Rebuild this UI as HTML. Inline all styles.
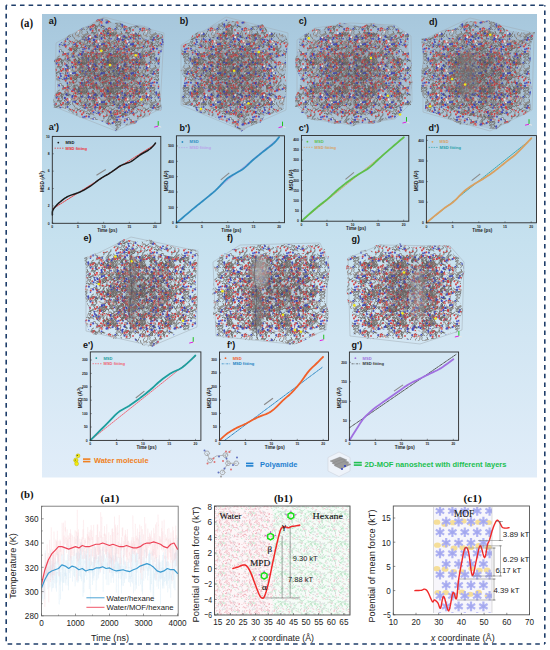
<!DOCTYPE html>
<html><head><meta charset="utf-8"><style>
html,body{margin:0;padding:0;background:#fff;}
body{width:550px;height:650px;overflow:hidden;font-family:"Liberation Sans",sans-serif;}
svg{display:block;}
</style></head><body>
<svg width="550" height="650" viewBox="0 0 550 650">
<defs><pattern id="m1" patternUnits="userSpaceOnUse" width="34" height="34"><polyline points="15.38,19.03 17.21,20.23 18.9,19.01 19.09,17.12" fill="none" stroke="#625e5a" stroke-width="1.0"/><polyline points="18.32,30.27 19.51,28.36 18.22,26.29 16.46,25.96 15.01,27.85" fill="none" stroke="#7c7874" stroke-width="1.0"/><polyline points="14.98,28.64 14.1,26.56 15.43,25.06 14.64,23.32 13.01,23.17" fill="none" stroke="#686460" stroke-width="1.0"/><polyline points="26.05,13.61 24.53,11.7 22,11.72 20.7,13.95" fill="none" stroke="#8a8682" stroke-width="1.0"/><polyline points="14.27,19.25 13.12,20.78 14.53,22.67 16.83,22.83 18.56,21.17" fill="none" stroke="#6e6a66" stroke-width="1.0"/><polyline points="23.19,6.41 22.04,8.02 20.23,7.92 19.52,5.45 20.89,4.6" fill="none" stroke="#6e6a66" stroke-width="1.0"/><polyline points="13.41,29.05 11.74,29.76 9.7,28.9" fill="none" stroke="#7c7874" stroke-width="1.0"/><polyline points="13.13,2.53 14.85,3.48 15.3,5.62 17.06,5.86 18.31,4.52" fill="none" stroke="#686460" stroke-width="1.0"/><polyline points="8.48,6.45 6.62,5.75 6.4,3.74 4.67,2.53 4.57,0.23" fill="none" stroke="#7c7874" stroke-width="1.0"/><polyline points="8.48,40.45 6.62,39.75 6.4,37.74 4.67,36.53 4.57,34.23" fill="none" stroke="#7c7874" stroke-width="1.0"/><polyline points="14.31,-3.24 13.67,-0.74 15,0.96 17.52,0.88 18.11,-0.68" fill="none" stroke="#8a8682" stroke-width="1.0"/><polyline points="14.31,30.76 13.67,33.26 15,34.96 17.52,34.88 18.11,33.32" fill="none" stroke="#8a8682" stroke-width="1.0"/><polyline points="15.15,2.06 16.83,2.5 16.88,4.76 19.14,5.87" fill="none" stroke="#8a8682" stroke-width="1.0"/><polyline points="-3.05,23.83 -2.37,21.6 -0.84,20.94" fill="none" stroke="#8a8682" stroke-width="1.0"/><polyline points="30.95,23.83 31.63,21.6 33.16,20.94" fill="none" stroke="#8a8682" stroke-width="1.0"/><polyline points="18.57,25.06 17.94,22.62 19.09,20.9 17.88,19.29 15.81,19.95" fill="none" stroke="#686460" stroke-width="1.0"/><polyline points="22.52,12.89 23.75,11.7 25.82,12.76" fill="none" stroke="#8a8682" stroke-width="1.0"/><polyline points="31.76,23.6 31.25,25.65 29.22,26.11 29.1,27.82" fill="none" stroke="#686460" stroke-width="1.0"/><polyline points="22.44,16.53 24.6,17.02 25.72,15.43 27.56,15.6" fill="none" stroke="#8a8682" stroke-width="1.0"/><polyline points="22.64,6.75 22.33,8.91 20.82,9.77" fill="none" stroke="#7c7874" stroke-width="1.0"/><polyline points="28.46,28.86 26.62,27.92 25.16,29.26 23.02,28.38" fill="none" stroke="#686460" stroke-width="1.0"/><polyline points="15.38,2.54 16.49,1.02 18.88,1.05 19.78,-0.74 18.95,-3.03" fill="none" stroke="#6e6a66" stroke-width="1.0"/><polyline points="15.38,36.54 16.49,35.02 18.88,35.05 19.78,33.26 18.95,30.97" fill="none" stroke="#6e6a66" stroke-width="1.0"/><polyline points="26.49,27.09 28.05,28.55 27.03,30.6" fill="none" stroke="#6e6a66" stroke-width="1.0"/><polyline points="28.01,8.71 26.33,7.88 26.22,5.34 24.15,4.13" fill="none" stroke="#6e6a66" stroke-width="1.0"/><polyline points="2.97,31.71 4.64,30.25 4.35,28.1" fill="none" stroke="#686460" stroke-width="1.0"/><polyline points="27.09,-1.9 25.92,0.28 26.93,2.57 29.05,2.29 30.66,3.95" fill="none" stroke="#625e5a" stroke-width="1.0"/><polyline points="27.09,32.1 25.92,34.28 26.93,36.57 29.05,36.29 30.66,37.95" fill="none" stroke="#625e5a" stroke-width="1.0"/><polyline points="11.85,2.81 10.41,1.3 7.96,1.54 7.16,-0.05 8.73,-2.01" fill="none" stroke="#8a8682" stroke-width="1.0"/><polyline points="11.85,36.81 10.41,35.3 7.96,35.54 7.16,33.95 8.73,31.99" fill="none" stroke="#8a8682" stroke-width="1.0"/><polyline points="5.05,17.56 6.93,16.63 6.78,14.59 8.75,13.7 8.95,11.26" fill="none" stroke="#686460" stroke-width="1.0"/><polyline points="8.72,22.82 9.29,21.18 11.07,20.91 11.87,18.85 10.81,17.6" fill="none" stroke="#8a8682" stroke-width="1.0"/><polyline points="18.5,-0.36 20.63,-0.5 21.51,1.73" fill="none" stroke="#8a8682" stroke-width="1.0"/><polyline points="18.5,33.64 20.63,33.5 21.51,35.73" fill="none" stroke="#8a8682" stroke-width="1.0"/><polyline points="9.15,16.09 8.67,17.73 6.18,18.16 5.55,20.66" fill="none" stroke="#625e5a" stroke-width="1.0"/><polyline points="6.6,7.73 7.65,5.91 9.36,6.12 10.02,8.33" fill="none" stroke="#8a8682" stroke-width="1.0"/><polyline points="0.79,21.52 -0.59,19.48 -3.04,19.71 -4.29,21.68 -6.14,21.22" fill="none" stroke="#7c7874" stroke-width="1.0"/><polyline points="34.79,21.52 33.41,19.48 30.96,19.71 29.71,21.68 27.86,21.22" fill="none" stroke="#7c7874" stroke-width="1.0"/><polyline points="30.28,6.62 29.11,5.2 27.42,5.28" fill="none" stroke="#8a8682" stroke-width="1.0"/><polyline points="18.47,23.96 20.46,24.83 20.21,27.39 22.15,28.49 22.16,30.78" fill="none" stroke="#6e6a66" stroke-width="1.0"/><polyline points="27.3,16.39 28.22,17.92 29.96,18.16 30.25,19.83 32.21,21" fill="none" stroke="#625e5a" stroke-width="1.0"/><polyline points="26,11.11 24.48,9.52 22.92,10.02 22.17,11.94 20.41,12.29" fill="none" stroke="#6e6a66" stroke-width="1.0"/><polyline points="3.22,26.94 1.43,26.98 0.72,25.26" fill="none" stroke="#625e5a" stroke-width="1.0"/><polyline points="37.22,26.94 35.43,26.98 34.72,25.26" fill="none" stroke="#625e5a" stroke-width="1.0"/><polyline points="25.31,26.45 23.46,24.8 24.25,22.57 25.94,22" fill="none" stroke="#7c7874" stroke-width="1.0"/><polyline points="10.26,3.43 10.13,0.89 11.93,-0.48 11.64,-2.45 13.55,-3.74" fill="none" stroke="#8a8682" stroke-width="1.0"/><polyline points="10.26,37.43 10.13,34.89 11.93,33.52 11.64,31.55 13.55,30.26" fill="none" stroke="#8a8682" stroke-width="1.0"/><polyline points="-0.68,0.78 -2.64,1.18 -3.06,3.39 -1.92,4.85 -2.76,6.78" fill="none" stroke="#686460" stroke-width="1.0"/><polyline points="-0.68,34.78 -2.64,35.18 -3.06,37.39 -1.92,38.85 -2.76,40.78" fill="none" stroke="#686460" stroke-width="1.0"/><polyline points="33.32,0.78 31.36,1.18 30.94,3.39 32.08,4.85 31.24,6.78" fill="none" stroke="#686460" stroke-width="1.0"/><polyline points="33.32,34.78 31.36,35.18 30.94,37.39 32.08,38.85 31.24,40.78" fill="none" stroke="#686460" stroke-width="1.0"/><polyline points="19.31,-0.17 17.09,0.3 16.17,2.67 14.43,2.96 13.07,1.23" fill="none" stroke="#8a8682" stroke-width="1.0"/><polyline points="19.31,33.83 17.09,34.3 16.17,36.67 14.43,36.96 13.07,35.23" fill="none" stroke="#8a8682" stroke-width="1.0"/><polyline points="-1.86,14.3 -2.63,12.58 -1.47,11.09 0.89,10.86 1.59,8.98" fill="none" stroke="#76726e" stroke-width="1.0"/><polyline points="32.14,14.3 31.37,12.58 32.53,11.09 34.89,10.86 35.59,8.98" fill="none" stroke="#76726e" stroke-width="1.0"/><polyline points="13.26,30.52 15.1,28.82 16.8,29.57" fill="none" stroke="#6e6a66" stroke-width="1.0"/><polyline points="1.54,3.35 -0.37,1.87 -2.35,2.2 -3.15,3.65" fill="none" stroke="#686460" stroke-width="1.0"/><polyline points="35.54,3.35 33.63,1.87 31.65,2.2 30.85,3.65" fill="none" stroke="#686460" stroke-width="1.0"/><polyline points="5.26,12.35 4.37,14.41 2.07,14.83 1.8,17.15" fill="none" stroke="#6e6a66" stroke-width="1.0"/><polyline points="16.36,17.1 14.22,17.68 13.78,19.99 15.64,20.97 16.84,19.84" fill="none" stroke="#625e5a" stroke-width="1.0"/><polyline points="0.32,8.82 1.71,7.55 0.98,5.95" fill="none" stroke="#6e6a66" stroke-width="1.0"/><polyline points="34.32,8.82 35.71,7.55 34.98,5.95" fill="none" stroke="#6e6a66" stroke-width="1.0"/><polyline points="21.46,12.69 19.89,10.95 17.97,11.68" fill="none" stroke="#686460" stroke-width="1.0"/><polyline points="28.49,26.14 27.09,25.09 24.8,26.29 22.69,25.23 21.01,26.26" fill="none" stroke="#625e5a" stroke-width="1.0"/><polyline points="15.71,11.02 15.53,8.97 14.07,7.88 12.24,8.89" fill="none" stroke="#76726e" stroke-width="1.0"/><polyline points="11.15,29.98 9.93,31.19 7.53,30.44 6.93,28.12 8.21,26.82" fill="none" stroke="#76726e" stroke-width="1.0"/><polyline points="30.42,8.44 30.97,10.36 29.11,11.78 27.28,10.67" fill="none" stroke="#686460" stroke-width="1.0"/><polyline points="19.13,6 17.88,4.92 15.49,5.84 13.57,4.88" fill="none" stroke="#686460" stroke-width="1.0"/><polyline points="2.86,2.78 1.1,1.37 -0.88,2.44 -0.71,4.52" fill="none" stroke="#686460" stroke-width="1.0"/><polyline points="36.86,2.78 35.1,1.37 33.12,2.44 33.29,4.52" fill="none" stroke="#686460" stroke-width="1.0"/><polyline points="11.5,15.61 12.36,17.56 14.88,17.57 15.86,19.96" fill="none" stroke="#7c7874" stroke-width="1.0"/><polyline points="29.02,27.4 27.84,25.41 25.82,25.36 24.72,26.74" fill="none" stroke="#76726e" stroke-width="1.0"/><polyline points="12.77,5.7 11.26,7.68 9.55,7.62 8.83,9.25" fill="none" stroke="#625e5a" stroke-width="1.0"/><polyline points="25.61,0.58 24.28,-0.61 22.22,0.16" fill="none" stroke="#8a8682" stroke-width="1.0"/><polyline points="25.61,34.58 24.28,33.39 22.22,34.16" fill="none" stroke="#8a8682" stroke-width="1.0"/><polyline points="20.22,7.61 19.14,9.71 16.6,9.66 15.93,7.68" fill="none" stroke="#8a8682" stroke-width="1.0"/><polyline points="31.08,11.63 31,9.63 28.68,9.03" fill="none" stroke="#8a8682" stroke-width="1.0"/><polyline points="-0.82,27.02 -3.01,25.89 -3.14,24.04" fill="none" stroke="#8a8682" stroke-width="1.0"/><polyline points="33.18,27.02 30.99,25.89 30.86,24.04" fill="none" stroke="#8a8682" stroke-width="1.0"/><polyline points="20.61,5.35 23.07,5.49 24.33,3.22 25.99,3.21" fill="none" stroke="#686460" stroke-width="1.0"/><polyline points="26.19,0.05 25.48,-1.68 23.19,-1.53" fill="none" stroke="#625e5a" stroke-width="1.0"/><polyline points="26.19,34.05 25.48,32.32 23.19,32.47" fill="none" stroke="#625e5a" stroke-width="1.0"/><polyline points="32.49,19.95 31.48,18.2 29.46,18.48 28.72,20.47" fill="none" stroke="#6e6a66" stroke-width="1.0"/><polyline points="-1.82,-1.23 -0.22,0.82 2.06,0.66 2.88,-1.47" fill="none" stroke="#76726e" stroke-width="1.0"/><polyline points="-1.82,32.77 -0.22,34.82 2.06,34.66 2.88,32.53" fill="none" stroke="#76726e" stroke-width="1.0"/><polyline points="32.18,-1.23 33.78,0.82 36.06,0.66 36.88,-1.47" fill="none" stroke="#76726e" stroke-width="1.0"/><polyline points="32.18,32.77 33.78,34.82 36.06,34.66 36.88,32.53" fill="none" stroke="#76726e" stroke-width="1.0"/><polyline points="-1.13,28.21 -0.04,26.44 2.02,26.58" fill="none" stroke="#625e5a" stroke-width="1.0"/><polyline points="32.87,28.21 33.96,26.44 36.02,26.58" fill="none" stroke="#625e5a" stroke-width="1.0"/><polyline points="29.11,28.71 27.31,27.89 27.64,25.55 26.36,24.29 23.86,24.75" fill="none" stroke="#686460" stroke-width="1.0"/><polyline points="15.97,21.77 15.14,23.83 16.72,25.51 18.35,25.39" fill="none" stroke="#8a8682" stroke-width="1.0"/><polyline points="20.15,3.06 22.33,4 22.14,6.02" fill="none" stroke="#686460" stroke-width="1.0"/><polyline points="4.73,6.99 3.75,9.31 5.27,10.91 4.07,12.97 4.77,14.62" fill="none" stroke="#7c7874" stroke-width="1.0"/><polyline points="22.12,3.61 19.92,2.61 18.04,3.64 16.4,2.58 14.83,3.47" fill="none" stroke="#686460" stroke-width="1.0"/><polyline points="-0.06,24.03 0.04,22.24 -1.47,20.81 -0.83,18.99 1.54,18.25" fill="none" stroke="#8a8682" stroke-width="1.0"/><polyline points="33.94,24.03 34.04,22.24 32.53,20.81 33.17,18.99 35.54,18.25" fill="none" stroke="#8a8682" stroke-width="1.0"/><polyline points="-0.9,4.61 -1.11,2.76 0.33,1.81 0.44,-0.68 -1.34,-1.51" fill="none" stroke="#6e6a66" stroke-width="1.0"/><polyline points="-0.9,38.61 -1.11,36.76 0.33,35.81 0.44,33.32 -1.34,32.49" fill="none" stroke="#6e6a66" stroke-width="1.0"/><polyline points="33.1,4.61 32.89,2.76 34.33,1.81 34.44,-0.68 32.66,-1.51" fill="none" stroke="#6e6a66" stroke-width="1.0"/><polyline points="33.1,38.61 32.89,36.76 34.33,35.81 34.44,33.32 32.66,32.49" fill="none" stroke="#6e6a66" stroke-width="1.0"/><polyline points="6.31,18.63 6.83,21.16 8.91,22.08" fill="none" stroke="#76726e" stroke-width="1.0"/><polyline points="30.82,20.92 28.75,20.95 27.94,22.47" fill="none" stroke="#8a8682" stroke-width="1.0"/><polyline points="5.91,17.67 4.02,19.13 4.21,21.22 6.02,22.09 5.91,24.17" fill="none" stroke="#8a8682" stroke-width="1.0"/><polyline points="28.5,-4.93 28.71,-2.43 27.02,-1.3 26.99,0.36" fill="none" stroke="#76726e" stroke-width="1.0"/><polyline points="28.5,29.07 28.71,31.57 27.02,32.7 26.99,34.36" fill="none" stroke="#76726e" stroke-width="1.0"/><circle cx="20.95" cy="14.73" r="0.99" fill="#3a42bc"/><circle cx="25.56" cy="10.36" r="1.08" fill="#3a42bc"/><circle cx="8.31" cy="28.71" r="0.96" fill="#d23a3a"/><circle cx="13.49" cy="1.77" r="0.83" fill="#b0b0b0"/><circle cx="13.49" cy="35.77" r="0.83" fill="#b0b0b0"/><circle cx="30.94" cy="18.53" r="0.93" fill="#e8e8e8"/><circle cx="8.02" cy="2.33" r="1.11" fill="#b0b0b0"/><circle cx="22.63" cy="29.46" r="0.98" fill="#3a42bc"/><circle cx="5.58" cy="22.08" r="0.98" fill="#3a42bc"/><circle cx="30.72" cy="3.35" r="0.84" fill="#b0b0b0"/><circle cx="29.99" cy="19.58" r="0.8" fill="#3a42bc"/><circle cx="8.29" cy="10.18" r="0.86" fill="#d23a3a"/><circle cx="14.99" cy="15.3" r="0.93" fill="#3a42bc"/><circle cx="12.12" cy="19.91" r="0.9" fill="#d23a3a"/><circle cx="15.47" cy="10.67" r="0.96" fill="#d23a3a"/><circle cx="31.75" cy="-0.77" r="1.08" fill="#3a42bc"/><circle cx="31.75" cy="33.23" r="1.08" fill="#3a42bc"/><circle cx="6.89" cy="29.21" r="1.09" fill="#b0b0b0"/><circle cx="6.65" cy="28.49" r="1.09" fill="#d23a3a"/><circle cx="0.55" cy="21.6" r="1.12" fill="#b0b0b0"/><circle cx="34.55" cy="21.6" r="1.12" fill="#b0b0b0"/><circle cx="6.87" cy="21.5" r="1.1" fill="#d23a3a"/><circle cx="-0.81" cy="22.1" r="1.03" fill="#d23a3a"/><circle cx="33.19" cy="22.1" r="1.03" fill="#d23a3a"/><circle cx="10.64" cy="30.61" r="0.93" fill="#e87474"/><circle cx="29.89" cy="11.39" r="0.94" fill="#b0b0b0"/><circle cx="2.69" cy="7.59" r="0.84" fill="#d23a3a"/><circle cx="23.5" cy="9.14" r="0.88" fill="#b0b0b0"/><circle cx="22.6" cy="26.88" r="1.06" fill="#d23a3a"/><circle cx="17.83" cy="3.94" r="0.87" fill="#3a42bc"/><circle cx="10.23" cy="31.51" r="0.87" fill="#e8e8e8"/><circle cx="4.51" cy="22.71" r="1.11" fill="#3a42bc"/><circle cx="14.97" cy="17.96" r="1.09" fill="#3a42bc"/><circle cx="0.24" cy="19.94" r="0.88" fill="#3a42bc"/><circle cx="34.24" cy="19.94" r="0.88" fill="#3a42bc"/><circle cx="27.31" cy="2.96" r="1.12" fill="#d23a3a"/><circle cx="6.44" cy="6.1" r="0.98" fill="#b0b0b0"/><circle cx="6.34" cy="30.5" r="1" fill="#d23a3a"/><circle cx="31.16" cy="19.89" r="1.1" fill="#d23a3a"/><circle cx="17" cy="6.12" r="1.05" fill="#3a42bc"/><circle cx="30.93" cy="10.91" r="1.05" fill="#3a42bc"/><circle cx="17.57" cy="17.19" r="1" fill="#e87474"/><circle cx="-0.56" cy="25.31" r="0.86" fill="#3a42bc"/><circle cx="33.44" cy="25.31" r="0.86" fill="#3a42bc"/><circle cx="26.51" cy="5.62" r="0.94" fill="#3a42bc"/><circle cx="22.73" cy="18.63" r="1.05" fill="#d23a3a"/><circle cx="26.9" cy="8.02" r="0.97" fill="#3a42bc"/><circle cx="28.99" cy="20.51" r="0.81" fill="#d23a3a"/><circle cx="20.29" cy="24.3" r="0.94" fill="#3a42bc"/><circle cx="29.94" cy="11.05" r="0.81" fill="#3a42bc"/><circle cx="16.87" cy="14.78" r="1.03" fill="#3a42bc"/><circle cx="29.13" cy="1.05" r="1.09" fill="#d23a3a"/><circle cx="29.13" cy="35.05" r="1.09" fill="#d23a3a"/><circle cx="19.34" cy="18.47" r="1.03" fill="#b0b0b0"/><circle cx="21.19" cy="1.84" r="0.81" fill="#3a42bc"/><circle cx="21.19" cy="35.84" r="0.81" fill="#3a42bc"/><circle cx="10.69" cy="21.12" r="1.05" fill="#3a42bc"/><circle cx="26.02" cy="16.94" r="1.06" fill="#e8e8e8"/><circle cx="5.83" cy="8.66" r="0.96" fill="#d23a3a"/><circle cx="22.41" cy="20.26" r="0.82" fill="#3a42bc"/><circle cx="13.96" cy="12.39" r="1.03" fill="#d23a3a"/><circle cx="-1.45" cy="4.37" r="1.04" fill="#b0b0b0"/><circle cx="32.55" cy="4.37" r="1.04" fill="#b0b0b0"/><circle cx="-0.47" cy="4.92" r="0.97" fill="#3a42bc"/><circle cx="33.53" cy="4.92" r="0.97" fill="#3a42bc"/><circle cx="-0.49" cy="0.11" r="1.08" fill="#3a42bc"/><circle cx="-0.49" cy="34.11" r="1.08" fill="#3a42bc"/><circle cx="33.51" cy="0.11" r="1.08" fill="#3a42bc"/><circle cx="33.51" cy="34.11" r="1.08" fill="#3a42bc"/><circle cx="4.81" cy="13.36" r="0.95" fill="#d23a3a"/><circle cx="31.81" cy="-0.96" r="1.12" fill="#e8e8e8"/><circle cx="31.81" cy="33.04" r="1.12" fill="#e8e8e8"/><circle cx="25.95" cy="24.96" r="0.89" fill="#d23a3a"/><circle cx="4.04" cy="29.08" r="0.95" fill="#3a42bc"/><circle cx="31.7" cy="12.38" r="1.1" fill="#d23a3a"/><circle cx="31.39" cy="7.42" r="0.93" fill="#d23a3a"/><circle cx="22.09" cy="1.99" r="0.98" fill="#d23a3a"/><circle cx="22.09" cy="35.99" r="0.98" fill="#d23a3a"/><circle cx="31.01" cy="30.07" r="0.95" fill="#d23a3a"/><circle cx="13.36" cy="28.66" r="0.92" fill="#3a42bc"/><circle cx="1.67" cy="14.23" r="0.86" fill="#d23a3a"/><circle cx="35.67" cy="14.23" r="0.86" fill="#d23a3a"/><circle cx="18.68" cy="5.57" r="0.93" fill="#d23a3a"/><circle cx="20.19" cy="25.83" r="0.94" fill="#3a42bc"/><circle cx="-0.23" cy="23.09" r="0.96" fill="#e87474"/><circle cx="33.77" cy="23.09" r="0.96" fill="#e87474"/><circle cx="18.37" cy="14.25" r="1.02" fill="#d23a3a"/><circle cx="12.34" cy="9.33" r="0.97" fill="#d23a3a"/><circle cx="25.21" cy="17.41" r="1.1" fill="#3a42bc"/><circle cx="24.32" cy="9.13" r="0.82" fill="#d23a3a"/><circle cx="24.75" cy="26.41" r="1.05" fill="#d23a3a"/><circle cx="24.6" cy="30.84" r="1.12" fill="#d23a3a"/></pattern><pattern id="m2" patternUnits="userSpaceOnUse" width="29" height="29"><polyline points="26.82,27.51 26.42,25.53 27.52,24.12" fill="none" stroke="#8a8682" stroke-width="1.0"/><polyline points="0.41,17.98 -0.29,16 -2.58,15.59" fill="none" stroke="#7c7874" stroke-width="1.0"/><polyline points="29.41,17.98 28.71,16 26.42,15.59" fill="none" stroke="#7c7874" stroke-width="1.0"/><polyline points="22.35,5.96 23.97,3.97 26.39,4.44 26.85,6.3" fill="none" stroke="#625e5a" stroke-width="1.0"/><polyline points="23.61,5.15 22.65,6.65 20.55,6.35 19,7.66" fill="none" stroke="#686460" stroke-width="1.0"/><polyline points="7.99,16.61 7.02,14.99 8.35,13.43 7.98,11.76" fill="none" stroke="#625e5a" stroke-width="1.0"/><polyline points="20.51,24.03 22.64,24.54 23.76,26.86 25.75,26.87 26.58,24.74" fill="none" stroke="#6e6a66" stroke-width="1.0"/><polyline points="23.34,-1.48 21.43,0.23 19.87,-0.27 19.47,-2.02" fill="none" stroke="#8a8682" stroke-width="1.0"/><polyline points="23.34,27.52 21.43,29.23 19.87,28.73 19.47,26.98" fill="none" stroke="#8a8682" stroke-width="1.0"/><polyline points="-1.44,6.26 0.46,5.24 0.76,3.24 -0.73,1.99 0.09,-0.37" fill="none" stroke="#76726e" stroke-width="1.0"/><polyline points="-1.44,35.26 0.46,34.24 0.76,32.24 -0.73,30.99 0.09,28.63" fill="none" stroke="#76726e" stroke-width="1.0"/><polyline points="27.56,6.26 29.46,5.24 29.76,3.24 28.27,1.99 29.09,-0.37" fill="none" stroke="#76726e" stroke-width="1.0"/><polyline points="27.56,35.26 29.46,34.24 29.76,32.24 28.27,30.99 29.09,28.63" fill="none" stroke="#76726e" stroke-width="1.0"/><polyline points="23.5,2.02 24.01,0.06 26.14,-0.23 26.52,-1.9 25.06,-3.49" fill="none" stroke="#8a8682" stroke-width="1.0"/><polyline points="23.5,31.02 24.01,29.06 26.14,28.77 26.52,27.1 25.06,25.51" fill="none" stroke="#8a8682" stroke-width="1.0"/><polyline points="7.2,-1.41 9.17,-2.29 11.02,-0.48 11.01,1.5 12.85,2.28" fill="none" stroke="#76726e" stroke-width="1.0"/><polyline points="7.2,27.59 9.17,26.71 11.02,28.52 11.01,30.5 12.85,31.28" fill="none" stroke="#76726e" stroke-width="1.0"/><polyline points="0.88,18.98 2.75,18.08 2.87,16.19" fill="none" stroke="#625e5a" stroke-width="1.0"/><polyline points="29.88,18.98 31.75,18.08 31.87,16.19" fill="none" stroke="#625e5a" stroke-width="1.0"/><polyline points="6.57,1.8 6.01,-0.33 7.56,-1.6 10.01,-0.98" fill="none" stroke="#6e6a66" stroke-width="1.0"/><polyline points="6.57,30.8 6.01,28.67 7.56,27.4 10.01,28.02" fill="none" stroke="#6e6a66" stroke-width="1.0"/><polyline points="11.24,12.17 13.52,11.98 14.79,13.35 16.45,12.96" fill="none" stroke="#8a8682" stroke-width="1.0"/><polyline points="-0.3,8.05 -2.06,6.35 -4.04,7.23" fill="none" stroke="#8a8682" stroke-width="1.0"/><polyline points="28.7,8.05 26.94,6.35 24.96,7.23" fill="none" stroke="#8a8682" stroke-width="1.0"/><polyline points="1.24,23.41 3.17,24.79 4.88,23.75 6.42,24.4" fill="none" stroke="#76726e" stroke-width="1.0"/><polyline points="18.99,4.92 19.21,3.2 17.49,2.4 17.36,0.04 15.36,-0.85" fill="none" stroke="#7c7874" stroke-width="1.0"/><polyline points="18.99,33.92 19.21,32.2 17.49,31.4 17.36,29.04 15.36,28.15" fill="none" stroke="#7c7874" stroke-width="1.0"/><polyline points="0.85,10.17 3.34,9.45 3.89,7.06" fill="none" stroke="#8a8682" stroke-width="1.0"/><polyline points="29.85,10.17 32.34,9.45 32.89,7.06" fill="none" stroke="#8a8682" stroke-width="1.0"/><polyline points="19.24,15.42 17.56,16.93 17.93,19.49 16.49,20.27 14.88,19.44" fill="none" stroke="#76726e" stroke-width="1.0"/><polyline points="15.52,6.11 15.46,8.13 17.23,9.1" fill="none" stroke="#6e6a66" stroke-width="1.0"/><polyline points="27.7,1.02 25.53,1.17 24.6,3.19" fill="none" stroke="#8a8682" stroke-width="1.0"/><polyline points="23.6,5.27 22.35,3.64 20.37,3.8" fill="none" stroke="#625e5a" stroke-width="1.0"/><polyline points="21.38,12.22 19.67,11.84 18.28,13.81 16.57,13.62 15.15,15.4" fill="none" stroke="#76726e" stroke-width="1.0"/><polyline points="23.16,3.4 24.2,1.94 26.06,2.39 26.85,4.77 25.43,6.63" fill="none" stroke="#6e6a66" stroke-width="1.0"/><polyline points="22.92,16.52 22.43,14.02 20.57,13.59" fill="none" stroke="#7c7874" stroke-width="1.0"/><polyline points="3.21,23.99 5.23,22.42 4.96,20.57" fill="none" stroke="#686460" stroke-width="1.0"/><polyline points="12.23,18.42 13.04,16.89 11.8,14.91" fill="none" stroke="#6e6a66" stroke-width="1.0"/><polyline points="7.54,-2.13 5.59,-1.18 5.59,0.56 7.41,1.78" fill="none" stroke="#686460" stroke-width="1.0"/><polyline points="7.54,26.87 5.59,27.82 5.59,29.56 7.41,30.78" fill="none" stroke="#686460" stroke-width="1.0"/><polyline points="16.17,-0.7 17.23,-2.27 16.18,-3.74 14.45,-3.87" fill="none" stroke="#686460" stroke-width="1.0"/><polyline points="16.17,28.3 17.23,26.73 16.18,25.26 14.45,25.13" fill="none" stroke="#686460" stroke-width="1.0"/><polyline points="19.41,3.22 18.12,1.53 16.34,2.07 16.2,4.39 17.65,5.81" fill="none" stroke="#625e5a" stroke-width="1.0"/><polyline points="5.95,14.52 7.2,12.67 8.95,12.77" fill="none" stroke="#686460" stroke-width="1.0"/><polyline points="23,9.72 21.74,10.94 19.53,10.13" fill="none" stroke="#8a8682" stroke-width="1.0"/><polyline points="23.69,4.73 23.33,2.38 25.05,0.7 26.6,1.4" fill="none" stroke="#686460" stroke-width="1.0"/><polyline points="23.69,33.73 23.33,31.38 25.05,29.7 26.6,30.4" fill="none" stroke="#686460" stroke-width="1.0"/><polyline points="19.33,10.91 17.37,9.43 17.75,7.76" fill="none" stroke="#76726e" stroke-width="1.0"/><polyline points="19.38,18.97 21.87,19.4 23.03,18.12 25.52,18.69" fill="none" stroke="#76726e" stroke-width="1.0"/><polyline points="-5.46,16.52 -4.77,14.88 -2.86,14.55 -2.39,12.1 -0.03,11.35" fill="none" stroke="#8a8682" stroke-width="1.0"/><polyline points="23.54,16.52 24.23,14.88 26.14,14.55 26.61,12.1 28.97,11.35" fill="none" stroke="#8a8682" stroke-width="1.0"/><polyline points="10.18,-2.15 9.01,-3.41 7.22,-2.59 7.12,-0.18 5.03,1.24" fill="none" stroke="#6e6a66" stroke-width="1.0"/><polyline points="10.18,26.85 9.01,25.59 7.22,26.41 7.12,28.82 5.03,30.24" fill="none" stroke="#6e6a66" stroke-width="1.0"/><polyline points="19.93,-0.54 21.08,1.5 20.13,3.43" fill="none" stroke="#686460" stroke-width="1.0"/><polyline points="19.93,28.46 21.08,30.5 20.13,32.43" fill="none" stroke="#686460" stroke-width="1.0"/><polyline points="12.36,21.6 11.06,20.46 9.04,20.74 8.3,22.27" fill="none" stroke="#76726e" stroke-width="1.0"/><polyline points="10.54,8.55 9.43,6.46 10.62,5.33 9.77,3.04" fill="none" stroke="#8a8682" stroke-width="1.0"/><polyline points="15.69,18.57 17.28,16.62 19.32,17.26 20.54,15.94" fill="none" stroke="#625e5a" stroke-width="1.0"/><polyline points="8.14,23.16 6.54,24.9 4.43,24.69 3.31,27.03" fill="none" stroke="#8a8682" stroke-width="1.0"/><polyline points="22.91,3.36 24.63,3.46 26.05,5.43 27.65,5.49" fill="none" stroke="#76726e" stroke-width="1.0"/><polyline points="8.53,5.84 8.87,8.33 11.3,8.9" fill="none" stroke="#625e5a" stroke-width="1.0"/><polyline points="20.89,0.09 21.56,2.29 19.64,3.68 19.62,6.05 20.81,7.21" fill="none" stroke="#625e5a" stroke-width="1.0"/><polyline points="20.89,29.09 21.56,31.29 19.64,32.68 19.62,35.05 20.81,36.21" fill="none" stroke="#625e5a" stroke-width="1.0"/><polyline points="2.43,7.19 1.67,9.14 3.31,10.54" fill="none" stroke="#6e6a66" stroke-width="1.0"/><polyline points="0.2,14.66 0.5,12.48 -1.37,10.77" fill="none" stroke="#686460" stroke-width="1.0"/><polyline points="29.2,14.66 29.5,12.48 27.63,10.77" fill="none" stroke="#686460" stroke-width="1.0"/><polyline points="15.91,19.32 17.71,19.22 18.61,21.34" fill="none" stroke="#7c7874" stroke-width="1.0"/><polyline points="18.47,19.25 16.55,18.07 14.17,18.74 12.85,17.27" fill="none" stroke="#8a8682" stroke-width="1.0"/><polyline points="-2.83,6.38 -0.91,5.72 -0.56,3.71 -1.84,2.62 -4.15,3.49" fill="none" stroke="#6e6a66" stroke-width="1.0"/><polyline points="26.17,6.38 28.09,5.72 28.44,3.71 27.16,2.62 24.85,3.49" fill="none" stroke="#6e6a66" stroke-width="1.0"/><polyline points="0.93,-5.6 0.09,-3.41 -1.71,-3.53 -2.65,-1.35 -1.23,0.03" fill="none" stroke="#76726e" stroke-width="1.0"/><polyline points="0.93,23.4 0.09,25.59 -1.71,25.47 -2.65,27.65 -1.23,29.03" fill="none" stroke="#76726e" stroke-width="1.0"/><polyline points="29.93,-5.6 29.09,-3.41 27.29,-3.53 26.35,-1.35 27.77,0.03" fill="none" stroke="#76726e" stroke-width="1.0"/><polyline points="29.93,23.4 29.09,25.59 27.29,25.47 26.35,27.65 27.77,29.03" fill="none" stroke="#76726e" stroke-width="1.0"/><polyline points="27.76,-0.79 27.34,0.95 25.67,1.69 23.41,0.57 21.67,1.85" fill="none" stroke="#76726e" stroke-width="1.0"/><polyline points="27.76,28.21 27.34,29.95 25.67,30.69 23.41,29.57 21.67,30.85" fill="none" stroke="#76726e" stroke-width="1.0"/><polyline points="13.99,6.56 16.03,6.75 17.36,4.94 19.71,5.01 20.3,7.21" fill="none" stroke="#7c7874" stroke-width="1.0"/><polyline points="25.36,5.64 22.89,5.57 21.76,6.93 22.67,8.3 22.24,9.92" fill="none" stroke="#625e5a" stroke-width="1.0"/><polyline points="5.67,15.27 6.31,17.1 8.06,17.03 8.77,18.58" fill="none" stroke="#76726e" stroke-width="1.0"/><polyline points="14.14,-5.21 13.03,-3.71 13.83,-2.12 12.63,-0.53 10.17,-0.6" fill="none" stroke="#8a8682" stroke-width="1.0"/><polyline points="14.14,23.79 13.03,25.29 13.83,26.88 12.63,28.47 10.17,28.4" fill="none" stroke="#8a8682" stroke-width="1.0"/><polyline points="0.4,3.57 -1.87,2.63 -3.73,3.46" fill="none" stroke="#8a8682" stroke-width="1.0"/><polyline points="29.4,3.57 27.13,2.63 25.27,3.46" fill="none" stroke="#8a8682" stroke-width="1.0"/><polyline points="21.11,11.29 22.63,12.35 22.13,14.59 24.14,16.17 24.11,17.89" fill="none" stroke="#76726e" stroke-width="1.0"/><polyline points="11.88,20 13.27,20.94 14.64,20.08 16.72,20.69" fill="none" stroke="#6e6a66" stroke-width="1.0"/><polyline points="18.51,17.15 19.31,19.46 17.96,21.51 16.36,21.43 15.45,23.17" fill="none" stroke="#625e5a" stroke-width="1.0"/><polyline points="2.32,11.98 2.01,9.57 0.02,8.46 -1.58,9.84 -0.81,11.63" fill="none" stroke="#8a8682" stroke-width="1.0"/><polyline points="31.32,11.98 31.01,9.57 29.02,8.46 27.42,9.84 28.19,11.63" fill="none" stroke="#8a8682" stroke-width="1.0"/><circle cx="17.91" cy="9.44" r="0.84" fill="#d23a3a"/><circle cx="6.42" cy="20.06" r="0.99" fill="#e87474"/><circle cx="6.75" cy="10.89" r="1.11" fill="#3a42bc"/><circle cx="23.28" cy="6.46" r="1.01" fill="#d23a3a"/><circle cx="14.97" cy="15.23" r="1.02" fill="#3a42bc"/><circle cx="15.47" cy="24.39" r="0.96" fill="#d23a3a"/><circle cx="11.65" cy="12.39" r="1.02" fill="#e8e8e8"/><circle cx="24.06" cy="9.85" r="0.82" fill="#3a42bc"/><circle cx="1.42" cy="10.42" r="0.96" fill="#3a42bc"/><circle cx="30.42" cy="10.42" r="0.96" fill="#3a42bc"/><circle cx="6.02" cy="4.11" r="0.94" fill="#d23a3a"/><circle cx="8.42" cy="7.57" r="1.12" fill="#3a42bc"/><circle cx="23.28" cy="2.92" r="0.94" fill="#e87474"/><circle cx="25.93" cy="18.33" r="0.92" fill="#d23a3a"/><circle cx="17.63" cy="6.41" r="1.07" fill="#d23a3a"/><circle cx="1.13" cy="5.65" r="0.98" fill="#b0b0b0"/><circle cx="30.13" cy="5.65" r="0.98" fill="#b0b0b0"/><circle cx="13.01" cy="20.09" r="1.1" fill="#d23a3a"/><circle cx="18" cy="11.93" r="0.83" fill="#e87474"/><circle cx="14.52" cy="9.11" r="1.05" fill="#3a42bc"/><circle cx="4.24" cy="8.7" r="0.8" fill="#d23a3a"/><circle cx="9.22" cy="25.13" r="0.95" fill="#3a42bc"/><circle cx="10.06" cy="0.52" r="0.8" fill="#3a42bc"/><circle cx="10.06" cy="29.52" r="0.8" fill="#3a42bc"/><circle cx="17.04" cy="25.98" r="0.91" fill="#b0b0b0"/><circle cx="1.58" cy="27" r="0.88" fill="#d23a3a"/><circle cx="30.58" cy="27" r="0.88" fill="#d23a3a"/><circle cx="19.12" cy="16.97" r="1.01" fill="#d23a3a"/><circle cx="24.74" cy="11.61" r="0.95" fill="#b0b0b0"/><circle cx="1.31" cy="6.67" r="1.05" fill="#d23a3a"/><circle cx="30.31" cy="6.67" r="1.05" fill="#d23a3a"/><circle cx="9.61" cy="-0.1" r="0.88" fill="#d23a3a"/><circle cx="9.61" cy="28.9" r="0.88" fill="#d23a3a"/><circle cx="2.25" cy="9.2" r="0.81" fill="#3a42bc"/><circle cx="23.51" cy="25.63" r="0.91" fill="#3a42bc"/><circle cx="22.67" cy="25.1" r="1.04" fill="#d23a3a"/><circle cx="7.36" cy="23.23" r="0.84" fill="#b0b0b0"/><circle cx="2.14" cy="8.75" r="0.96" fill="#3a42bc"/><circle cx="8.08" cy="17.76" r="0.91" fill="#d23a3a"/><circle cx="9.33" cy="11.95" r="0.89" fill="#d23a3a"/><circle cx="6.33" cy="23.83" r="0.82" fill="#e87474"/><circle cx="14.62" cy="6.73" r="0.85" fill="#b0b0b0"/><circle cx="24.94" cy="17.37" r="0.95" fill="#b0b0b0"/><circle cx="4.16" cy="25.78" r="0.86" fill="#d23a3a"/><circle cx="8.36" cy="19.98" r="1.08" fill="#3a42bc"/><circle cx="10.72" cy="18.16" r="0.93" fill="#3a42bc"/><circle cx="22.02" cy="14.14" r="0.9" fill="#d23a3a"/><circle cx="16.28" cy="1.98" r="0.88" fill="#d23a3a"/><circle cx="16.28" cy="30.98" r="0.88" fill="#d23a3a"/><circle cx="3.23" cy="8.14" r="1.12" fill="#e8e8e8"/><circle cx="20.95" cy="4.51" r="1.04" fill="#3a42bc"/><circle cx="13.13" cy="21.2" r="0.89" fill="#d23a3a"/><circle cx="-1.6" cy="17.29" r="0.85" fill="#3a42bc"/><circle cx="27.4" cy="17.29" r="0.85" fill="#3a42bc"/><circle cx="2.69" cy="12.45" r="1.05" fill="#d23a3a"/><circle cx="14" cy="4.36" r="0.99" fill="#d23a3a"/><circle cx="10.1" cy="17.47" r="0.96" fill="#3a42bc"/><circle cx="18.45" cy="11.49" r="0.87" fill="#b0b0b0"/><circle cx="23.78" cy="24.89" r="0.96" fill="#3a42bc"/><circle cx="1.17" cy="23.61" r="0.81" fill="#d23a3a"/><circle cx="30.17" cy="23.61" r="0.81" fill="#d23a3a"/><circle cx="-1.02" cy="-1.82" r="0.94" fill="#d23a3a"/><circle cx="-1.02" cy="27.18" r="0.94" fill="#d23a3a"/><circle cx="27.98" cy="-1.82" r="0.94" fill="#d23a3a"/><circle cx="27.98" cy="27.18" r="0.94" fill="#d23a3a"/><circle cx="12.76" cy="15.37" r="0.86" fill="#e8e8e8"/><circle cx="15.69" cy="4.77" r="0.84" fill="#e87474"/><circle cx="9.65" cy="13.25" r="1.04" fill="#e87474"/><circle cx="17.05" cy="14.95" r="1.04" fill="#3a42bc"/><circle cx="24.6" cy="-0.4" r="0.89" fill="#3a42bc"/><circle cx="24.6" cy="28.6" r="0.89" fill="#3a42bc"/></pattern><pattern id="m3" patternUnits="userSpaceOnUse" width="31" height="31"><polyline points="21.14,2.84 19.31,3.56 19.51,5.61 17.14,6.62 15.05,5.14" fill="none" stroke="#625e5a" stroke-width="1.0"/><polyline points="2.82,2.33 0.67,2.58 0.12,4.73 -1.3,5.48" fill="none" stroke="#686460" stroke-width="1.0"/><polyline points="33.82,2.33 31.67,2.58 31.12,4.73 29.7,5.48" fill="none" stroke="#686460" stroke-width="1.0"/><polyline points="28.22,2.13 28.06,0.38 25.68,-0.4" fill="none" stroke="#6e6a66" stroke-width="1.0"/><polyline points="28.22,33.13 28.06,31.38 25.68,30.6" fill="none" stroke="#6e6a66" stroke-width="1.0"/><polyline points="22.81,9.66 21.26,10.72 21.39,12.53 22.9,13.32 24.55,12.51" fill="none" stroke="#8a8682" stroke-width="1.0"/><polyline points="20.14,10.58 21.52,8.82 20.55,7.21" fill="none" stroke="#625e5a" stroke-width="1.0"/><polyline points="17.87,16.85 19.42,18.16 21.03,17.71" fill="none" stroke="#625e5a" stroke-width="1.0"/><polyline points="6.95,5.32 6.23,7.09 7.92,8.66" fill="none" stroke="#686460" stroke-width="1.0"/><polyline points="21.74,10.76 20.42,12.45 21.59,14.59 23.72,14.15 24.81,11.83" fill="none" stroke="#6e6a66" stroke-width="1.0"/><polyline points="10.32,23.43 11.36,21.21 13.84,21.59" fill="none" stroke="#686460" stroke-width="1.0"/><polyline points="19.21,-0.95 17.29,-1 16.26,-2.28 17.5,-4.1 16.4,-6.38" fill="none" stroke="#6e6a66" stroke-width="1.0"/><polyline points="19.21,30.05 17.29,30 16.26,28.72 17.5,26.9 16.4,24.62" fill="none" stroke="#6e6a66" stroke-width="1.0"/><polyline points="21.99,20.97 22.57,19.14 21.25,17.11" fill="none" stroke="#625e5a" stroke-width="1.0"/><polyline points="8.51,6.79 9.46,9.15 11.66,9.64" fill="none" stroke="#686460" stroke-width="1.0"/><polyline points="2.32,16.94 4.18,18.24 6.11,17.43" fill="none" stroke="#7c7874" stroke-width="1.0"/><polyline points="29.34,25.83 28.1,27.07 26.19,26.59 24.75,27.6" fill="none" stroke="#76726e" stroke-width="1.0"/><polyline points="0.25,21.59 1.92,23.46 1.18,24.96 1.97,27.05 0.65,28.34" fill="none" stroke="#6e6a66" stroke-width="1.0"/><polyline points="31.25,21.59 32.92,23.46 32.18,24.96 32.97,27.05 31.65,28.34" fill="none" stroke="#6e6a66" stroke-width="1.0"/><polyline points="7.11,25.13 4.64,24.76 4,22.64 1.72,22.19 -0.05,23.91" fill="none" stroke="#7c7874" stroke-width="1.0"/><polyline points="38.11,25.13 35.64,24.76 35,22.64 32.72,22.19 30.95,23.91" fill="none" stroke="#7c7874" stroke-width="1.0"/><polyline points="20.26,17.12 18.93,18.66 17.2,18.44" fill="none" stroke="#6e6a66" stroke-width="1.0"/><polyline points="21.33,-4.71 19.35,-4.78 18.59,-2.44 20.57,-0.93" fill="none" stroke="#76726e" stroke-width="1.0"/><polyline points="21.33,26.29 19.35,26.22 18.59,28.56 20.57,30.07" fill="none" stroke="#76726e" stroke-width="1.0"/><polyline points="1.59,18.01 -0.65,19.05 -2.57,17.89" fill="none" stroke="#76726e" stroke-width="1.0"/><polyline points="32.59,18.01 30.35,19.05 28.43,17.89" fill="none" stroke="#76726e" stroke-width="1.0"/><polyline points="23.64,22.38 21.69,23.06 20.19,21.82 20.73,20.1" fill="none" stroke="#686460" stroke-width="1.0"/><polyline points="25.96,13.05 28.44,13.5 29.24,15.93 27.41,17.43" fill="none" stroke="#76726e" stroke-width="1.0"/><polyline points="16.42,5.22 14.88,5.71 14.12,7.73" fill="none" stroke="#7c7874" stroke-width="1.0"/><polyline points="4.76,14.2 5.3,12.16 7.6,11.28" fill="none" stroke="#76726e" stroke-width="1.0"/><polyline points="18.64,3.99 18.87,5.77 20.29,6.6 22.41,5.64 22.32,3.82" fill="none" stroke="#7c7874" stroke-width="1.0"/><polyline points="6.81,10.42 5.7,12.6 6.6,14.01 9.01,14.42" fill="none" stroke="#7c7874" stroke-width="1.0"/><polyline points="15.54,1.41 15.67,-0.71 17.78,-1.72 19.34,-0.69" fill="none" stroke="#625e5a" stroke-width="1.0"/><polyline points="15.54,32.41 15.67,30.29 17.78,29.28 19.34,30.31" fill="none" stroke="#625e5a" stroke-width="1.0"/><polyline points="13.99,22.51 12.55,23.57 13.28,26.06 12,27.06" fill="none" stroke="#7c7874" stroke-width="1.0"/><polyline points="24.18,-2.2 24.44,-0.02 22.81,1.85 20.7,1.74 19.67,0.01" fill="none" stroke="#625e5a" stroke-width="1.0"/><polyline points="24.18,28.8 24.44,30.98 22.81,32.85 20.7,32.74 19.67,31.01" fill="none" stroke="#625e5a" stroke-width="1.0"/><polyline points="4.52,13.01 2.7,13.69 1.11,11.9" fill="none" stroke="#686460" stroke-width="1.0"/><polyline points="14.08,-1.21 13.75,0.82 15.34,1.6" fill="none" stroke="#686460" stroke-width="1.0"/><polyline points="14.08,29.79 13.75,31.82 15.34,32.6" fill="none" stroke="#686460" stroke-width="1.0"/><polyline points="4.09,11.98 5.97,10.87 5.95,8.95 4.22,7.56 4.24,5.59" fill="none" stroke="#7c7874" stroke-width="1.0"/><polyline points="21.68,11.35 19.82,10.49 19.78,8.43 17.35,7.63" fill="none" stroke="#6e6a66" stroke-width="1.0"/><polyline points="9.05,22.76 10.92,21.31 11.05,19.2 12.67,18.04" fill="none" stroke="#6e6a66" stroke-width="1.0"/><polyline points="25.44,27.02 27.45,26.43 27.84,24.28 29.52,24.11" fill="none" stroke="#686460" stroke-width="1.0"/><polyline points="24.48,29.65 25.53,27.72 23.89,25.85 24.42,24.3" fill="none" stroke="#686460" stroke-width="1.0"/><polyline points="-1.67,6.19 -0.5,7.9 -1.84,9.55 -3.77,9.4 -4.69,7.09" fill="none" stroke="#625e5a" stroke-width="1.0"/><polyline points="29.33,6.19 30.5,7.9 29.16,9.55 27.23,9.4 26.31,7.09" fill="none" stroke="#625e5a" stroke-width="1.0"/><polyline points="0.62,-0.69 1.12,1.06 -0.17,2.66 0.45,5.17" fill="none" stroke="#625e5a" stroke-width="1.0"/><polyline points="0.62,30.31 1.12,32.06 -0.17,33.66 0.45,36.17" fill="none" stroke="#625e5a" stroke-width="1.0"/><polyline points="31.62,-0.69 32.12,1.06 30.83,2.66 31.45,5.17" fill="none" stroke="#625e5a" stroke-width="1.0"/><polyline points="31.62,30.31 32.12,32.06 30.83,33.66 31.45,36.17" fill="none" stroke="#625e5a" stroke-width="1.0"/><polyline points="10.98,16.08 10.26,17.82 8.24,17.75 7.27,19.22" fill="none" stroke="#7c7874" stroke-width="1.0"/><polyline points="3.67,6.8 3.33,8.36 1.65,8.55" fill="none" stroke="#6e6a66" stroke-width="1.0"/><polyline points="6.42,24.1 4.46,23.39 2.8,25.17 3.51,26.85 5.78,26.71" fill="none" stroke="#8a8682" stroke-width="1.0"/><polyline points="12.88,-1.43 14.76,-0.89 15.85,-2.2 17.94,-2.12" fill="none" stroke="#8a8682" stroke-width="1.0"/><polyline points="12.88,29.57 14.76,30.11 15.85,28.8 17.94,28.88" fill="none" stroke="#8a8682" stroke-width="1.0"/><polyline points="20.17,-4.79 18.29,-4.17 17.29,-1.81 15.66,-1.62 15.24,0.11" fill="none" stroke="#686460" stroke-width="1.0"/><polyline points="20.17,26.21 18.29,26.83 17.29,29.19 15.66,29.38 15.24,31.11" fill="none" stroke="#686460" stroke-width="1.0"/><polyline points="2.92,9.06 5.22,9.01 5.86,6.54 4.88,5.02" fill="none" stroke="#8a8682" stroke-width="1.0"/><polyline points="18.27,17.67 16.79,18.7 15.09,17.93 14.47,16.1 15.39,14.54" fill="none" stroke="#8a8682" stroke-width="1.0"/><polyline points="21.79,5.8 19.57,4.73 17.49,5.89 15.8,4.97" fill="none" stroke="#6e6a66" stroke-width="1.0"/><circle cx="24.61" cy="20.44" r="0.91" fill="#d23a3a"/><circle cx="7.66" cy="12.38" r="0.8" fill="#3a42bc"/><circle cx="0.01" cy="21.45" r="0.91" fill="#d23a3a"/><circle cx="31.01" cy="21.45" r="0.91" fill="#d23a3a"/><circle cx="24.95" cy="3.25" r="0.9" fill="#3a42bc"/><circle cx="20.51" cy="9.03" r="0.93" fill="#3a42bc"/><circle cx="1.63" cy="5.07" r="0.84" fill="#d23a3a"/><circle cx="32.63" cy="5.07" r="0.84" fill="#d23a3a"/><circle cx="12.5" cy="19.41" r="0.96" fill="#d23a3a"/><circle cx="14.82" cy="-1.68" r="1.1" fill="#3a42bc"/><circle cx="14.82" cy="29.32" r="1.1" fill="#3a42bc"/><circle cx="12.51" cy="1.96" r="1" fill="#d23a3a"/><circle cx="12.51" cy="32.96" r="1" fill="#d23a3a"/><circle cx="9.33" cy="1.21" r="0.94" fill="#3a42bc"/><circle cx="9.33" cy="32.21" r="0.94" fill="#3a42bc"/><circle cx="26.33" cy="15.81" r="0.97" fill="#d23a3a"/><circle cx="5.22" cy="13.53" r="1.04" fill="#d23a3a"/><circle cx="2.81" cy="7.69" r="0.86" fill="#d23a3a"/><circle cx="9.58" cy="26.55" r="0.9" fill="#e8e8e8"/><circle cx="7.95" cy="11.61" r="0.94" fill="#3a42bc"/><circle cx="3.24" cy="25.09" r="1.07" fill="#d23a3a"/><circle cx="3.42" cy="22.5" r="0.89" fill="#d23a3a"/><circle cx="25.78" cy="18.95" r="0.9" fill="#3a42bc"/><circle cx="10.4" cy="28.82" r="1.03" fill="#d23a3a"/><circle cx="16.91" cy="14.19" r="0.95" fill="#d23a3a"/><circle cx="14.62" cy="25.54" r="1.07" fill="#d23a3a"/><circle cx="9.72" cy="6.44" r="1.12" fill="#b0b0b0"/><circle cx="-0.89" cy="21.67" r="0.96" fill="#d23a3a"/><circle cx="30.11" cy="21.67" r="0.96" fill="#d23a3a"/><circle cx="14.86" cy="26.04" r="1.09" fill="#d23a3a"/><circle cx="10.78" cy="14.17" r="0.9" fill="#d23a3a"/><circle cx="26.43" cy="0.42" r="0.83" fill="#d23a3a"/><circle cx="26.43" cy="31.42" r="0.83" fill="#d23a3a"/><circle cx="15.2" cy="18.34" r="0.85" fill="#d23a3a"/><circle cx="-1.55" cy="11.57" r="0.86" fill="#d23a3a"/><circle cx="29.45" cy="11.57" r="0.86" fill="#d23a3a"/><circle cx="26.81" cy="6.17" r="0.88" fill="#d23a3a"/><circle cx="4.18" cy="26.48" r="0.86" fill="#d23a3a"/><circle cx="21.02" cy="4.6" r="0.99" fill="#d23a3a"/><circle cx="3.63" cy="6.17" r="0.97" fill="#e87474"/><circle cx="1.16" cy="2" r="1.1" fill="#3a42bc"/><circle cx="32.16" cy="2" r="1.1" fill="#3a42bc"/><circle cx="-1.36" cy="25.6" r="0.85" fill="#d23a3a"/><circle cx="29.64" cy="25.6" r="0.85" fill="#d23a3a"/><circle cx="11.95" cy="23.97" r="0.81" fill="#e87474"/><circle cx="-0.62" cy="1.33" r="0.93" fill="#b0b0b0"/><circle cx="-0.62" cy="32.33" r="0.93" fill="#b0b0b0"/><circle cx="30.38" cy="1.33" r="0.93" fill="#b0b0b0"/><circle cx="30.38" cy="32.33" r="0.93" fill="#b0b0b0"/><circle cx="20.48" cy="24.97" r="0.85" fill="#e87474"/><circle cx="18.29" cy="24.29" r="1.05" fill="#d23a3a"/><circle cx="28.28" cy="18.16" r="0.92" fill="#d23a3a"/><circle cx="3.4" cy="7.07" r="0.96" fill="#d23a3a"/></pattern><pattern id="pw" patternUnits="userSpaceOnUse" width="30" height="30"><line x1="18.69" y1="22.25" x2="16.83" y2="23.65" stroke="#e2dfe6" stroke-width="1.0"/><line x1="19.56" y1="15.9" x2="17.73" y2="16.9" stroke="#f2c6ce" stroke-width="1.0"/><line x1="19.47" y1="27.03" x2="21.02" y2="27.6" stroke="#f2c6ce" stroke-width="1.0"/><line x1="11.42" y1="3.06" x2="12.86" y2="4.49" stroke="#f0b4be" stroke-width="1.0"/><line x1="8.38" y1="27.49" x2="7.48" y2="28.31" stroke="#d8d8dc" stroke-width="1.0"/><line x1="2.16" y1="18.54" x2="2.36" y2="19.71" stroke="#d8d8dc" stroke-width="1.0"/><line x1="0.16" y1="23.21" x2="-1.06" y2="23.36" stroke="#f2c6ce" stroke-width="1.0"/><line x1="8.68" y1="28.84" x2="8.44" y2="30.78" stroke="#f2c6ce" stroke-width="1.0"/><line x1="5.45" y1="29.06" x2="7.37" y2="30.42" stroke="#f0b4be" stroke-width="1.0"/><line x1="8.96" y1="10.84" x2="10.01" y2="11.44" stroke="#f5bcc4" stroke-width="1.0"/><line x1="9.96" y1="24.52" x2="9.47" y2="26.29" stroke="#e2dfe6" stroke-width="1.0"/><line x1="10.14" y1="9.3" x2="8.73" y2="10.2" stroke="#f7d4da" stroke-width="1.0"/><line x1="5.54" y1="14.18" x2="6.7" y2="14.89" stroke="#f5bcc4" stroke-width="1.0"/><line x1="28.48" y1="10.73" x2="29" y2="12.42" stroke="#f0b4be" stroke-width="1.0"/><line x1="10.99" y1="17.36" x2="12.05" y2="17.39" stroke="#f2c6ce" stroke-width="1.0"/><line x1="18.71" y1="28.63" x2="19.96" y2="29.12" stroke="#d8d8dc" stroke-width="1.0"/><line x1="28.26" y1="10.33" x2="29.03" y2="11.89" stroke="#d8d8dc" stroke-width="1.0"/><line x1="13.89" y1="17.69" x2="12.72" y2="18.65" stroke="#f7d4da" stroke-width="1.0"/><line x1="1.1" y1="28.37" x2="2.52" y2="28.79" stroke="#c8eed6" stroke-width="1.0"/><line x1="10.88" y1="4.45" x2="12.16" y2="5.96" stroke="#f5bcc4" stroke-width="1.0"/><line x1="9.37" y1="9.5" x2="10.31" y2="10.09" stroke="#f2c6ce" stroke-width="1.0"/><line x1="21.63" y1="9.28" x2="21.74" y2="11.28" stroke="#f5bcc4" stroke-width="1.0"/><line x1="29.6" y1="16.01" x2="29.99" y2="17.28" stroke="#c8eed6" stroke-width="1.0"/><line x1="10.31" y1="7.51" x2="9.77" y2="8.58" stroke="#e2dfe6" stroke-width="1.0"/><line x1="0.98" y1="14.81" x2="-0.05" y2="15.38" stroke="#e2dfe6" stroke-width="1.0"/><line x1="16.92" y1="3.98" x2="15.42" y2="4.49" stroke="#f2c6ce" stroke-width="1.0"/><line x1="13.04" y1="4.48" x2="11.79" y2="5.14" stroke="#f0b4be" stroke-width="1.0"/><line x1="27.66" y1="18.61" x2="29.15" y2="19.49" stroke="#f0b4be" stroke-width="1.0"/><line x1="20.67" y1="9.53" x2="21.75" y2="10.79" stroke="#f2c6ce" stroke-width="1.0"/><line x1="3.38" y1="24.66" x2="3.25" y2="25.91" stroke="#f0b4be" stroke-width="1.0"/><line x1="26.03" y1="5.4" x2="26.08" y2="7.12" stroke="#c8eed6" stroke-width="1.0"/><line x1="26.02" y1="10.84" x2="24.39" y2="12.14" stroke="#e2dfe6" stroke-width="1.0"/><line x1="17.62" y1="1.03" x2="18.65" y2="2.49" stroke="#e2dfe6" stroke-width="1.0"/><line x1="8.43" y1="14.57" x2="6.95" y2="15.87" stroke="#f7d4da" stroke-width="1.0"/><line x1="28.71" y1="10.2" x2="30.56" y2="11.37" stroke="#f0b4be" stroke-width="1.0"/><line x1="16.41" y1="7.52" x2="15.56" y2="8.94" stroke="#d8d8dc" stroke-width="1.0"/><line x1="15.01" y1="20.21" x2="15.61" y2="21.45" stroke="#f7d4da" stroke-width="1.0"/><line x1="22.13" y1="24.85" x2="23.12" y2="26.79" stroke="#d8d8dc" stroke-width="1.0"/><line x1="26.01" y1="13.49" x2="26.62" y2="14.83" stroke="#f2c6ce" stroke-width="1.0"/><line x1="15.88" y1="4.99" x2="13.87" y2="6.12" stroke="#f0b4be" stroke-width="1.0"/><line x1="8.49" y1="2.37" x2="7.68" y2="3.73" stroke="#c8eed6" stroke-width="1.0"/><line x1="23.41" y1="17.43" x2="22.62" y2="18.8" stroke="#c8eed6" stroke-width="1.0"/><line x1="16.6" y1="26.01" x2="18.18" y2="27.81" stroke="#f2c6ce" stroke-width="1.0"/><line x1="4.8" y1="13.23" x2="4.21" y2="14.4" stroke="#e2dfe6" stroke-width="1.0"/><line x1="5.42" y1="21.55" x2="3.05" y2="21.65" stroke="#f2c6ce" stroke-width="1.0"/><line x1="1.62" y1="4.01" x2="2.31" y2="5.06" stroke="#f2c6ce" stroke-width="1.0"/><line x1="16.45" y1="12.46" x2="17.32" y2="14.19" stroke="#f5bcc4" stroke-width="1.0"/><line x1="17.7" y1="7.14" x2="16.75" y2="7.44" stroke="#f0b4be" stroke-width="1.0"/><line x1="28.56" y1="25.68" x2="26.77" y2="26.48" stroke="#c8eed6" stroke-width="1.0"/><line x1="11.22" y1="1.08" x2="10.82" y2="2.14" stroke="#c8eed6" stroke-width="1.0"/><line x1="15.38" y1="28.53" x2="16.28" y2="29.72" stroke="#f2c6ce" stroke-width="1.0"/><line x1="12.57" y1="24.39" x2="11.92" y2="25.76" stroke="#f2c6ce" stroke-width="1.0"/><line x1="4.7" y1="11.48" x2="4.8" y2="12.76" stroke="#f2c6ce" stroke-width="1.0"/><line x1="18.26" y1="10.53" x2="17.31" y2="10.86" stroke="#f5bcc4" stroke-width="1.0"/><line x1="9.78" y1="27.49" x2="9.6" y2="28.94" stroke="#c8eed6" stroke-width="1.0"/><line x1="11.28" y1="12.95" x2="12.34" y2="13.87" stroke="#e2dfe6" stroke-width="1.0"/><line x1="11.39" y1="28.83" x2="9.63" y2="29.33" stroke="#f7d4da" stroke-width="1.0"/><line x1="22.23" y1="9.02" x2="22.95" y2="9.75" stroke="#f7d4da" stroke-width="1.0"/><line x1="14.75" y1="8.59" x2="14.84" y2="9.76" stroke="#c8eed6" stroke-width="1.0"/><line x1="28.82" y1="7.37" x2="30.01" y2="7.51" stroke="#f0b4be" stroke-width="1.0"/><line x1="0.4" y1="15.98" x2="1.9" y2="17.73" stroke="#d8d8dc" stroke-width="1.0"/><line x1="1.1" y1="14.7" x2="-0.67" y2="15.65" stroke="#f7d4da" stroke-width="1.0"/><line x1="8.8" y1="18.24" x2="8.95" y2="20.14" stroke="#c8eed6" stroke-width="1.0"/><line x1="26.42" y1="26.85" x2="27.59" y2="26.91" stroke="#f7d4da" stroke-width="1.0"/><line x1="16" y1="10.08" x2="17.04" y2="11.48" stroke="#f0b4be" stroke-width="1.0"/><line x1="10.49" y1="20.45" x2="9.51" y2="21.11" stroke="#f5bcc4" stroke-width="1.0"/><line x1="7.57" y1="13.67" x2="5.41" y2="14.25" stroke="#c8eed6" stroke-width="1.0"/><line x1="5.74" y1="12.89" x2="4.23" y2="13.93" stroke="#e2dfe6" stroke-width="1.0"/><line x1="21.25" y1="18.97" x2="21.37" y2="21.24" stroke="#f0b4be" stroke-width="1.0"/><line x1="14.27" y1="20.47" x2="12.83" y2="22.21" stroke="#f0b4be" stroke-width="1.0"/><line x1="24.9" y1="1.98" x2="23.18" y2="2.95" stroke="#f0b4be" stroke-width="1.0"/><line x1="17.46" y1="19.45" x2="17.59" y2="20.88" stroke="#f2c6ce" stroke-width="1.0"/><line x1="14.35" y1="16.47" x2="14.36" y2="17.94" stroke="#f2c6ce" stroke-width="1.0"/><line x1="12.77" y1="16.24" x2="14.77" y2="16.55" stroke="#f7d4da" stroke-width="1.0"/><line x1="24.59" y1="23.75" x2="24.08" y2="24.65" stroke="#e2dfe6" stroke-width="1.0"/><line x1="12.88" y1="2.06" x2="13.37" y2="3.67" stroke="#f5bcc4" stroke-width="1.0"/><line x1="25.26" y1="6.58" x2="24.23" y2="8.67" stroke="#e2dfe6" stroke-width="1.0"/><line x1="26.85" y1="29.82" x2="25.87" y2="31.11" stroke="#f2c6ce" stroke-width="1.0"/><line x1="18.32" y1="12.42" x2="19.95" y2="13.33" stroke="#f5bcc4" stroke-width="1.0"/><line x1="16.67" y1="19.81" x2="15.7" y2="20.8" stroke="#c8eed6" stroke-width="1.0"/><line x1="17.26" y1="22.27" x2="16.16" y2="22.71" stroke="#f0b4be" stroke-width="1.0"/><line x1="2.74" y1="20.56" x2="2.79" y2="22.06" stroke="#e2dfe6" stroke-width="1.0"/><line x1="11.23" y1="1.67" x2="10.52" y2="2.66" stroke="#e2dfe6" stroke-width="1.0"/><line x1="20.34" y1="8.71" x2="18.6" y2="9.03" stroke="#f2c6ce" stroke-width="1.0"/><line x1="7.9" y1="16.55" x2="9.33" y2="18.02" stroke="#c8eed6" stroke-width="1.0"/><line x1="29.25" y1="24.24" x2="27.77" y2="24.92" stroke="#f0b4be" stroke-width="1.0"/><line x1="5.38" y1="21.4" x2="4.86" y2="22.39" stroke="#e2dfe6" stroke-width="1.0"/><line x1="1.08" y1="25.9" x2="1.05" y2="27.54" stroke="#f0b4be" stroke-width="1.0"/><line x1="26.31" y1="14.41" x2="27.42" y2="16.21" stroke="#f5bcc4" stroke-width="1.0"/><line x1="16.26" y1="11.54" x2="14.2" y2="12.6" stroke="#f0b4be" stroke-width="1.0"/><line x1="20.43" y1="6.69" x2="22.64" y2="7.53" stroke="#e2dfe6" stroke-width="1.0"/><line x1="14.74" y1="6.35" x2="13.84" y2="7.58" stroke="#d8d8dc" stroke-width="1.0"/><line x1="7.05" y1="10" x2="6.53" y2="11.39" stroke="#f0b4be" stroke-width="1.0"/><line x1="11.34" y1="21.68" x2="11.95" y2="22.96" stroke="#e2dfe6" stroke-width="1.0"/><line x1="13" y1="25.55" x2="12.9" y2="27.37" stroke="#c8eed6" stroke-width="1.0"/><line x1="6.45" y1="5.42" x2="7.48" y2="5.62" stroke="#f2c6ce" stroke-width="1.0"/><line x1="6.07" y1="1.18" x2="4.5" y2="1.75" stroke="#d8d8dc" stroke-width="1.0"/><line x1="10.46" y1="12.81" x2="11.81" y2="14.68" stroke="#f0b4be" stroke-width="1.0"/><line x1="9.7" y1="13.86" x2="11.28" y2="14.94" stroke="#f5bcc4" stroke-width="1.0"/><line x1="11.24" y1="11.57" x2="10.11" y2="12.02" stroke="#f7d4da" stroke-width="1.0"/><line x1="3.31" y1="24.55" x2="1.93" y2="25.92" stroke="#f5bcc4" stroke-width="1.0"/><line x1="14.46" y1="0.96" x2="12.99" y2="1.32" stroke="#f5bcc4" stroke-width="1.0"/><line x1="20.63" y1="20.21" x2="20.84" y2="22.53" stroke="#f5bcc4" stroke-width="1.0"/><line x1="23.56" y1="9.73" x2="23.75" y2="11.05" stroke="#f2c6ce" stroke-width="1.0"/><line x1="1.01" y1="21.44" x2="0.56" y2="23.31" stroke="#c8eed6" stroke-width="1.0"/><line x1="12.03" y1="29.21" x2="12.63" y2="30.52" stroke="#f0b4be" stroke-width="1.0"/><line x1="10.84" y1="2.01" x2="9.19" y2="2.04" stroke="#d8d8dc" stroke-width="1.0"/><line x1="7.22" y1="20.17" x2="5.34" y2="20.52" stroke="#f0b4be" stroke-width="1.0"/><line x1="21.79" y1="8.12" x2="21.99" y2="9.74" stroke="#e2dfe6" stroke-width="1.0"/><line x1="12.31" y1="1.35" x2="11.94" y2="3.71" stroke="#c8eed6" stroke-width="1.0"/><line x1="16.96" y1="28.19" x2="16.12" y2="29.22" stroke="#d8d8dc" stroke-width="1.0"/><line x1="14.73" y1="28.07" x2="16.06" y2="28.3" stroke="#f5bcc4" stroke-width="1.0"/><line x1="14.92" y1="23.45" x2="17.06" y2="23.77" stroke="#f0b4be" stroke-width="1.0"/><line x1="9.18" y1="1.54" x2="11.52" y2="1.82" stroke="#f2c6ce" stroke-width="1.0"/><line x1="20.87" y1="19.22" x2="21.97" y2="19.96" stroke="#f7d4da" stroke-width="1.0"/><line x1="23.72" y1="2.6" x2="22.5" y2="2.66" stroke="#f5bcc4" stroke-width="1.0"/><line x1="25.7" y1="6.43" x2="27.46" y2="6.53" stroke="#f0b4be" stroke-width="1.0"/><line x1="12.7" y1="23.04" x2="12.61" y2="24.23" stroke="#f5bcc4" stroke-width="1.0"/><line x1="27.39" y1="9.23" x2="27.73" y2="11.36" stroke="#f2c6ce" stroke-width="1.0"/><line x1="16.63" y1="4.16" x2="16.74" y2="6.25" stroke="#f7d4da" stroke-width="1.0"/><line x1="24.58" y1="9.39" x2="25.61" y2="9.83" stroke="#f2c6ce" stroke-width="1.0"/><line x1="20.92" y1="23.96" x2="18.99" y2="24.16" stroke="#f7d4da" stroke-width="1.0"/><line x1="1.84" y1="21.02" x2="3.11" y2="21.21" stroke="#f7d4da" stroke-width="1.0"/><line x1="26.48" y1="26.57" x2="28.5" y2="27.03" stroke="#f0b4be" stroke-width="1.0"/><line x1="22.57" y1="16.68" x2="20.75" y2="17.3" stroke="#d8d8dc" stroke-width="1.0"/><line x1="3.95" y1="0.85" x2="5.71" y2="1.7" stroke="#d8d8dc" stroke-width="1.0"/><line x1="28.64" y1="21.84" x2="27.83" y2="22.95" stroke="#d8d8dc" stroke-width="1.0"/><line x1="24.16" y1="16.86" x2="24.92" y2="18.07" stroke="#f2c6ce" stroke-width="1.0"/><line x1="7.88" y1="20.28" x2="8.56" y2="21.13" stroke="#d8d8dc" stroke-width="1.0"/><line x1="22.17" y1="0.84" x2="24.36" y2="1.72" stroke="#d8d8dc" stroke-width="1.0"/><line x1="10.71" y1="25.79" x2="8.88" y2="26.09" stroke="#f2c6ce" stroke-width="1.0"/><line x1="15.82" y1="3.76" x2="17.03" y2="4.65" stroke="#f2c6ce" stroke-width="1.0"/><line x1="17.53" y1="24.81" x2="16.79" y2="25.67" stroke="#c8eed6" stroke-width="1.0"/><line x1="18.18" y1="18.92" x2="20.04" y2="19.82" stroke="#f0b4be" stroke-width="1.0"/><line x1="23.84" y1="3.55" x2="25.08" y2="5.46" stroke="#f0b4be" stroke-width="1.0"/><line x1="17.89" y1="5.15" x2="19.8" y2="5.44" stroke="#f2c6ce" stroke-width="1.0"/><line x1="15.98" y1="29.09" x2="15.64" y2="30.18" stroke="#d8d8dc" stroke-width="1.0"/><line x1="25.52" y1="20.56" x2="26.31" y2="21.17" stroke="#c8eed6" stroke-width="1.0"/><line x1="7.07" y1="21.15" x2="7.8" y2="22.63" stroke="#f2c6ce" stroke-width="1.0"/><line x1="8.31" y1="6.03" x2="8.02" y2="7.51" stroke="#d8d8dc" stroke-width="1.0"/><line x1="23.56" y1="11" x2="21.79" y2="12.21" stroke="#e2dfe6" stroke-width="1.0"/><line x1="25.21" y1="25.5" x2="24.64" y2="26.95" stroke="#f2c6ce" stroke-width="1.0"/><line x1="4.28" y1="7.15" x2="4.7" y2="8.2" stroke="#f0b4be" stroke-width="1.0"/><line x1="2.96" y1="21.53" x2="1.74" y2="21.93" stroke="#d8d8dc" stroke-width="1.0"/><line x1="22.65" y1="14.31" x2="22.82" y2="16.05" stroke="#f5bcc4" stroke-width="1.0"/><line x1="24.01" y1="11.29" x2="25.73" y2="11.35" stroke="#c8eed6" stroke-width="1.0"/><line x1="18.63" y1="24.4" x2="20.57" y2="24.53" stroke="#c8eed6" stroke-width="1.0"/><line x1="9.36" y1="11.49" x2="9.51" y2="13.46" stroke="#f0b4be" stroke-width="1.0"/><line x1="13.49" y1="23.63" x2="12.92" y2="25.87" stroke="#c8eed6" stroke-width="1.0"/><line x1="20.11" y1="16.1" x2="18.89" y2="16.99" stroke="#c8eed6" stroke-width="1.0"/><line x1="0.6" y1="23.1" x2="1.72" y2="23.95" stroke="#f5bcc4" stroke-width="1.0"/><line x1="2.62" y1="10.68" x2="2.1" y2="12.67" stroke="#e2dfe6" stroke-width="1.0"/><line x1="12.39" y1="29.06" x2="14.69" y2="29.16" stroke="#f2c6ce" stroke-width="1.0"/><line x1="2.16" y1="22.6" x2="0.97" y2="24.62" stroke="#f7d4da" stroke-width="1.0"/><line x1="20.63" y1="25.15" x2="19.37" y2="26.51" stroke="#f2c6ce" stroke-width="1.0"/><line x1="14.49" y1="2.76" x2="15.87" y2="3.31" stroke="#d8d8dc" stroke-width="1.0"/><line x1="16.32" y1="11.8" x2="17.86" y2="11.82" stroke="#f2c6ce" stroke-width="1.0"/><line x1="22.52" y1="15.85" x2="24.07" y2="17.03" stroke="#f7d4da" stroke-width="1.0"/><line x1="11.6" y1="3.27" x2="10.61" y2="4.74" stroke="#e2dfe6" stroke-width="1.0"/><line x1="29.51" y1="7.47" x2="30.86" y2="7.91" stroke="#d8d8dc" stroke-width="1.0"/><line x1="8.03" y1="18.67" x2="6.86" y2="19.06" stroke="#e2dfe6" stroke-width="1.0"/><line x1="12.39" y1="5.56" x2="11.55" y2="7.15" stroke="#e2dfe6" stroke-width="1.0"/><line x1="24.91" y1="26.36" x2="23.87" y2="27.55" stroke="#f0b4be" stroke-width="1.0"/><line x1="14.5" y1="17.89" x2="15.64" y2="18.99" stroke="#f5bcc4" stroke-width="1.0"/><line x1="18.16" y1="29" x2="19.03" y2="29.58" stroke="#f5bcc4" stroke-width="1.0"/><line x1="8.87" y1="16.65" x2="8.55" y2="18.23" stroke="#f7d4da" stroke-width="1.0"/><line x1="17.84" y1="19.39" x2="16.7" y2="21.06" stroke="#f5bcc4" stroke-width="1.0"/><line x1="28.57" y1="4.13" x2="28.5" y2="5.23" stroke="#f2c6ce" stroke-width="1.0"/><line x1="25.51" y1="19.36" x2="24.22" y2="19.66" stroke="#e2dfe6" stroke-width="1.0"/><line x1="18.46" y1="23.93" x2="17.58" y2="24.42" stroke="#e2dfe6" stroke-width="1.0"/><line x1="4.7" y1="2.78" x2="6.35" y2="3.64" stroke="#f5bcc4" stroke-width="1.0"/><line x1="17.25" y1="13.23" x2="18.35" y2="15" stroke="#f2c6ce" stroke-width="1.0"/><line x1="21.39" y1="27.72" x2="19.54" y2="27.98" stroke="#d8d8dc" stroke-width="1.0"/><line x1="3.1" y1="3.09" x2="4.36" y2="3.35" stroke="#f7d4da" stroke-width="1.0"/><line x1="5.19" y1="26.73" x2="3.12" y2="26.81" stroke="#f2c6ce" stroke-width="1.0"/><line x1="12.1" y1="16.3" x2="12.54" y2="17.38" stroke="#c8eed6" stroke-width="1.0"/><line x1="28.86" y1="3.98" x2="30.4" y2="4" stroke="#f7d4da" stroke-width="1.0"/><line x1="28.35" y1="2.17" x2="26.89" y2="3.54" stroke="#f7d4da" stroke-width="1.0"/><line x1="0.47" y1="24.29" x2="-1.58" y2="24.29" stroke="#f2c6ce" stroke-width="1.0"/><line x1="27.55" y1="11.46" x2="28.59" y2="12.81" stroke="#e2dfe6" stroke-width="1.0"/><line x1="22.98" y1="2.66" x2="24.46" y2="3.19" stroke="#d8d8dc" stroke-width="1.0"/><line x1="1.9" y1="12.97" x2="3.73" y2="14.49" stroke="#f7d4da" stroke-width="1.0"/><line x1="19.99" y1="2.2" x2="20.73" y2="3.05" stroke="#f0b4be" stroke-width="1.0"/><line x1="12.97" y1="5.4" x2="11.03" y2="6.43" stroke="#f2c6ce" stroke-width="1.0"/><line x1="2.75" y1="10.67" x2="1.92" y2="11.24" stroke="#d8d8dc" stroke-width="1.0"/><line x1="4.22" y1="24.32" x2="6.01" y2="24.44" stroke="#f0b4be" stroke-width="1.0"/><line x1="26.04" y1="2.35" x2="24.78" y2="2.47" stroke="#d8d8dc" stroke-width="1.0"/><line x1="13.28" y1="14.16" x2="14.62" y2="14.53" stroke="#d8d8dc" stroke-width="1.0"/><line x1="20.61" y1="15.23" x2="22.14" y2="15.49" stroke="#d8d8dc" stroke-width="1.0"/><line x1="15.01" y1="25.8" x2="13.11" y2="26.17" stroke="#c8eed6" stroke-width="1.0"/><line x1="19.08" y1="1.08" x2="21.15" y2="1.24" stroke="#f0b4be" stroke-width="1.0"/><line x1="24.37" y1="24.71" x2="24.85" y2="26.92" stroke="#f5bcc4" stroke-width="1.0"/><line x1="29.97" y1="22.69" x2="28.83" y2="23.09" stroke="#d8d8dc" stroke-width="1.0"/><line x1="5.72" y1="25.03" x2="7.2" y2="25.39" stroke="#f0b4be" stroke-width="1.0"/><line x1="12.64" y1="8.13" x2="12.78" y2="9.52" stroke="#e2dfe6" stroke-width="1.0"/><line x1="19" y1="23.08" x2="18.2" y2="23.84" stroke="#e2dfe6" stroke-width="1.0"/><line x1="11.44" y1="26.92" x2="10.24" y2="27.37" stroke="#f5bcc4" stroke-width="1.0"/><line x1="22.42" y1="14.82" x2="23.31" y2="16.19" stroke="#f0b4be" stroke-width="1.0"/><line x1="7.1" y1="27.61" x2="6.07" y2="27.81" stroke="#f2c6ce" stroke-width="1.0"/><line x1="24.37" y1="2.57" x2="26.13" y2="3.34" stroke="#f7d4da" stroke-width="1.0"/><line x1="23.26" y1="4.56" x2="23.12" y2="6.92" stroke="#e2dfe6" stroke-width="1.0"/><line x1="16.73" y1="8.51" x2="18.2" y2="9.02" stroke="#f7d4da" stroke-width="1.0"/><line x1="11.06" y1="14.33" x2="10.46" y2="16.61" stroke="#f2c6ce" stroke-width="1.0"/><line x1="28.95" y1="4.21" x2="29.97" y2="4.27" stroke="#f0b4be" stroke-width="1.0"/><line x1="4.01" y1="14.43" x2="3.4" y2="15.24" stroke="#d8d8dc" stroke-width="1.0"/><line x1="6.34" y1="6.97" x2="5.5" y2="8.01" stroke="#f7d4da" stroke-width="1.0"/><line x1="1.68" y1="15.02" x2="3.21" y2="15.2" stroke="#f7d4da" stroke-width="1.0"/><line x1="23.3" y1="16.73" x2="23.51" y2="17.86" stroke="#f5bcc4" stroke-width="1.0"/><line x1="27.74" y1="11.11" x2="27.56" y2="13.1" stroke="#c8eed6" stroke-width="1.0"/><line x1="28.49" y1="29.64" x2="29.21" y2="30.64" stroke="#e2dfe6" stroke-width="1.0"/><line x1="2.32" y1="13.46" x2="1.15" y2="14.74" stroke="#f0b4be" stroke-width="1.0"/><line x1="2.95" y1="15.4" x2="1.68" y2="16.23" stroke="#f0b4be" stroke-width="1.0"/><line x1="4.14" y1="10.53" x2="4.17" y2="12.32" stroke="#f2c6ce" stroke-width="1.0"/><line x1="17" y1="1.27" x2="16.2" y2="2.11" stroke="#f2c6ce" stroke-width="1.0"/><line x1="11.23" y1="10.22" x2="9.82" y2="11.14" stroke="#f2c6ce" stroke-width="1.0"/><line x1="22.23" y1="7.86" x2="20.62" y2="8.82" stroke="#f0b4be" stroke-width="1.0"/><line x1="4.99" y1="23.68" x2="3.9" y2="25.15" stroke="#f0b4be" stroke-width="1.0"/><line x1="27.45" y1="25.09" x2="26.93" y2="26.81" stroke="#e2dfe6" stroke-width="1.0"/><line x1="10.65" y1="3.7" x2="10.92" y2="5.66" stroke="#c8eed6" stroke-width="1.0"/><line x1="14.83" y1="26.14" x2="16.64" y2="26.37" stroke="#f5bcc4" stroke-width="1.0"/><line x1="12.38" y1="15.94" x2="12.7" y2="17.72" stroke="#c8eed6" stroke-width="1.0"/><line x1="28.47" y1="3.33" x2="30.39" y2="3.72" stroke="#f5bcc4" stroke-width="1.0"/><line x1="1.28" y1="21.47" x2="2.28" y2="22.89" stroke="#c8eed6" stroke-width="1.0"/><line x1="21.63" y1="2.08" x2="20.68" y2="4.05" stroke="#f5bcc4" stroke-width="1.0"/><line x1="12.15" y1="9.16" x2="12.36" y2="10.56" stroke="#d8d8dc" stroke-width="1.0"/><line x1="9.68" y1="19.73" x2="9.69" y2="21.26" stroke="#e2dfe6" stroke-width="1.0"/><line x1="6.49" y1="7.9" x2="5.22" y2="8.12" stroke="#f5bcc4" stroke-width="1.0"/><line x1="4.51" y1="29.81" x2="3.82" y2="31.27" stroke="#c8eed6" stroke-width="1.0"/><line x1="19.52" y1="5.24" x2="21.05" y2="5.96" stroke="#e2dfe6" stroke-width="1.0"/><line x1="15.07" y1="28.06" x2="15.55" y2="28.96" stroke="#f0b4be" stroke-width="1.0"/><line x1="8.04" y1="14.81" x2="7.78" y2="17.06" stroke="#c8eed6" stroke-width="1.0"/><line x1="7.19" y1="5.04" x2="6.97" y2="6.38" stroke="#f7d4da" stroke-width="1.0"/><line x1="8.81" y1="3.23" x2="9.84" y2="4.33" stroke="#c8eed6" stroke-width="1.0"/><line x1="7.94" y1="18.88" x2="6.94" y2="21" stroke="#f5bcc4" stroke-width="1.0"/><line x1="20.69" y1="3.32" x2="22.81" y2="3.97" stroke="#f7d4da" stroke-width="1.0"/><line x1="25.33" y1="17.47" x2="27.66" y2="17.84" stroke="#f0b4be" stroke-width="1.0"/><line x1="5.17" y1="10.04" x2="4.32" y2="10.81" stroke="#d8d8dc" stroke-width="1.0"/><line x1="9.88" y1="2.88" x2="11.84" y2="3.28" stroke="#f0b4be" stroke-width="1.0"/><line x1="29.97" y1="12.26" x2="31.04" y2="12.48" stroke="#f5bcc4" stroke-width="1.0"/><line x1="28.3" y1="23.72" x2="26.68" y2="24.26" stroke="#f5bcc4" stroke-width="1.0"/><line x1="13.85" y1="2.15" x2="14.42" y2="4.4" stroke="#c8eed6" stroke-width="1.0"/><line x1="8.7" y1="3.24" x2="8.62" y2="5.54" stroke="#f5bcc4" stroke-width="1.0"/><line x1="13.98" y1="3.08" x2="13.12" y2="3.85" stroke="#c8eed6" stroke-width="1.0"/><line x1="2.85" y1="19.64" x2="2.1" y2="20.98" stroke="#f5bcc4" stroke-width="1.0"/><line x1="8.17" y1="16.53" x2="6.57" y2="16.66" stroke="#f2c6ce" stroke-width="1.0"/><line x1="26.46" y1="29.44" x2="28.21" y2="30.22" stroke="#f2c6ce" stroke-width="1.0"/><line x1="27.56" y1="9.77" x2="26.12" y2="10.74" stroke="#f2c6ce" stroke-width="1.0"/><line x1="9.18" y1="25.68" x2="8.57" y2="26.97" stroke="#c8eed6" stroke-width="1.0"/><line x1="27.53" y1="17.22" x2="27.53" y2="18.62" stroke="#e2dfe6" stroke-width="1.0"/><line x1="18.86" y1="13.7" x2="19.45" y2="15.6" stroke="#f5bcc4" stroke-width="1.0"/><line x1="4.03" y1="6.08" x2="2.86" y2="7.73" stroke="#f5bcc4" stroke-width="1.0"/><line x1="13.36" y1="7.02" x2="14.7" y2="8.36" stroke="#e2dfe6" stroke-width="1.0"/><line x1="13.39" y1="18.59" x2="12.28" y2="19.12" stroke="#e2dfe6" stroke-width="1.0"/><line x1="14.45" y1="8.94" x2="12.7" y2="9.6" stroke="#e2dfe6" stroke-width="1.0"/><line x1="1.57" y1="21.62" x2="3.49" y2="22.39" stroke="#f7d4da" stroke-width="1.0"/><line x1="17.33" y1="14.44" x2="15.37" y2="15.5" stroke="#c8eed6" stroke-width="1.0"/><line x1="27.58" y1="8.46" x2="28.69" y2="10.39" stroke="#f2c6ce" stroke-width="1.0"/><line x1="15.72" y1="8.83" x2="16.54" y2="10.74" stroke="#f7d4da" stroke-width="1.0"/><line x1="19.65" y1="22.71" x2="18.99" y2="23.47" stroke="#f2c6ce" stroke-width="1.0"/><line x1="9.37" y1="25.59" x2="8.6" y2="26.98" stroke="#d8d8dc" stroke-width="1.0"/></pattern><pattern id="ph" patternUnits="userSpaceOnUse" width="30" height="30"><line x1="23.8" y1="24.66" x2="23.86" y2="26.02" stroke="#bfeacd" stroke-width="1.0"/><line x1="4.37" y1="17.59" x2="2.35" y2="17.81" stroke="#d6f2de" stroke-width="1.0"/><line x1="23.1" y1="8.18" x2="21.46" y2="9.36" stroke="#b4e6c4" stroke-width="1.0"/><line x1="27.32" y1="16.18" x2="29.03" y2="16.7" stroke="#dcdee2" stroke-width="1.0"/><line x1="24.15" y1="7.97" x2="22.56" y2="9.1" stroke="#d4d8d8" stroke-width="1.0"/><line x1="12.74" y1="29.71" x2="13.4" y2="31.14" stroke="#d6f2de" stroke-width="1.0"/><line x1="13.36" y1="2.81" x2="14.89" y2="3.91" stroke="#d6f2de" stroke-width="1.0"/><line x1="2.93" y1="1.37" x2="0.87" y2="2.02" stroke="#d6f2de" stroke-width="1.0"/><line x1="14.6" y1="24.98" x2="16.08" y2="26.01" stroke="#dcdee2" stroke-width="1.0"/><line x1="26.77" y1="15.11" x2="24.95" y2="15.6" stroke="#cbeed8" stroke-width="1.0"/><line x1="18.05" y1="9.13" x2="17.74" y2="10.21" stroke="#dcdee2" stroke-width="1.0"/><line x1="15.76" y1="3.5" x2="15.05" y2="4.76" stroke="#cbeed8" stroke-width="1.0"/><line x1="11.39" y1="6.68" x2="10.74" y2="8.75" stroke="#dcdee2" stroke-width="1.0"/><line x1="15.66" y1="5.66" x2="17.31" y2="6.63" stroke="#f4c8d0" stroke-width="1.0"/><line x1="27.13" y1="18.61" x2="28.01" y2="19.86" stroke="#b4e6c4" stroke-width="1.0"/><line x1="8.67" y1="20.36" x2="8.72" y2="21.62" stroke="#f4c8d0" stroke-width="1.0"/><line x1="22.39" y1="11.93" x2="21.05" y2="12.01" stroke="#bfeacd" stroke-width="1.0"/><line x1="26.77" y1="20.11" x2="25.24" y2="20.66" stroke="#d4d8d8" stroke-width="1.0"/><line x1="11.4" y1="2.29" x2="11.73" y2="3.68" stroke="#d4d8d8" stroke-width="1.0"/><line x1="12.27" y1="2.58" x2="11.31" y2="3.56" stroke="#b4e6c4" stroke-width="1.0"/><line x1="21.68" y1="28.95" x2="23.43" y2="29.05" stroke="#d6f2de" stroke-width="1.0"/><line x1="17.68" y1="10.83" x2="18.81" y2="12.01" stroke="#f4c8d0" stroke-width="1.0"/><line x1="7.64" y1="12.32" x2="5.92" y2="13" stroke="#d6f2de" stroke-width="1.0"/><line x1="18.07" y1="19.69" x2="18.12" y2="21.7" stroke="#b4e6c4" stroke-width="1.0"/><line x1="9.17" y1="24.14" x2="10.18" y2="25.78" stroke="#f4c8d0" stroke-width="1.0"/><line x1="11.28" y1="18.09" x2="12.12" y2="19.41" stroke="#b4e6c4" stroke-width="1.0"/><line x1="21.88" y1="4.75" x2="20.35" y2="5.66" stroke="#f4c8d0" stroke-width="1.0"/><line x1="13.48" y1="1.71" x2="15.55" y2="1.91" stroke="#bfeacd" stroke-width="1.0"/><line x1="20.46" y1="11.13" x2="18.77" y2="11.22" stroke="#f4c8d0" stroke-width="1.0"/><line x1="1.87" y1="5.78" x2="0.03" y2="6.08" stroke="#b4e6c4" stroke-width="1.0"/><line x1="24.19" y1="24" x2="24.1" y2="25.11" stroke="#cbeed8" stroke-width="1.0"/><line x1="3" y1="10.86" x2="4.69" y2="11.68" stroke="#f4c8d0" stroke-width="1.0"/><line x1="9.55" y1="1.13" x2="8.54" y2="2.86" stroke="#bfeacd" stroke-width="1.0"/><line x1="19.37" y1="13.88" x2="17.58" y2="14.46" stroke="#dcdee2" stroke-width="1.0"/><line x1="16.54" y1="18.5" x2="15.35" y2="18.79" stroke="#dcdee2" stroke-width="1.0"/><line x1="27.34" y1="27.23" x2="25.8" y2="27.77" stroke="#dcdee2" stroke-width="1.0"/><line x1="0.61" y1="19.12" x2="-0.46" y2="19.81" stroke="#b4e6c4" stroke-width="1.0"/><line x1="14.37" y1="13.18" x2="14.07" y2="14.82" stroke="#f4c8d0" stroke-width="1.0"/><line x1="1.91" y1="24.01" x2="0.51" y2="24.1" stroke="#bfeacd" stroke-width="1.0"/><line x1="2.51" y1="25.74" x2="4.01" y2="27.55" stroke="#b4e6c4" stroke-width="1.0"/><line x1="13.33" y1="11.14" x2="12.49" y2="12.2" stroke="#f4c8d0" stroke-width="1.0"/><line x1="19.16" y1="16.07" x2="20.39" y2="16.19" stroke="#d6f2de" stroke-width="1.0"/><line x1="0.96" y1="28.56" x2="-0.44" y2="30.05" stroke="#cbeed8" stroke-width="1.0"/><line x1="21.02" y1="10.3" x2="22.98" y2="10.79" stroke="#bfeacd" stroke-width="1.0"/><line x1="11.99" y1="4.07" x2="10.68" y2="5.44" stroke="#cbeed8" stroke-width="1.0"/><line x1="2.22" y1="15.61" x2="3.95" y2="15.77" stroke="#cbeed8" stroke-width="1.0"/><line x1="5.51" y1="22.17" x2="5.46" y2="24.36" stroke="#d4d8d8" stroke-width="1.0"/><line x1="6.69" y1="6.65" x2="6.24" y2="8.88" stroke="#b4e6c4" stroke-width="1.0"/><line x1="20.73" y1="22.72" x2="18.94" y2="22.76" stroke="#bfeacd" stroke-width="1.0"/><line x1="23.59" y1="17.07" x2="24.8" y2="17.88" stroke="#b4e6c4" stroke-width="1.0"/><line x1="15.79" y1="0.29" x2="14.25" y2="1.11" stroke="#d4d8d8" stroke-width="1.0"/><line x1="19.86" y1="21.49" x2="18.93" y2="23.4" stroke="#d6f2de" stroke-width="1.0"/><line x1="8.16" y1="5.55" x2="9.91" y2="6.44" stroke="#cbeed8" stroke-width="1.0"/><line x1="11.54" y1="1.83" x2="13.59" y2="2.09" stroke="#bfeacd" stroke-width="1.0"/><line x1="19.53" y1="16.21" x2="18.57" y2="17.78" stroke="#bfeacd" stroke-width="1.0"/><line x1="16.28" y1="23.59" x2="17.64" y2="24.76" stroke="#d6f2de" stroke-width="1.0"/><line x1="2.78" y1="2.32" x2="2.53" y2="3.37" stroke="#dcdee2" stroke-width="1.0"/><line x1="13.14" y1="28.74" x2="12.4" y2="29.75" stroke="#dcdee2" stroke-width="1.0"/><line x1="27.59" y1="22.5" x2="26.53" y2="24.22" stroke="#dcdee2" stroke-width="1.0"/><line x1="21.25" y1="7.67" x2="22.85" y2="9.1" stroke="#dcdee2" stroke-width="1.0"/><line x1="23.36" y1="23.63" x2="24.8" y2="24.77" stroke="#d6f2de" stroke-width="1.0"/><line x1="15.81" y1="21.96" x2="13.46" y2="22.15" stroke="#d4d8d8" stroke-width="1.0"/><line x1="20.52" y1="23.31" x2="22.27" y2="23.84" stroke="#bfeacd" stroke-width="1.0"/><line x1="10.86" y1="20.74" x2="12.43" y2="22.09" stroke="#d6f2de" stroke-width="1.0"/><line x1="27.64" y1="28.44" x2="28.07" y2="30.56" stroke="#bfeacd" stroke-width="1.0"/><line x1="10.32" y1="0.91" x2="11.15" y2="2.37" stroke="#b4e6c4" stroke-width="1.0"/><line x1="24.85" y1="2.63" x2="24.46" y2="3.95" stroke="#cbeed8" stroke-width="1.0"/><line x1="3.78" y1="16.37" x2="5.17" y2="17.71" stroke="#f4c8d0" stroke-width="1.0"/><line x1="12.87" y1="15.53" x2="10.89" y2="16.69" stroke="#d6f2de" stroke-width="1.0"/><line x1="4.1" y1="26.64" x2="5.44" y2="27.57" stroke="#d4d8d8" stroke-width="1.0"/><line x1="5.28" y1="3.25" x2="4.3" y2="3.48" stroke="#cbeed8" stroke-width="1.0"/><line x1="3.6" y1="17.78" x2="3.78" y2="19.98" stroke="#f4c8d0" stroke-width="1.0"/><line x1="23.02" y1="16.24" x2="21.98" y2="17.02" stroke="#dcdee2" stroke-width="1.0"/><line x1="26.98" y1="4.63" x2="24.83" y2="5.19" stroke="#d4d8d8" stroke-width="1.0"/><line x1="0.32" y1="12.53" x2="1.07" y2="13.71" stroke="#f4c8d0" stroke-width="1.0"/><line x1="25.65" y1="10.89" x2="27.08" y2="10.91" stroke="#bfeacd" stroke-width="1.0"/><line x1="12.23" y1="18.61" x2="13.65" y2="19.87" stroke="#cbeed8" stroke-width="1.0"/><line x1="11.41" y1="3.78" x2="9.33" y2="4.38" stroke="#f4c8d0" stroke-width="1.0"/><line x1="27.86" y1="1.51" x2="27.68" y2="3.86" stroke="#d6f2de" stroke-width="1.0"/><line x1="26.49" y1="9.86" x2="25.53" y2="11.07" stroke="#d6f2de" stroke-width="1.0"/><line x1="19.48" y1="23.93" x2="20.64" y2="24.18" stroke="#bfeacd" stroke-width="1.0"/><line x1="17.67" y1="18.34" x2="15.52" y2="18.41" stroke="#f4c8d0" stroke-width="1.0"/><line x1="3.41" y1="20.63" x2="2.55" y2="21.34" stroke="#d4d8d8" stroke-width="1.0"/><line x1="19.95" y1="3.75" x2="20.5" y2="4.84" stroke="#dcdee2" stroke-width="1.0"/><line x1="24.56" y1="7.33" x2="23.25" y2="7.47" stroke="#cbeed8" stroke-width="1.0"/><line x1="25.79" y1="22.17" x2="25.94" y2="23.31" stroke="#f4c8d0" stroke-width="1.0"/><line x1="4.1" y1="29.14" x2="5.34" y2="30.01" stroke="#cbeed8" stroke-width="1.0"/><line x1="29.13" y1="18.78" x2="27.8" y2="19.16" stroke="#bfeacd" stroke-width="1.0"/><line x1="1.83" y1="19.63" x2="1.95" y2="21.51" stroke="#d6f2de" stroke-width="1.0"/><line x1="1.84" y1="8.24" x2="0.85" y2="9.42" stroke="#f4c8d0" stroke-width="1.0"/><line x1="10.08" y1="22.13" x2="9" y2="22.64" stroke="#d4d8d8" stroke-width="1.0"/><line x1="4.42" y1="20.02" x2="4.57" y2="21.58" stroke="#bfeacd" stroke-width="1.0"/><line x1="28.37" y1="26.67" x2="30.49" y2="27.75" stroke="#d6f2de" stroke-width="1.0"/><line x1="0.37" y1="29.82" x2="-1.57" y2="30.01" stroke="#b4e6c4" stroke-width="1.0"/><line x1="7.96" y1="14.35" x2="8.36" y2="15.56" stroke="#f4c8d0" stroke-width="1.0"/><line x1="29.67" y1="25.85" x2="29.94" y2="27.18" stroke="#f4c8d0" stroke-width="1.0"/><line x1="23.26" y1="8.83" x2="22.49" y2="9.98" stroke="#f4c8d0" stroke-width="1.0"/><line x1="29.44" y1="21.55" x2="31.46" y2="21.84" stroke="#dcdee2" stroke-width="1.0"/><line x1="29.56" y1="29.13" x2="29.38" y2="31.27" stroke="#f4c8d0" stroke-width="1.0"/><line x1="16.1" y1="5.11" x2="17.12" y2="5.22" stroke="#cbeed8" stroke-width="1.0"/><line x1="17.12" y1="5.72" x2="18.01" y2="6.78" stroke="#d6f2de" stroke-width="1.0"/><line x1="21.07" y1="26.46" x2="22.64" y2="27.74" stroke="#f4c8d0" stroke-width="1.0"/><line x1="0.08" y1="24.45" x2="-1.47" y2="25.39" stroke="#d6f2de" stroke-width="1.0"/><line x1="5.5" y1="27.73" x2="6.68" y2="28.71" stroke="#f4c8d0" stroke-width="1.0"/><line x1="18.67" y1="3.69" x2="17.09" y2="5.44" stroke="#bfeacd" stroke-width="1.0"/><line x1="17.54" y1="18.57" x2="17.07" y2="19.87" stroke="#dcdee2" stroke-width="1.0"/><line x1="29.52" y1="1.69" x2="28.69" y2="3.18" stroke="#f4c8d0" stroke-width="1.0"/><line x1="7.57" y1="7.97" x2="6.16" y2="8.1" stroke="#b4e6c4" stroke-width="1.0"/><line x1="22.47" y1="2.83" x2="21.3" y2="3.9" stroke="#dcdee2" stroke-width="1.0"/><line x1="4.87" y1="8.33" x2="4.22" y2="9.62" stroke="#dcdee2" stroke-width="1.0"/><line x1="29.45" y1="1.72" x2="28.91" y2="2.67" stroke="#b4e6c4" stroke-width="1.0"/><line x1="16.01" y1="5.3" x2="16.69" y2="6.03" stroke="#d6f2de" stroke-width="1.0"/><line x1="21.45" y1="10.37" x2="22.04" y2="12.27" stroke="#d4d8d8" stroke-width="1.0"/><line x1="21.52" y1="22.22" x2="22.59" y2="23.54" stroke="#dcdee2" stroke-width="1.0"/><line x1="7.71" y1="9.3" x2="6.01" y2="10.84" stroke="#d4d8d8" stroke-width="1.0"/><line x1="15.46" y1="26.17" x2="17.32" y2="27.14" stroke="#dcdee2" stroke-width="1.0"/><line x1="19.55" y1="22.34" x2="20.91" y2="22.4" stroke="#cbeed8" stroke-width="1.0"/><line x1="16.76" y1="0.93" x2="17.66" y2="1.87" stroke="#dcdee2" stroke-width="1.0"/><line x1="8.27" y1="5.26" x2="9.31" y2="5.73" stroke="#bfeacd" stroke-width="1.0"/><line x1="23.8" y1="17.85" x2="21.66" y2="18.6" stroke="#b4e6c4" stroke-width="1.0"/><line x1="18.36" y1="14.63" x2="19.34" y2="16.21" stroke="#cbeed8" stroke-width="1.0"/><line x1="24.02" y1="15.96" x2="25.67" y2="17.33" stroke="#b4e6c4" stroke-width="1.0"/><line x1="6.69" y1="10.55" x2="6.3" y2="12.42" stroke="#f4c8d0" stroke-width="1.0"/><line x1="25.14" y1="25.64" x2="24.86" y2="26.92" stroke="#bfeacd" stroke-width="1.0"/><line x1="12.21" y1="11.9" x2="11.93" y2="13.03" stroke="#dcdee2" stroke-width="1.0"/><line x1="1.03" y1="9.45" x2="-0.52" y2="10.55" stroke="#b4e6c4" stroke-width="1.0"/><line x1="11.3" y1="10.82" x2="10.36" y2="12.01" stroke="#bfeacd" stroke-width="1.0"/><line x1="12.34" y1="17.67" x2="13.39" y2="19.16" stroke="#b4e6c4" stroke-width="1.0"/><line x1="7.22" y1="13.83" x2="6.86" y2="15.3" stroke="#b4e6c4" stroke-width="1.0"/><line x1="20.31" y1="14.06" x2="21.16" y2="15.46" stroke="#b4e6c4" stroke-width="1.0"/><line x1="0.36" y1="26.55" x2="-0.2" y2="28.13" stroke="#dcdee2" stroke-width="1.0"/><line x1="1.76" y1="0.78" x2="0.33" y2="2.39" stroke="#f4c8d0" stroke-width="1.0"/><line x1="10.54" y1="10.87" x2="8.93" y2="11.34" stroke="#bfeacd" stroke-width="1.0"/><line x1="12.18" y1="17.99" x2="14.32" y2="18.19" stroke="#cbeed8" stroke-width="1.0"/><line x1="18.38" y1="16.09" x2="16.78" y2="17.04" stroke="#d4d8d8" stroke-width="1.0"/><line x1="27.69" y1="24.96" x2="28.39" y2="26.83" stroke="#bfeacd" stroke-width="1.0"/><line x1="18.58" y1="12.54" x2="20.44" y2="13.69" stroke="#d6f2de" stroke-width="1.0"/><line x1="1.13" y1="16.27" x2="2.8" y2="17.52" stroke="#d4d8d8" stroke-width="1.0"/><line x1="0.91" y1="19.34" x2="0.59" y2="20.98" stroke="#b4e6c4" stroke-width="1.0"/><line x1="6.07" y1="11.23" x2="7.24" y2="11.79" stroke="#cbeed8" stroke-width="1.0"/><line x1="26.02" y1="8.08" x2="27.3" y2="9.15" stroke="#cbeed8" stroke-width="1.0"/><line x1="11.11" y1="22.67" x2="10.53" y2="23.93" stroke="#cbeed8" stroke-width="1.0"/><line x1="22.28" y1="27.09" x2="23.54" y2="27.31" stroke="#b4e6c4" stroke-width="1.0"/><line x1="29.3" y1="15.86" x2="27.42" y2="16.35" stroke="#dcdee2" stroke-width="1.0"/><line x1="28.76" y1="27.63" x2="26.89" y2="27.96" stroke="#dcdee2" stroke-width="1.0"/><line x1="2.45" y1="20.26" x2="1.81" y2="21.35" stroke="#d4d8d8" stroke-width="1.0"/><line x1="2.97" y1="17.07" x2="3.05" y2="18.53" stroke="#dcdee2" stroke-width="1.0"/><line x1="5.58" y1="6.32" x2="3.46" y2="7.35" stroke="#cbeed8" stroke-width="1.0"/><line x1="9.79" y1="16.27" x2="10.88" y2="17.75" stroke="#bfeacd" stroke-width="1.0"/><line x1="8.77" y1="12.15" x2="6.97" y2="12.86" stroke="#dcdee2" stroke-width="1.0"/><line x1="12.39" y1="17.83" x2="11.53" y2="19.46" stroke="#b4e6c4" stroke-width="1.0"/><line x1="2.67" y1="26.01" x2="2.16" y2="27.69" stroke="#cbeed8" stroke-width="1.0"/><line x1="28.29" y1="20.15" x2="29.9" y2="21.31" stroke="#d6f2de" stroke-width="1.0"/><line x1="12.64" y1="20.91" x2="11.51" y2="22.98" stroke="#cbeed8" stroke-width="1.0"/><line x1="5.89" y1="6.99" x2="6.33" y2="9" stroke="#dcdee2" stroke-width="1.0"/><line x1="27.52" y1="10.88" x2="28.22" y2="12.32" stroke="#f4c8d0" stroke-width="1.0"/><line x1="12.26" y1="8.58" x2="14.34" y2="9.67" stroke="#f4c8d0" stroke-width="1.0"/><line x1="7.73" y1="5.93" x2="7.86" y2="7.17" stroke="#f4c8d0" stroke-width="1.0"/><line x1="0.22" y1="1.96" x2="0.05" y2="3.6" stroke="#bfeacd" stroke-width="1.0"/><line x1="29.05" y1="16.36" x2="31.22" y2="16.76" stroke="#f4c8d0" stroke-width="1.0"/><line x1="1.2" y1="11.66" x2="1.74" y2="12.72" stroke="#d6f2de" stroke-width="1.0"/><line x1="16.18" y1="0.1" x2="15.64" y2="2.15" stroke="#d4d8d8" stroke-width="1.0"/><line x1="3.9" y1="18.96" x2="5.73" y2="19.47" stroke="#f4c8d0" stroke-width="1.0"/><line x1="10.51" y1="3.6" x2="10.18" y2="4.54" stroke="#d6f2de" stroke-width="1.0"/><line x1="18.74" y1="6.26" x2="21.06" y2="6.77" stroke="#bfeacd" stroke-width="1.0"/><line x1="18.45" y1="23.78" x2="16.25" y2="24.43" stroke="#f4c8d0" stroke-width="1.0"/><line x1="22.62" y1="11.48" x2="22.19" y2="13.6" stroke="#bfeacd" stroke-width="1.0"/><line x1="5.59" y1="16.81" x2="4.26" y2="16.86" stroke="#cbeed8" stroke-width="1.0"/><line x1="8.75" y1="7.69" x2="8.26" y2="9.1" stroke="#f4c8d0" stroke-width="1.0"/><line x1="23.39" y1="4.8" x2="25.35" y2="5.62" stroke="#b4e6c4" stroke-width="1.0"/><line x1="1.65" y1="2.41" x2="1.39" y2="3.89" stroke="#b4e6c4" stroke-width="1.0"/><line x1="12.16" y1="15.54" x2="13.85" y2="17.11" stroke="#f4c8d0" stroke-width="1.0"/><line x1="12.69" y1="26.87" x2="13.05" y2="28.96" stroke="#f4c8d0" stroke-width="1.0"/><line x1="17.91" y1="7.41" x2="16.87" y2="7.85" stroke="#b4e6c4" stroke-width="1.0"/><line x1="19.85" y1="11.74" x2="19.26" y2="13.26" stroke="#f4c8d0" stroke-width="1.0"/><line x1="18.37" y1="20.59" x2="19.42" y2="20.93" stroke="#cbeed8" stroke-width="1.0"/><line x1="6.16" y1="20.34" x2="4.78" y2="21.91" stroke="#bfeacd" stroke-width="1.0"/><line x1="10.74" y1="5.6" x2="12.27" y2="5.81" stroke="#d6f2de" stroke-width="1.0"/><line x1="26.53" y1="20.82" x2="25.28" y2="22.48" stroke="#f4c8d0" stroke-width="1.0"/><line x1="3.53" y1="14.42" x2="5.19" y2="14.44" stroke="#dcdee2" stroke-width="1.0"/><line x1="19.93" y1="29.75" x2="20.79" y2="30.59" stroke="#b4e6c4" stroke-width="1.0"/><line x1="12.43" y1="16.76" x2="13.45" y2="18.46" stroke="#cbeed8" stroke-width="1.0"/><line x1="23.04" y1="3.46" x2="21.77" y2="4.36" stroke="#dcdee2" stroke-width="1.0"/><line x1="20.47" y1="6.49" x2="20.08" y2="8.33" stroke="#d4d8d8" stroke-width="1.0"/><line x1="16.15" y1="3.19" x2="17.46" y2="4.56" stroke="#d6f2de" stroke-width="1.0"/><line x1="23.15" y1="17.91" x2="21.9" y2="18.5" stroke="#b4e6c4" stroke-width="1.0"/><line x1="19.14" y1="9.46" x2="17.86" y2="9.55" stroke="#f4c8d0" stroke-width="1.0"/><line x1="12.45" y1="24.31" x2="13.89" y2="24.69" stroke="#d4d8d8" stroke-width="1.0"/><line x1="25.48" y1="25.47" x2="23.68" y2="26.34" stroke="#bfeacd" stroke-width="1.0"/><line x1="21.73" y1="3.42" x2="19.83" y2="4.41" stroke="#d6f2de" stroke-width="1.0"/><line x1="0.53" y1="1.3" x2="2.48" y2="2.65" stroke="#d6f2de" stroke-width="1.0"/><line x1="5.13" y1="25.05" x2="6.75" y2="26.32" stroke="#f4c8d0" stroke-width="1.0"/><line x1="6.49" y1="19.17" x2="5.67" y2="20.37" stroke="#d4d8d8" stroke-width="1.0"/><line x1="11.95" y1="27.74" x2="10.8" y2="29.09" stroke="#cbeed8" stroke-width="1.0"/><line x1="25.38" y1="28.41" x2="23.12" y2="29.09" stroke="#f4c8d0" stroke-width="1.0"/><line x1="23.13" y1="8.33" x2="22.83" y2="9.84" stroke="#d6f2de" stroke-width="1.0"/><line x1="23.62" y1="14.08" x2="22.73" y2="15.95" stroke="#d4d8d8" stroke-width="1.0"/><line x1="21.55" y1="17.71" x2="19.21" y2="18.01" stroke="#bfeacd" stroke-width="1.0"/><line x1="19.08" y1="9" x2="20.24" y2="9.58" stroke="#bfeacd" stroke-width="1.0"/><line x1="3.86" y1="0.09" x2="2.62" y2="0.97" stroke="#bfeacd" stroke-width="1.0"/><line x1="21.44" y1="16.45" x2="19.83" y2="17.45" stroke="#d4d8d8" stroke-width="1.0"/><line x1="9.67" y1="22.02" x2="11.43" y2="23.24" stroke="#b4e6c4" stroke-width="1.0"/><line x1="17.42" y1="3.53" x2="18.23" y2="5.28" stroke="#bfeacd" stroke-width="1.0"/><line x1="12.46" y1="7.84" x2="13.42" y2="8.23" stroke="#dcdee2" stroke-width="1.0"/><line x1="0.43" y1="0.37" x2="2.7" y2="0.92" stroke="#bfeacd" stroke-width="1.0"/><line x1="4.6" y1="8.3" x2="5.38" y2="9.36" stroke="#d6f2de" stroke-width="1.0"/><line x1="15.89" y1="8.19" x2="16.84" y2="8.7" stroke="#d4d8d8" stroke-width="1.0"/><line x1="2.68" y1="14" x2="1.14" y2="14.13" stroke="#b4e6c4" stroke-width="1.0"/><line x1="28.07" y1="11.52" x2="30.08" y2="12.39" stroke="#cbeed8" stroke-width="1.0"/><line x1="8.25" y1="1.27" x2="7.32" y2="2.37" stroke="#bfeacd" stroke-width="1.0"/><line x1="11.43" y1="18.93" x2="10.45" y2="20.24" stroke="#d4d8d8" stroke-width="1.0"/><line x1="3.41" y1="25.28" x2="1.86" y2="26.51" stroke="#cbeed8" stroke-width="1.0"/><line x1="4.67" y1="5.34" x2="3.34" y2="5.5" stroke="#dcdee2" stroke-width="1.0"/><line x1="15.03" y1="13.28" x2="15.29" y2="15.04" stroke="#d4d8d8" stroke-width="1.0"/><line x1="29.65" y1="0.97" x2="28.79" y2="1.77" stroke="#d6f2de" stroke-width="1.0"/><line x1="0.26" y1="9.41" x2="-0.01" y2="11.05" stroke="#d4d8d8" stroke-width="1.0"/><line x1="7.45" y1="12.57" x2="7.98" y2="14.14" stroke="#d4d8d8" stroke-width="1.0"/><line x1="4.33" y1="13.96" x2="6.48" y2="13.97" stroke="#bfeacd" stroke-width="1.0"/><line x1="5" y1="6.47" x2="4.87" y2="8.16" stroke="#cbeed8" stroke-width="1.0"/><line x1="2.75" y1="2.81" x2="1.05" y2="3.98" stroke="#f4c8d0" stroke-width="1.0"/><line x1="18.51" y1="26.21" x2="17.22" y2="26.97" stroke="#bfeacd" stroke-width="1.0"/><line x1="18.66" y1="0.65" x2="19.65" y2="2.34" stroke="#dcdee2" stroke-width="1.0"/><line x1="5.56" y1="3.3" x2="5.19" y2="5.27" stroke="#b4e6c4" stroke-width="1.0"/><line x1="7.7" y1="27.19" x2="5.69" y2="27.92" stroke="#cbeed8" stroke-width="1.0"/><line x1="17.87" y1="25.88" x2="18.46" y2="26.85" stroke="#b4e6c4" stroke-width="1.0"/><line x1="1.23" y1="16.47" x2="2.91" y2="16.91" stroke="#bfeacd" stroke-width="1.0"/><line x1="10.54" y1="3.07" x2="11.34" y2="5.06" stroke="#b4e6c4" stroke-width="1.0"/><line x1="16.08" y1="8.77" x2="16.4" y2="10.8" stroke="#cbeed8" stroke-width="1.0"/><line x1="0.78" y1="0.33" x2="-0.38" y2="0.63" stroke="#d4d8d8" stroke-width="1.0"/><line x1="9.13" y1="13.09" x2="8.76" y2="15.45" stroke="#bfeacd" stroke-width="1.0"/><line x1="25.3" y1="28.78" x2="26.15" y2="29.81" stroke="#b4e6c4" stroke-width="1.0"/><line x1="21.25" y1="6.5" x2="20.1" y2="8.17" stroke="#d4d8d8" stroke-width="1.0"/><line x1="27.95" y1="8.26" x2="28.76" y2="10.14" stroke="#dcdee2" stroke-width="1.0"/><line x1="27.05" y1="29.61" x2="25.83" y2="29.76" stroke="#d6f2de" stroke-width="1.0"/><line x1="12.26" y1="5.26" x2="12.61" y2="6.62" stroke="#b4e6c4" stroke-width="1.0"/><line x1="25.77" y1="20.96" x2="24.85" y2="22.58" stroke="#cbeed8" stroke-width="1.0"/><line x1="6.75" y1="0.02" x2="8.78" y2="0.21" stroke="#cbeed8" stroke-width="1.0"/><line x1="13.39" y1="12.72" x2="14.02" y2="14.1" stroke="#cbeed8" stroke-width="1.0"/><line x1="27.83" y1="16.06" x2="29.43" y2="16.66" stroke="#dcdee2" stroke-width="1.0"/><line x1="25.45" y1="20.55" x2="26.97" y2="21.27" stroke="#d6f2de" stroke-width="1.0"/><line x1="26.08" y1="6.95" x2="23.69" y2="7.09" stroke="#cbeed8" stroke-width="1.0"/><line x1="7.28" y1="2.56" x2="5.95" y2="3.02" stroke="#d6f2de" stroke-width="1.0"/><line x1="29.35" y1="21.67" x2="31.19" y2="22.85" stroke="#d6f2de" stroke-width="1.0"/><line x1="25" y1="2.89" x2="22.99" y2="3.56" stroke="#dcdee2" stroke-width="1.0"/><line x1="8.04" y1="26.95" x2="9.06" y2="27.78" stroke="#bfeacd" stroke-width="1.0"/><line x1="15.4" y1="2.67" x2="14.63" y2="4.75" stroke="#b4e6c4" stroke-width="1.0"/><line x1="24.52" y1="8.31" x2="23.34" y2="9.62" stroke="#dcdee2" stroke-width="1.0"/><line x1="15.03" y1="3.17" x2="15.21" y2="4.78" stroke="#b4e6c4" stroke-width="1.0"/><line x1="15.44" y1="29.5" x2="17.27" y2="29.76" stroke="#f4c8d0" stroke-width="1.0"/><line x1="12.98" y1="20.32" x2="13.78" y2="21.32" stroke="#b4e6c4" stroke-width="1.0"/><line x1="4.84" y1="9.08" x2="4.34" y2="11.37" stroke="#f4c8d0" stroke-width="1.0"/><line x1="5.11" y1="17.63" x2="3.76" y2="17.66" stroke="#dcdee2" stroke-width="1.0"/><line x1="1.39" y1="13.29" x2="2.12" y2="14.62" stroke="#cbeed8" stroke-width="1.0"/><line x1="25.45" y1="8.45" x2="24.41" y2="8.98" stroke="#d4d8d8" stroke-width="1.0"/><line x1="2.15" y1="1.96" x2="1.24" y2="3.16" stroke="#dcdee2" stroke-width="1.0"/><line x1="14.43" y1="2.54" x2="13.24" y2="2.81" stroke="#dcdee2" stroke-width="1.0"/><line x1="8.46" y1="1.54" x2="9.2" y2="2.23" stroke="#b4e6c4" stroke-width="1.0"/><line x1="20.47" y1="1.61" x2="20" y2="3.89" stroke="#d4d8d8" stroke-width="1.0"/><line x1="28.32" y1="8.73" x2="28.3" y2="10.93" stroke="#d6f2de" stroke-width="1.0"/><line x1="1.34" y1="8.42" x2="1.68" y2="9.39" stroke="#dcdee2" stroke-width="1.0"/></pattern><radialGradient id="dk"><stop offset="0" stop-color="#404040" stop-opacity="0.28"/><stop offset="1" stop-color="#404040" stop-opacity="0"/></radialGradient><radialGradient id="sh"><stop offset="0" stop-color="#b4b4b4" stop-opacity="0.75"/><stop offset="0.7" stop-color="#a0a0a0" stop-opacity="0.55"/><stop offset="1" stop-color="#909090" stop-opacity="0"/></radialGradient><radialGradient id="shd"><stop offset="0" stop-color="#707070" stop-opacity="0.6"/><stop offset="0.7" stop-color="#787878" stop-opacity="0.4"/><stop offset="1" stop-color="#808080" stop-opacity="0"/></radialGradient><radialGradient id="shl"><stop offset="0" stop-color="#b8b8b8" stop-opacity="0.4"/><stop offset="0.7" stop-color="#a8a8a8" stop-opacity="0.3"/><stop offset="1" stop-color="#999" stop-opacity="0"/></radialGradient><linearGradient id="bg" x1="0" y1="0" x2="0" y2="1"><stop offset="0" stop-color="#a7c7dc"/><stop offset="0.15" stop-color="#b0d0e4"/><stop offset="0.35" stop-color="#bedbeb"/><stop offset="0.49" stop-color="#c6e1ef"/><stop offset="0.7" stop-color="#d2e6f3"/><stop offset="1" stop-color="#e1edf9"/></linearGradient></defs>
<rect x="0" y="0" width="550" height="650" fill="#fff"/>
<rect x="42" y="14" width="495" height="463.5" fill="url(#bg)"/>
<line x1="6.2" y1="5.2" x2="544.8" y2="5.2" stroke="#1f3e6a" stroke-width="1.6" stroke-dasharray="4.6 4.05" stroke-dashoffset="3.55"/>
<line x1="544.8" y1="5.2" x2="544.8" y2="644" stroke="#1f3e6a" stroke-width="1.6" stroke-dasharray="4.6 4.05" stroke-dashoffset="3.4"/>
<line x1="6.2" y1="5.2" x2="6.2" y2="644" stroke="#1f3e6a" stroke-width="1.6" stroke-dasharray="4.6 4.05" stroke-dashoffset="0"/>
<line x1="6.2" y1="644" x2="544.8" y2="644" stroke="#1f3e6a" stroke-width="1.6" stroke-dasharray="4.6 4.05" stroke-dashoffset="-1.4"/>
<text x="20.5" y="27.3" font-size="11.5" fill="#111" font-weight="bold" text-anchor="start" font-family='"Liberation Serif", serif' textLength="12.6" lengthAdjust="spacingAndGlyphs" >(a)</text>
<text x="48.8" y="24" font-size="9" fill="#111" font-weight="bold" text-anchor="start" font-family='"Liberation Sans", sans-serif' >a)</text>
<polygon points="58.66,44.52 63.73,39.93 69.04,34.93 76.25,31.45 83.09,27.55 90.73,25.57 96.89,19.62 104.05,17.59 112.35,22.77 120.9,22.63 128.3,27.27 139.32,24.47 148.18,26.85 154.07,31.97 162.37,34.2 164.23,43.42 160.31,55.6 159.46,65.98 158.93,76.26 159.42,86.82 160.58,98.15 161.77,110.24 151.72,110.4 148.86,116.85 140.89,118.07 135.69,123.13 129.01,125.87 121.59,124.97 116.02,131.15 107.4,124.37 99.38,120.26 90.41,119.35 80.63,118.09 72.68,113.58 65.86,108.68 53.82,107.73 53.46,98.62 57.67,88.03 56.55,79.44 55.49,70.42 53.98,60.9 58.82,53.32" fill="#8c8a98" opacity="0.22"/>
<polygon points="58.66,44.52 63.73,39.93 69.04,34.93 76.25,31.45 83.09,27.55 90.73,25.57 96.89,19.62 104.05,17.59 112.35,22.77 120.9,22.63 128.3,27.27 139.32,24.47 148.18,26.85 154.07,31.97 162.37,34.2 164.23,43.42 160.31,55.6 159.46,65.98 158.93,76.26 159.42,86.82 160.58,98.15 161.77,110.24 151.72,110.4 148.86,116.85 140.89,118.07 135.69,123.13 129.01,125.87 121.59,124.97 116.02,131.15 107.4,124.37 99.38,120.26 90.41,119.35 80.63,118.09 72.68,113.58 65.86,108.68 53.82,107.73 53.46,98.62 57.67,88.03 56.55,79.44 55.49,70.42 53.98,60.9 58.82,53.32" fill="url(#m1)" opacity="0.9"/>
<polygon points="67.74,49.71 71.9,45.95 76.25,41.84 82.17,38.99 87.77,35.79 94.04,34.17 99.09,29.29 104.96,27.63 111.77,31.87 118.78,31.76 124.84,35.56 133.88,33.27 141.15,35.22 145.97,39.42 152.79,41.25 154.31,48.81 151.09,58.79 150.4,67.31 149.96,75.74 150.37,84.4 151.31,93.68 152.29,103.6 144.05,103.73 141.7,109.02 135.17,110.02 130.9,114.17 125.43,116.42 119.34,115.68 114.77,120.75 107.7,115.19 101.13,111.82 93.78,111.07 85.76,110.04 79.24,106.34 73.64,102.32 63.78,101.54 63.48,94.07 66.93,85.39 66.01,78.35 65.14,70.95 63.91,63.14 67.87,56.93" fill="#8c8a98" opacity="0.18"/>
<polygon points="67.74,49.71 71.9,45.95 76.25,41.84 82.17,38.99 87.77,35.79 94.04,34.17 99.09,29.29 104.96,27.63 111.77,31.87 118.78,31.76 124.84,35.56 133.88,33.27 141.15,35.22 145.97,39.42 152.79,41.25 154.31,48.81 151.09,58.79 150.4,67.31 149.96,75.74 150.37,84.4 151.31,93.68 152.29,103.6 144.05,103.73 141.7,109.02 135.17,110.02 130.9,114.17 125.43,116.42 119.34,115.68 114.77,120.75 107.7,115.19 101.13,111.82 93.78,111.07 85.76,110.04 79.24,106.34 73.64,102.32 63.78,101.54 63.48,94.07 66.93,85.39 66.01,78.35 65.14,70.95 63.91,63.14 67.87,56.93" fill="url(#m2)"/>
<polygon points="81.36,57.5 84.15,54.97 87.07,52.22 91.04,50.31 94.8,48.16 99,47.08 102.39,43.8 106.33,42.68 110.89,45.53 115.59,45.45 119.66,48.01 125.73,46.47 130.6,47.78 133.83,50.59 138.4,51.82 139.43,56.89 137.27,63.59 136.8,69.3 136.51,74.96 136.78,80.76 137.42,86.99 138.07,93.64 132.54,93.73 130.97,97.28 126.59,97.95 123.73,100.73 120.05,102.24 115.97,101.74 112.91,105.14 108.17,101.41 103.76,99.16 98.83,98.66 93.45,97.96 89.07,95.48 85.32,92.78 78.7,92.26 78.5,87.25 80.82,81.43 80.2,76.7 79.62,71.74 78.79,66.5 81.45,62.34" fill="url(#m3)" opacity="0.75"/>
<ellipse cx="109.11" cy="73.36" rx="40" ry="38" fill="url(#dk)"/>
<polygon points="56,43 104,17 164,33 160,109 116,131 55,107" fill="none" stroke="#a0abb2" stroke-width="0.5"/>
<circle cx="141.49" cy="99.54" r="1.3" fill="#f0e818"/>
<circle cx="101.32" cy="50.85" r="1.3" fill="#f0e818"/>
<circle cx="109.91" cy="65.09" r="1.3" fill="#f0e818"/>
<circle cx="135.74" cy="55.18" r="1.3" fill="#f0e818"/>
<line x1="158.23" y1="126.15" x2="158.23" y2="121.15" stroke="#20c020" stroke-width="1.0" />
<line x1="158.23" y1="126.15" x2="154.23" y2="127.15" stroke="#e020e0" stroke-width="1.0" />
<line x1="158.23" y1="126.15" x2="161.23" y2="127.15" stroke="#e8e8e8" stroke-width="1.0" />
<text x="179.8" y="24" font-size="9" fill="#111" font-weight="bold" text-anchor="start" font-family='"Liberation Sans", sans-serif' >b)</text>
<polygon points="181.25,45.13 189.69,42.57 192.25,35.54 199.06,31.53 207.24,29.86 213.05,24.77 220.26,23.53 226.36,19.56 234.82,21.44 243.8,21.15 251.64,26.33 262.55,24.23 268.05,31.18 277.13,32.61 285.25,35.05 288.53,43.56 285.86,55.54 286.17,66.13 284.95,76.87 286.65,88.02 285.01,98.38 283.82,108.47 278.63,112.04 271.75,114.21 264.78,115.91 260.9,122.54 253.99,124.61 247.49,127.39 241.21,131.63 232.47,124.95 224.17,121.32 215.77,118.09 207.47,114.53 197.95,112.35 192.67,106.11 181.88,104.47 181.53,96.2 182.72,87.38 184.84,78.85 180.49,70.69 184.85,62.96 181.36,53.71" fill="#8c8a98" opacity="0.22"/>
<polygon points="181.25,45.13 189.69,42.57 192.25,35.54 199.06,31.53 207.24,29.86 213.05,24.77 220.26,23.53 226.36,19.56 234.82,21.44 243.8,21.15 251.64,26.33 262.55,24.23 268.05,31.18 277.13,32.61 285.25,35.05 288.53,43.56 285.86,55.54 286.17,66.13 284.95,76.87 286.65,88.02 285.01,98.38 283.82,108.47 278.63,112.04 271.75,114.21 264.78,115.91 260.9,122.54 253.99,124.61 247.49,127.39 241.21,131.63 232.47,124.95 224.17,121.32 215.77,118.09 207.47,114.53 197.95,112.35 192.67,106.11 181.88,104.47 181.53,96.2 182.72,87.38 184.84,78.85 180.49,70.69 184.85,62.96 181.36,53.71" fill="url(#m1)" opacity="0.9"/>
<polygon points="190.71,50.21 197.63,48.12 199.73,42.34 205.32,39.06 212.02,37.69 216.78,33.52 222.7,32.5 227.7,29.24 234.64,30.79 242,30.55 248.43,34.79 257.38,33.08 261.89,38.78 269.33,39.94 275.99,41.95 278.68,48.92 276.49,58.74 276.75,67.44 275.74,76.24 277.14,85.38 275.8,93.88 274.82,102.15 270.56,105.08 264.92,106.86 259.21,108.25 256.02,113.69 250.36,115.39 245.03,117.67 239.88,121.15 232.71,115.67 225.9,112.68 219.02,110.04 212.22,107.12 204.41,105.33 200.07,100.21 191.23,98.87 190.94,92.09 191.92,84.86 193.65,77.87 190.09,71.17 193.67,64.83 190.8,57.25" fill="#8c8a98" opacity="0.18"/>
<polygon points="190.71,50.21 197.63,48.12 199.73,42.34 205.32,39.06 212.02,37.69 216.78,33.52 222.7,32.5 227.7,29.24 234.64,30.79 242,30.55 248.43,34.79 257.38,33.08 261.89,38.78 269.33,39.94 275.99,41.95 278.68,48.92 276.49,58.74 276.75,67.44 275.74,76.24 277.14,85.38 275.8,93.88 274.82,102.15 270.56,105.08 264.92,106.86 259.21,108.25 256.02,113.69 250.36,115.39 245.03,117.67 239.88,121.15 232.71,115.67 225.9,112.68 219.02,110.04 212.22,107.12 204.41,105.33 200.07,100.21 191.23,98.87 190.94,92.09 191.92,84.86 193.65,77.87 190.09,71.17 193.67,64.83 190.8,57.25" fill="url(#m2)"/>
<polygon points="204.9,57.84 209.55,56.43 210.95,52.56 214.7,50.36 219.2,49.44 222.39,46.64 226.36,45.96 229.71,43.77 234.37,44.81 239.3,44.65 243.62,47.49 249.62,46.34 252.64,50.17 257.64,50.95 262.1,52.29 263.91,56.97 262.44,63.56 262.61,69.39 261.94,75.29 262.87,81.43 261.98,87.12 261.32,92.67 258.46,94.64 254.68,95.83 250.85,96.76 248.71,100.41 244.91,101.55 241.34,103.08 237.88,105.41 233.07,101.74 228.51,99.74 223.89,97.96 219.33,96 214.09,94.81 211.18,91.37 205.25,90.47 205.06,85.92 205.72,81.08 206.88,76.38 204.49,71.89 206.89,67.64 204.97,62.55" fill="url(#m3)" opacity="0.75"/>
<ellipse cx="233.82" cy="73.37" rx="40" ry="38" fill="url(#dk)"/>
<polygon points="181,45 226,17 288,33 286,110 241,130 181,105" fill="none" stroke="#a0abb2" stroke-width="0.5"/>
<circle cx="200.86" cy="108.98" r="1.3" fill="#f0e818"/>
<circle cx="258.79" cy="52.06" r="1.3" fill="#f0e818"/>
<circle cx="234.09" cy="70.74" r="1.3" fill="#f0e818"/>
<circle cx="248.46" cy="103.34" r="1.3" fill="#f0e818"/>
<line x1="282.53" y1="126.63" x2="282.53" y2="121.63" stroke="#20c020" stroke-width="1.0" />
<line x1="282.53" y1="126.63" x2="278.53" y2="127.63" stroke="#e020e0" stroke-width="1.0" />
<line x1="282.53" y1="126.63" x2="285.53" y2="127.63" stroke="#e8e8e8" stroke-width="1.0" />
<text x="298.8" y="24" font-size="9" fill="#111" font-weight="bold" text-anchor="start" font-family='"Liberation Sans", sans-serif' >c)</text>
<polygon points="299.65,41.52 299.62,38.32 304.53,38.24 304.27,34.52 307.37,33.21 310.98,32.48 312.46,29.75 315.25,28.28 322.22,30.28 325.32,27.09 330.02,25.89 335.25,25.77 339.56,22.86 344.88,23.02 350.11,24.58 356.27,25.83 362.25,26.69 369.66,22.73 375.89,23.77 382.09,24.51 387.87,25.66 394.48,25.6 395.5,28.43 399.13,28.56 399.55,31.74 404.12,31.3 406.46,32.84 408.95,34.26 408.95,37.29 408.05,46.87 409.5,55.4 411.83,64.23 410.84,73.7 412.49,83.29 410.68,92.16 410.71,101.34 411.14,105.33 404.68,105.27 402.55,107.72 402.11,111.57 399.89,114.17 396.56,115.7 394.72,118.68 388.15,118.91 382.86,120.95 377.29,123.1 370.84,123.64 364.3,123.37 358.05,123.16 351.95,127.06 346.16,123.02 340,123.29 333.44,123.88 327.83,121.9 322.82,119.46 315.53,120.45 310.11,118.88 306.82,118.45 306.29,115.28 304.88,113.05 300.8,112.94 301.22,109.35 300.07,107.07 295.28,107.03 295.12,97.38 299.8,86.41 300.52,77.38 295.51,68.18 295.4,58.47 298.43,50.01" fill="#8c8a98" opacity="0.22"/>
<polygon points="299.65,41.52 299.62,38.32 304.53,38.24 304.27,34.52 307.37,33.21 310.98,32.48 312.46,29.75 315.25,28.28 322.22,30.28 325.32,27.09 330.02,25.89 335.25,25.77 339.56,22.86 344.88,23.02 350.11,24.58 356.27,25.83 362.25,26.69 369.66,22.73 375.89,23.77 382.09,24.51 387.87,25.66 394.48,25.6 395.5,28.43 399.13,28.56 399.55,31.74 404.12,31.3 406.46,32.84 408.95,34.26 408.95,37.29 408.05,46.87 409.5,55.4 411.83,64.23 410.84,73.7 412.49,83.29 410.68,92.16 410.71,101.34 411.14,105.33 404.68,105.27 402.55,107.72 402.11,111.57 399.89,114.17 396.56,115.7 394.72,118.68 388.15,118.91 382.86,120.95 377.29,123.1 370.84,123.64 364.3,123.37 358.05,123.16 351.95,127.06 346.16,123.02 340,123.29 333.44,123.88 327.83,121.9 322.82,119.46 315.53,120.45 310.11,118.88 306.82,118.45 306.29,115.28 304.88,113.05 300.8,112.94 301.22,109.35 300.07,107.07 295.28,107.03 295.12,97.38 299.8,86.41 300.52,77.38 295.51,68.18 295.4,58.47 298.43,50.01" fill="url(#m1)" opacity="0.9"/>
<polygon points="309.3,47.11 309.27,44.49 313.3,44.42 313.09,41.37 315.63,40.3 318.59,39.71 319.8,37.46 322.09,36.26 327.81,37.9 330.35,35.28 334.2,34.3 338.49,34.2 342.03,31.81 346.39,31.94 350.68,33.23 355.73,34.25 360.63,34.96 366.7,31.71 371.81,32.56 376.9,33.17 381.64,34.11 387.06,34.06 387.9,36.38 390.88,36.49 391.22,39.1 394.97,38.74 396.88,40 398.93,41.17 398.93,43.65 398.19,51.5 399.37,58.49 401.28,65.74 400.47,73.5 401.82,81.36 400.35,88.64 400.37,96.17 400.72,99.44 395.42,99.39 393.67,101.4 393.31,104.56 391.49,106.69 388.77,107.94 387.25,110.39 381.87,110.58 377.53,112.25 372.96,114.01 367.68,114.45 362.32,114.24 357.19,114.06 352.18,117.26 347.44,113.94 342.38,114.17 337,114.65 332.41,113.03 328.29,111.02 322.32,111.84 317.87,110.55 315.18,110.2 314.75,107.6 313.58,105.77 310.25,105.68 310.59,102.74 309.64,100.86 305.72,100.83 305.59,92.92 309.42,83.92 310.01,76.52 305.91,68.98 305.81,61.02 308.3,54.08" fill="#8c8a98" opacity="0.18"/>
<polygon points="309.3,47.11 309.27,44.49 313.3,44.42 313.09,41.37 315.63,40.3 318.59,39.71 319.8,37.46 322.09,36.26 327.81,37.9 330.35,35.28 334.2,34.3 338.49,34.2 342.03,31.81 346.39,31.94 350.68,33.23 355.73,34.25 360.63,34.96 366.7,31.71 371.81,32.56 376.9,33.17 381.64,34.11 387.06,34.06 387.9,36.38 390.88,36.49 391.22,39.1 394.97,38.74 396.88,40 398.93,41.17 398.93,43.65 398.19,51.5 399.37,58.49 401.28,65.74 400.47,73.5 401.82,81.36 400.35,88.64 400.37,96.17 400.72,99.44 395.42,99.39 393.67,101.4 393.31,104.56 391.49,106.69 388.77,107.94 387.25,110.39 381.87,110.58 377.53,112.25 372.96,114.01 367.68,114.45 362.32,114.24 357.19,114.06 352.18,117.26 347.44,113.94 342.38,114.17 337,114.65 332.41,113.03 328.29,111.02 322.32,111.84 317.87,110.55 315.18,110.2 314.75,107.6 313.58,105.77 310.25,105.68 310.59,102.74 309.64,100.86 305.72,100.83 305.59,92.92 309.42,83.92 310.01,76.52 305.91,68.98 305.81,61.02 308.3,54.08" fill="url(#m2)"/>
<polygon points="323.77,55.51 323.76,53.75 326.46,53.7 326.31,51.66 328.02,50.94 330,50.54 330.82,49.04 332.35,48.23 336.19,49.33 337.89,47.57 340.47,46.91 343.35,46.85 345.72,45.25 348.65,45.33 351.52,46.19 354.91,46.88 358.2,47.35 362.28,45.18 365.7,45.74 369.11,46.16 372.3,46.78 375.93,46.75 376.49,48.31 378.49,48.38 378.72,50.13 381.23,49.89 382.52,50.73 383.89,51.52 383.89,53.18 383.39,58.45 384.19,63.14 385.47,68 384.92,73.21 385.83,78.48 384.84,83.36 384.85,88.41 385.09,90.6 381.54,90.57 380.37,91.92 380.12,94.04 378.9,95.47 377.07,96.31 376.06,97.95 372.45,98.07 369.54,99.2 366.47,100.38 362.93,100.68 359.33,100.53 355.89,100.41 352.53,102.56 349.35,100.33 345.96,100.48 342.36,100.81 339.27,99.72 336.51,98.37 332.51,98.92 329.52,98.06 327.72,97.82 327.43,96.08 326.65,94.85 324.41,94.79 324.64,92.82 324,91.56 321.37,91.54 321.28,86.23 323.86,80.2 324.25,75.23 321.5,70.17 321.43,64.83 323.1,60.18" fill="url(#m3)" opacity="0.75"/>
<ellipse cx="353.26" cy="72.61" rx="40" ry="38" fill="url(#dk)"/>
<polygon points="297,40 315,28 350,23 395,25 411,36 412,102 395,119 352,125 310,119 297,106" fill="none" stroke="#a0abb2" stroke-width="0.5"/>
<circle cx="400.03" cy="114.46" r="1.3" fill="#f0e818"/>
<circle cx="308.86" cy="38.23" r="1.3" fill="#f0e818"/>
<circle cx="387.81" cy="95.74" r="1.3" fill="#f0e818"/>
<circle cx="371.01" cy="57.95" r="1.3" fill="#f0e818"/>
<line x1="406.49" y1="122.06" x2="406.49" y2="117.06" stroke="#20c020" stroke-width="1.0" />
<line x1="406.49" y1="122.06" x2="402.49" y2="123.06" stroke="#e020e0" stroke-width="1.0" />
<line x1="406.49" y1="122.06" x2="409.49" y2="123.06" stroke="#e8e8e8" stroke-width="1.0" />
<text x="429" y="25" font-size="9" fill="#111" font-weight="bold" text-anchor="start" font-family='"Liberation Sans", sans-serif' >d)</text>
<polygon points="421.07,38.82 430.57,37.51 435.99,33.3 442.7,30.03 451.24,29.66 457.99,27.48 463.33,21.28 470.49,21.18 479.13,21.7 488.6,20.62 497.99,22.95 504.93,29.36 513.51,31.4 522.97,32.62 535.04,32.23 530.34,45.84 531.01,55.84 529.86,66.48 529.68,76.82 531.94,87.84 529.72,97.81 530.86,109.23 526.53,113.44 520.44,116.45 513.17,117.94 508.54,122.88 501.86,124.69 496.4,129.23 489.53,128.64 480.38,126.65 470.9,125.29 460.6,124.79 451.74,120.11 442.76,116.69 434.37,113.13 424.82,110.76 425.34,100.55 420.79,92.12 421.34,81.36 421.28,70.76 423.6,60.72 422.51,50.08" fill="#8c8a98" opacity="0.22"/>
<polygon points="421.07,38.82 430.57,37.51 435.99,33.3 442.7,30.03 451.24,29.66 457.99,27.48 463.33,21.28 470.49,21.18 479.13,21.7 488.6,20.62 497.99,22.95 504.93,29.36 513.51,31.4 522.97,32.62 535.04,32.23 530.34,45.84 531.01,55.84 529.86,66.48 529.68,76.82 531.94,87.84 529.72,97.81 530.86,109.23 526.53,113.44 520.44,116.45 513.17,117.94 508.54,122.88 501.86,124.69 496.4,129.23 489.53,128.64 480.38,126.65 470.9,125.29 460.6,124.79 451.74,120.11 442.76,116.69 434.37,113.13 424.82,110.76 425.34,100.55 420.79,92.12 421.34,81.36 421.28,70.76 423.6,60.72 422.51,50.08" fill="url(#m1)" opacity="0.9"/>
<polygon points="431.36,45.19 439.15,44.11 443.6,40.66 449.09,37.98 456.1,37.68 461.64,35.89 466.01,30.8 471.89,30.72 478.97,31.15 486.73,30.26 494.43,32.17 500.12,37.43 507.16,39.11 514.92,40.1 524.82,39.78 520.96,50.94 521.51,59.14 520.57,67.87 520.42,76.35 522.27,85.38 520.46,93.56 521.38,102.92 517.84,106.38 512.84,108.84 506.88,110.07 503.08,114.12 497.61,115.6 493.13,119.32 487.5,118.84 479.99,117.21 472.22,116.09 463.77,115.68 456.51,111.84 449.15,109.04 442.26,106.12 434.43,104.18 434.86,95.8 431.13,88.89 431.58,80.07 431.53,71.38 433.43,63.14 432.54,54.42" fill="#8c8a98" opacity="0.18"/>
<polygon points="431.36,45.19 439.15,44.11 443.6,40.66 449.09,37.98 456.1,37.68 461.64,35.89 466.01,30.8 471.89,30.72 478.97,31.15 486.73,30.26 494.43,32.17 500.12,37.43 507.16,39.11 514.92,40.1 524.82,39.78 520.96,50.94 521.51,59.14 520.57,67.87 520.42,76.35 522.27,85.38 520.46,93.56 521.38,102.92 517.84,106.38 512.84,108.84 506.88,110.07 503.08,114.12 497.61,115.6 493.13,119.32 487.5,118.84 479.99,117.21 472.22,116.09 463.77,115.68 456.51,111.84 449.15,109.04 442.26,106.12 434.43,104.18 434.86,95.8 431.13,88.89 431.58,80.07 431.53,71.38 433.43,63.14 432.54,54.42" fill="url(#m2)"/>
<polygon points="446.79,54.74 452.02,54.02 455,51.7 458.69,49.9 463.39,49.7 467.1,48.5 470.03,45.09 473.98,45.04 478.73,45.32 483.93,44.73 489.1,46.01 492.92,49.54 497.64,50.66 502.84,51.33 509.48,51.11 506.89,58.6 507.26,64.1 506.63,69.95 506.53,75.64 507.77,81.7 506.55,87.18 507.18,93.46 504.8,95.78 501.45,97.43 497.45,98.26 494.9,100.97 491.23,101.97 488.22,104.47 484.45,104.14 479.41,103.05 474.2,102.3 468.53,102.02 463.66,99.45 458.72,97.57 454.11,95.61 448.85,94.31 449.15,88.69 446.64,84.05 446.94,78.13 446.91,72.31 448.19,66.78 447.59,60.93" fill="url(#m3)" opacity="0.75"/>
<ellipse cx="478.23" cy="74.2" rx="40" ry="38" fill="url(#dk)"/>
<ellipse cx="468" cy="74" rx="13" ry="28" fill="url(#shd)"/>
<polygon points="423,40 470,18 534,33 532,110 490,131 423,112" fill="none" stroke="#a0abb2" stroke-width="0.5"/>
<circle cx="452.17" cy="79.02" r="1.3" fill="#f0e818"/>
<circle cx="465.14" cy="84.55" r="1.3" fill="#f0e818"/>
<circle cx="490.27" cy="34.69" r="1.3" fill="#f0e818"/>
<circle cx="430.09" cy="106.18" r="1.3" fill="#f0e818"/>
<line x1="529.04" y1="124.23" x2="529.04" y2="119.23" stroke="#20c020" stroke-width="1.0" />
<line x1="529.04" y1="124.23" x2="525.04" y2="125.23" stroke="#e020e0" stroke-width="1.0" />
<line x1="529.04" y1="124.23" x2="532.04" y2="125.23" stroke="#e8e8e8" stroke-width="1.0" />
<text x="83.5" y="241" font-size="9" fill="#111" font-weight="bold" text-anchor="start" font-family='"Liberation Sans", sans-serif' >e)</text>
<polygon points="84.15,257.91 91.15,254.93 98.35,252.25 106.94,251.5 112.75,248 117.9,242.77 124.21,239.04 131.74,240.82 140.63,241.93 150.43,239.29 158.59,246.04 169.38,244.83 177.65,248.45 188.53,248.91 199.23,250.11 197.61,261.99 196.3,273.2 195.66,283.85 197.41,294.43 197.31,305.29 195.88,315.59 196.14,326.46 190.12,329.37 182.45,330.81 175.89,332.95 171.09,337.55 163.41,337.54 158.37,343.12 152.21,347.11 142.59,345.16 133.54,339.36 124.19,338.31 113.3,339.07 106,333.94 93.68,334.71 88.22,329.43 84.77,321.35 89.55,309.24 85.73,300.18 84.85,289.82 86.48,279.68 85.95,269.27" fill="#8c8a98" opacity="0"/>
<polygon points="84.15,257.91 91.15,254.93 98.35,252.25 106.94,251.5 112.75,248 117.9,242.77 124.21,239.04 131.74,240.82 140.63,241.93 150.43,239.29 158.59,246.04 169.38,244.83 177.65,248.45 188.53,248.91 199.23,250.11 197.61,261.99 196.3,273.2 195.66,283.85 197.41,294.43 197.31,305.29 195.88,315.59 196.14,326.46 190.12,329.37 182.45,330.81 175.89,332.95 171.09,337.55 163.41,337.54 158.37,343.12 152.21,347.11 142.59,345.16 133.54,339.36 124.19,338.31 113.3,339.07 106,333.94 93.68,334.71 88.22,329.43 84.77,321.35 89.55,309.24 85.73,300.18 84.85,289.82 86.48,279.68 85.95,269.27" fill="url(#m1)" opacity="0.9"/>
<polygon points="94.46,264.01 100.2,261.56 106.11,259.37 113.15,258.75 117.92,255.88 122.13,251.6 127.31,248.54 133.49,250 140.78,250.91 148.81,248.74 155.5,254.28 164.35,253.29 171.13,256.26 180.05,256.63 188.83,257.61 187.5,267.35 186.42,276.55 185.9,285.28 187.33,293.95 187.25,302.86 186.08,311.31 186.3,320.22 181.36,322.6 175.06,323.79 169.69,325.54 165.75,329.32 159.46,329.31 155.33,333.88 150.27,337.16 142.39,335.55 134.97,330.8 127.29,329.94 118.37,330.56 112.37,326.36 102.28,326.98 97.8,322.66 94.97,316.03 98.89,306.1 95.76,298.67 95.03,290.17 96.38,281.86 95.94,273.32" fill="#8c8a98" opacity="0"/>
<polygon points="94.46,264.01 100.2,261.56 106.11,259.37 113.15,258.75 117.92,255.88 122.13,251.6 127.31,248.54 133.49,250 140.78,250.91 148.81,248.74 155.5,254.28 164.35,253.29 171.13,256.26 180.05,256.63 188.83,257.61 187.5,267.35 186.42,276.55 185.9,285.28 187.33,293.95 187.25,302.86 186.08,311.31 186.3,320.22 181.36,322.6 175.06,323.79 169.69,325.54 165.75,329.32 159.46,329.31 155.33,333.88 150.27,337.16 142.39,335.55 134.97,330.8 127.29,329.94 118.37,330.56 112.37,326.36 102.28,326.98 97.8,322.66 94.97,316.03 98.89,306.1 95.76,298.67 95.03,290.17 96.38,281.86 95.94,273.32" fill="url(#m2)"/>
<polygon points="109.93,273.16 113.78,271.52 117.74,270.05 122.47,269.63 125.66,267.71 128.49,264.84 131.96,262.78 136.11,263.76 140.99,264.37 146.38,262.92 150.87,266.63 156.81,265.97 161.35,267.96 167.34,268.21 173.22,268.87 172.33,275.4 171.61,281.57 171.26,287.43 172.22,293.24 172.17,299.22 171.38,304.88 171.53,310.86 168.21,312.46 163.99,313.25 160.39,314.43 157.75,316.96 153.52,316.96 150.75,320.03 147.36,322.22 142.07,321.15 137.1,317.96 131.95,317.38 125.96,317.8 121.94,314.98 115.17,315.4 112.17,312.5 110.27,308.05 112.9,301.39 110.8,296.41 110.31,290.71 111.21,285.13 110.92,279.41" fill="url(#m3)" opacity="0.75"/>
<ellipse cx="141.44" cy="291.8" rx="40" ry="38" fill="url(#dk)"/>
<ellipse cx="132" cy="292" rx="6" ry="42" fill="url(#shd)"/>
<polygon points="86,259 131,237 198,251 197,327 152,346 86,331" fill="none" stroke="#a0abb2" stroke-width="0.5"/>
<circle cx="115.54" cy="256.54" r="1.3" fill="#f0e818"/>
<circle cx="131.39" cy="261.31" r="1.3" fill="#f0e818"/>
<circle cx="98.74" cy="284.01" r="1.3" fill="#f0e818"/>
<circle cx="183.1" cy="320.74" r="1.3" fill="#f0e818"/>
<line x1="193.23" y1="342.11" x2="193.23" y2="337.11" stroke="#20c020" stroke-width="1.0" />
<line x1="193.23" y1="342.11" x2="189.23" y2="343.11" stroke="#e020e0" stroke-width="1.0" />
<line x1="193.23" y1="342.11" x2="196.23" y2="343.11" stroke="#e8e8e8" stroke-width="1.0" />
<text x="227" y="241" font-size="9" fill="#111" font-weight="bold" text-anchor="start" font-family='"Liberation Sans", sans-serif' >f)</text>
<polygon points="211.51,261.37 218.44,260.35 219.79,256.62 222.82,253.57 230.02,253.5 231.6,249.25 237.44,248.76 241.88,247.27 252.3,246.26 262.62,243.65 274.41,247.2 285.76,243.64 296.4,245.16 306.87,245.66 319.14,243.9 320.04,246.49 321.5,248.55 324.7,249.25 326.09,251.59 323.6,256.57 328.84,256.36 327.93,260.04 329.73,269.27 328.64,279.8 326.51,289.98 324.52,299.47 328.36,310.76 328.31,321.27 326,330 318.52,329.73 316.55,334.96 311.1,336.73 306.26,339.4 301.24,342.04 295.9,344.12 290.17,344.69 279.34,341.37 268.94,341.13 258.54,339.84 247.29,340.19 237.14,338.29 225.65,338.04 216.55,335.57 215.76,325.31 213.15,315.71 213.68,304.55 212.33,293.88 213.39,283.1 216.53,273.36" fill="#8c8a98" opacity="0"/>
<polygon points="211.51,261.37 218.44,260.35 219.79,256.62 222.82,253.57 230.02,253.5 231.6,249.25 237.44,248.76 241.88,247.27 252.3,246.26 262.62,243.65 274.41,247.2 285.76,243.64 296.4,245.16 306.87,245.66 319.14,243.9 320.04,246.49 321.5,248.55 324.7,249.25 326.09,251.59 323.6,256.57 328.84,256.36 327.93,260.04 329.73,269.27 328.64,279.8 326.51,289.98 324.52,299.47 328.36,310.76 328.31,321.27 326,330 318.52,329.73 316.55,334.96 311.1,336.73 306.26,339.4 301.24,342.04 295.9,344.12 290.17,344.69 279.34,341.37 268.94,341.13 258.54,339.84 247.29,340.19 237.14,338.29 225.65,338.04 216.55,335.57 215.76,325.31 213.15,315.71 213.68,304.55 212.33,293.88 213.39,283.1 216.53,273.36" fill="url(#m1)" opacity="0.9"/>
<polygon points="223.15,266.33 228.84,265.49 229.95,262.44 232.43,259.93 238.33,259.88 239.63,256.39 244.42,255.99 248.06,254.77 256.6,253.94 265.07,251.8 274.74,254.71 284.04,251.79 292.77,253.04 301.35,253.45 311.41,252 312.15,254.13 313.34,255.82 315.97,256.4 317.11,258.31 315.07,262.39 319.36,262.22 318.62,265.24 320.09,272.81 319.2,281.44 317.45,289.79 315.82,297.58 318.97,306.83 318.93,315.45 317.04,322.61 310.9,322.39 309.28,326.67 304.82,328.12 300.85,330.32 296.73,332.48 292.35,334.18 287.66,334.65 278.77,331.93 270.25,331.73 261.72,330.68 252.5,330.96 244.17,329.41 234.75,329.2 227.29,327.17 226.64,318.76 224.5,310.89 224.93,301.74 223.83,292.99 224.69,284.15 227.27,276.17" fill="#8c8a98" opacity="0"/>
<polygon points="223.15,266.33 228.84,265.49 229.95,262.44 232.43,259.93 238.33,259.88 239.63,256.39 244.42,255.99 248.06,254.77 256.6,253.94 265.07,251.8 274.74,254.71 284.04,251.79 292.77,253.04 301.35,253.45 311.41,252 312.15,254.13 313.34,255.82 315.97,256.4 317.11,258.31 315.07,262.39 319.36,262.22 318.62,265.24 320.09,272.81 319.2,281.44 317.45,289.79 315.82,297.58 318.97,306.83 318.93,315.45 317.04,322.61 310.9,322.39 309.28,326.67 304.82,328.12 300.85,330.32 296.73,332.48 292.35,334.18 287.66,334.65 278.77,331.93 270.25,331.73 261.72,330.68 252.5,330.96 244.17,329.41 234.75,329.2 227.29,327.17 226.64,318.76 224.5,310.89 224.93,301.74 223.83,292.99 224.69,284.15 227.27,276.17" fill="url(#m2)"/>
<polygon points="240.62,273.77 244.43,273.21 245.18,271.16 246.84,269.48 250.8,269.44 251.67,267.11 254.88,266.84 257.33,266.02 263.05,265.46 268.73,264.03 275.22,265.98 281.46,264.02 287.31,264.86 293.07,265.13 299.81,264.16 300.31,265.59 301.11,266.72 302.88,267.11 303.64,268.39 302.27,271.13 305.15,271.02 304.65,273.04 305.64,278.12 305.04,283.91 303.87,289.51 302.78,294.73 304.89,300.94 304.86,306.72 303.59,311.52 299.48,311.37 298.39,314.24 295.39,315.22 292.73,316.69 289.97,318.14 287.03,319.28 283.89,319.6 277.93,317.77 272.21,317.64 266.48,316.93 260.3,317.12 254.72,316.08 248.4,315.94 243.39,314.58 242.96,308.94 241.52,303.66 241.81,297.52 241.07,291.65 241.65,285.72 243.38,280.37" fill="url(#m3)" opacity="0.75"/>
<ellipse cx="276.2" cy="288.93" rx="40" ry="38" fill="url(#dk)"/>
<ellipse cx="260" cy="272" rx="11" ry="20" fill="url(#sh)"/>
<ellipse cx="258" cy="312" rx="7" ry="24" fill="url(#shd)"/>
<polygon points="213,262 240,245 320,243 328,260 326,330 290,344 216,336" fill="none" stroke="#a0abb2" stroke-width="0.5"/>
<circle cx="283.18" cy="314.73" r="1.3" fill="#f0e818"/>
<circle cx="300.79" cy="331.8" r="1.3" fill="#f0e818"/>
<circle cx="295.14" cy="330.08" r="1.3" fill="#f0e818"/>
<circle cx="222.47" cy="291.24" r="1.3" fill="#f0e818"/>
<line x1="323.73" y1="339.69" x2="323.73" y2="334.69" stroke="#20c020" stroke-width="1.0" />
<line x1="323.73" y1="339.69" x2="319.73" y2="340.69" stroke="#e020e0" stroke-width="1.0" />
<line x1="323.73" y1="339.69" x2="326.73" y2="340.69" stroke="#e8e8e8" stroke-width="1.0" />
<text x="351.5" y="242" font-size="9" fill="#111" font-weight="bold" text-anchor="start" font-family='"Liberation Sans", sans-serif' >g)</text>
<polygon points="347.51,257.76 351.03,255.28 360.42,256.39 360.09,251.22 365.34,249.75 373.42,251.3 374.68,245.97 379.34,244.06 391.19,247.67 399.48,243.13 410.02,247.1 419.76,246.66 430.08,245.55 440.24,245.51 450.53,245.43 450.41,249.84 453.32,251.17 453.55,254.79 456.17,256.44 459.27,257.89 458.93,261.44 462.42,262.79 464.87,271.34 460.6,281.82 461.92,291.09 459.19,300.01 463.24,310.85 459.42,318.54 459.79,328.22 456.56,332.53 449.23,333.12 443.73,335.62 437.95,337.91 431.68,339.24 425.64,340.77 419.49,341.03 410.03,339.77 400.53,339.07 390.9,338.31 381,337.76 368.92,339.61 361.9,335.32 352.49,334.05 351.67,323.69 352.35,312.52 347.87,302.86 346.76,291.52 347.68,280.16 346.28,268.51" fill="#8c8a98" opacity="0"/>
<polygon points="347.51,257.76 351.03,255.28 360.42,256.39 360.09,251.22 365.34,249.75 373.42,251.3 374.68,245.97 379.34,244.06 391.19,247.67 399.48,243.13 410.02,247.1 419.76,246.66 430.08,245.55 440.24,245.51 450.53,245.43 450.41,249.84 453.32,251.17 453.55,254.79 456.17,256.44 459.27,257.89 458.93,261.44 462.42,262.79 464.87,271.34 460.6,281.82 461.92,291.09 459.19,300.01 463.24,310.85 459.42,318.54 459.79,328.22 456.56,332.53 449.23,333.12 443.73,335.62 437.95,337.91 431.68,339.24 425.64,340.77 419.49,341.03 410.03,339.77 400.53,339.07 390.9,338.31 381,337.76 368.92,339.61 361.9,335.32 352.49,334.05 351.67,323.69 352.35,312.52 347.87,302.86 346.76,291.52 347.68,280.16 346.28,268.51" fill="url(#m1)" opacity="0.9"/>
<polygon points="358.79,263.28 361.68,261.24 369.37,262.16 369.1,257.91 373.41,256.71 380.04,257.98 381.07,253.61 384.89,252.04 394.61,255.01 401.4,251.28 410.05,254.54 418.04,254.18 426.49,253.26 434.83,253.24 443.27,253.17 443.17,256.78 445.56,257.87 445.74,260.84 447.89,262.19 450.44,263.38 450.16,266.3 453.02,267.4 455.03,274.42 451.52,283.01 452.61,290.61 450.37,297.92 453.69,306.81 450.56,313.11 450.86,321.06 448.21,324.59 442.2,325.07 437.69,327.13 432.95,329 427.81,330.09 422.86,331.35 417.82,331.56 410.06,330.52 402.27,329.95 394.37,329.33 386.26,328.88 376.35,330.39 370.59,326.88 362.88,325.84 362.21,317.34 362.76,308.18 359.08,300.26 358.17,290.96 358.93,281.65 357.78,272.1" fill="#8c8a98" opacity="0"/>
<polygon points="358.79,263.28 361.68,261.24 369.37,262.16 369.1,257.91 373.41,256.71 380.04,257.98 381.07,253.61 384.89,252.04 394.61,255.01 401.4,251.28 410.05,254.54 418.04,254.18 426.49,253.26 434.83,253.24 443.27,253.17 443.17,256.78 445.56,257.87 445.74,260.84 447.89,262.19 450.44,263.38 450.16,266.3 453.02,267.4 455.03,274.42 451.52,283.01 452.61,290.61 450.37,297.92 453.69,306.81 450.56,313.11 450.86,321.06 448.21,324.59 442.2,325.07 437.69,327.13 432.95,329 427.81,330.09 422.86,331.35 417.82,331.56 410.06,330.52 402.27,329.95 394.37,329.33 386.26,328.88 376.35,330.39 370.59,326.88 362.88,325.84 362.21,317.34 362.76,308.18 359.08,300.26 358.17,290.96 358.93,281.65 357.78,272.1" fill="url(#m2)"/>
<polygon points="375.71,271.55 377.65,270.19 382.81,270.8 382.63,267.96 385.52,267.15 389.96,268 390.66,265.07 393.22,264.02 399.74,266.01 404.29,263.51 410.09,265.69 415.45,265.45 421.12,264.84 426.71,264.82 432.37,264.77 432.31,267.2 433.91,267.93 434.03,269.92 435.48,270.83 437.18,271.63 436.99,273.58 438.91,274.32 440.26,279.03 437.91,284.79 438.64,289.88 437.14,294.79 439.36,300.75 437.26,304.98 437.47,310.31 435.69,312.68 431.66,313 428.64,314.38 425.45,315.64 422.01,316.37 418.69,317.21 415.3,317.35 410.1,316.66 404.87,316.28 399.58,315.86 394.13,315.56 387.49,316.57 383.63,314.21 378.45,313.52 378,307.82 378.37,301.67 375.91,296.36 375.3,290.12 375.81,283.88 375.04,277.47" fill="url(#m3)" opacity="0.75"/>
<ellipse cx="410.18" cy="288.42" rx="40" ry="38" fill="url(#dk)"/>
<ellipse cx="418" cy="295" rx="10" ry="32" fill="url(#shl)"/>
<polygon points="348,258 380,245 450,246 464,262 462,330 420,344 350,336" fill="none" stroke="#a0abb2" stroke-width="0.5"/>
<circle cx="435.67" cy="318.44" r="1.3" fill="#f0e818"/>
<circle cx="404.04" cy="272.56" r="1.3" fill="#f0e818"/>
<circle cx="354.33" cy="305.41" r="1.3" fill="#f0e818"/>
<circle cx="402.52" cy="313.35" r="1.3" fill="#f0e818"/>
<line x1="458.87" y1="336.03" x2="458.87" y2="331.03" stroke="#20c020" stroke-width="1.0" />
<line x1="458.87" y1="336.03" x2="454.87" y2="337.03" stroke="#e020e0" stroke-width="1.0" />
<line x1="458.87" y1="336.03" x2="461.87" y2="337.03" stroke="#e8e8e8" stroke-width="1.0" />
<polyline points="131,252 130,270 132,290 129,310 131,332" fill="none" stroke="#4a4a4a" stroke-width="0.9" stroke-linejoin="round" stroke-linecap="round" opacity="0.6"/>
<polyline points="256,256 254,275 257,295 255,318 257,338" fill="none" stroke="#4a4a4a" stroke-width="0.9" stroke-linejoin="round" stroke-linecap="round" opacity="0.6"/>
<text x="48.8" y="130" font-size="9" fill="#111" font-weight="bold" text-anchor="start" font-family='"Liberation Sans", sans-serif' >a')</text>
<line x1="52.3" y1="223.3" x2="53.8" y2="223.3" stroke="#333" stroke-width="0.5" />
<text x="49.7" y="224.5" font-size="3.4" fill="#222" font-weight="bold" text-anchor="end" font-family='"Liberation Sans", sans-serif' >0</text>
<line x1="52.3" y1="205.92" x2="53.8" y2="205.92" stroke="#333" stroke-width="0.5" />
<text x="49.7" y="207.12" font-size="3.4" fill="#222" font-weight="bold" text-anchor="end" font-family='"Liberation Sans", sans-serif' >2</text>
<line x1="52.3" y1="188.54" x2="53.8" y2="188.54" stroke="#333" stroke-width="0.5" />
<text x="49.7" y="189.74" font-size="3.4" fill="#222" font-weight="bold" text-anchor="end" font-family='"Liberation Sans", sans-serif' >4</text>
<line x1="52.3" y1="171.16" x2="53.8" y2="171.16" stroke="#333" stroke-width="0.5" />
<text x="49.7" y="172.36" font-size="3.4" fill="#222" font-weight="bold" text-anchor="end" font-family='"Liberation Sans", sans-serif' >6</text>
<line x1="52.3" y1="153.78" x2="53.8" y2="153.78" stroke="#333" stroke-width="0.5" />
<text x="49.7" y="154.98" font-size="3.4" fill="#222" font-weight="bold" text-anchor="end" font-family='"Liberation Sans", sans-serif' >8</text>
<line x1="52.3" y1="136.4" x2="53.8" y2="136.4" stroke="#333" stroke-width="0.5" />
<text x="49.7" y="137.6" font-size="3.4" fill="#222" font-weight="bold" text-anchor="end" font-family='"Liberation Sans", sans-serif' >10</text>
<line x1="52.3" y1="223.3" x2="52.3" y2="221.8" stroke="#333" stroke-width="0.5" />
<text x="52.3" y="228.2" font-size="3.4" fill="#222" font-weight="bold" text-anchor="middle" font-family='"Liberation Sans", sans-serif' >0</text>
<line x1="77.97" y1="223.3" x2="77.97" y2="221.8" stroke="#333" stroke-width="0.5" />
<text x="77.97" y="228.2" font-size="3.4" fill="#222" font-weight="bold" text-anchor="middle" font-family='"Liberation Sans", sans-serif' >5</text>
<line x1="103.65" y1="223.3" x2="103.65" y2="221.8" stroke="#333" stroke-width="0.5" />
<text x="103.65" y="228.2" font-size="3.4" fill="#222" font-weight="bold" text-anchor="middle" font-family='"Liberation Sans", sans-serif' >10</text>
<line x1="129.32" y1="223.3" x2="129.32" y2="221.8" stroke="#333" stroke-width="0.5" />
<text x="129.32" y="228.2" font-size="3.4" fill="#222" font-weight="bold" text-anchor="middle" font-family='"Liberation Sans", sans-serif' >15</text>
<line x1="155" y1="223.3" x2="155" y2="221.8" stroke="#333" stroke-width="0.5" />
<text x="155" y="228.2" font-size="3.4" fill="#222" font-weight="bold" text-anchor="middle" font-family='"Liberation Sans", sans-serif' >20</text>
<text x="107.15" y="232.2" font-size="4.5" fill="#222" font-weight="bold" text-anchor="middle" font-family='"Liberation Sans", sans-serif' textLength="20" lengthAdjust="spacingAndGlyphs" >Time (ps)</text>
<text transform="translate(44 181.55) rotate(-90)" font-size="4.9" fill="#222" font-weight="bold" text-anchor="middle" font-family='"Liberation Sans", sans-serif'>MSD (&#197;<tspan font-size="3.2" dy="-1.6">2</tspan><tspan dy="1.6">)</tspan></text>
<polyline points="52.4,209 155,144.5" fill="none" stroke="#ee3030" stroke-width="0.9" stroke-linejoin="round" stroke-linecap="round" stroke-dasharray="1.5 1"/>
<polyline points="52.4,215 52.4,214.56 52.37,213.96 52.35,213.25 52.36,212.48 52.44,211.71 52.6,211 52.84,210.34 53.14,209.7 53.5,209.06 53.93,208.41 54.42,207.72 55,207 55.65,206.23 56.36,205.43 57.15,204.6 58.01,203.75 58.96,202.88 60,202 61.11,201.09 62.3,200.13 63.56,199.16 64.93,198.2 66.4,197.27 68,196.4 69.79,195.61 71.78,194.89 73.88,194.2 76,193.51 78.07,192.79 80,192 81.78,191.16 83.48,190.29 85.12,189.39 86.74,188.44 88.36,187.45 90,186.4 91.67,185.25 93.33,184.01 95,182.73 96.67,181.43 98.33,180.17 100,179 101.67,177.93 103.33,176.93 105,175.97 106.67,175.02 108.33,174.04 110,173 111.71,171.84 113.48,170.57 115.25,169.28 116.96,168.04 118.56,166.92 120,166 121.23,165.32 122.3,164.83 123.25,164.47 124.15,164.17 125.05,163.86 126,163.5 126.98,163.12 127.93,162.8 128.88,162.47 129.85,162.09 130.88,161.62 132,161 133.19,160.2 134.44,159.26 135.75,158.22 137.11,157.13 138.53,156.04 140,155 141.6,154 143.35,153 145.16,151.99 146.93,150.99 148.57,149.99 150,149 151.24,147.94 152.37,146.81 153.38,145.68 154.24,144.63 154.95,143.74 155.5,143.1" fill="none" stroke="#1a1a1a" stroke-width="1.5" stroke-linejoin="round" stroke-linecap="round" />
<rect x="52.3" y="136.4" width="108.5" height="86.9" fill="none" stroke="#2a2a2a" stroke-width="0.9"/>
<circle cx="58.3" cy="142.6" r="0.9" fill="#1a1a1a"/>
<text x="65.5" y="144" font-size="4.2" fill="#111" font-weight="bold" text-anchor="start" font-family='"Liberation Sans", sans-serif' textLength="9" lengthAdjust="spacingAndGlyphs" >MSD</text>
<line x1="54.5" y1="148.2" x2="63.8" y2="148.2" stroke="#ee3030" stroke-width="0.7" stroke-dasharray="1.5 1"/>
<text x="65.5" y="149.7" font-size="4.2" fill="#ee3030" font-weight="bold" text-anchor="start" font-family='"Liberation Sans", sans-serif' textLength="21.5" lengthAdjust="spacingAndGlyphs" >MSD fitting</text>
<rect x="95.62" y="171.82" width="11" height="1.1" fill="#8a8a8a" transform="rotate(-32.16 101.12 172.37)"/>
<text x="179.5" y="130.5" font-size="9" fill="#111" font-weight="bold" text-anchor="start" font-family='"Liberation Sans", sans-serif' >b')</text>
<line x1="176.4" y1="222.7" x2="177.9" y2="222.7" stroke="#333" stroke-width="0.5" />
<text x="173.8" y="223.9" font-size="3.4" fill="#222" font-weight="bold" text-anchor="end" font-family='"Liberation Sans", sans-serif' >0</text>
<line x1="176.4" y1="207.35" x2="177.9" y2="207.35" stroke="#333" stroke-width="0.5" />
<text x="173.8" y="208.55" font-size="3.4" fill="#222" font-weight="bold" text-anchor="end" font-family='"Liberation Sans", sans-serif' >100</text>
<line x1="176.4" y1="192" x2="177.9" y2="192" stroke="#333" stroke-width="0.5" />
<text x="173.8" y="193.2" font-size="3.4" fill="#222" font-weight="bold" text-anchor="end" font-family='"Liberation Sans", sans-serif' >200</text>
<line x1="176.4" y1="176.65" x2="177.9" y2="176.65" stroke="#333" stroke-width="0.5" />
<text x="173.8" y="177.85" font-size="3.4" fill="#222" font-weight="bold" text-anchor="end" font-family='"Liberation Sans", sans-serif' >300</text>
<line x1="176.4" y1="161.3" x2="177.9" y2="161.3" stroke="#333" stroke-width="0.5" />
<text x="173.8" y="162.5" font-size="3.4" fill="#222" font-weight="bold" text-anchor="end" font-family='"Liberation Sans", sans-serif' >400</text>
<line x1="176.4" y1="145.95" x2="177.9" y2="145.95" stroke="#333" stroke-width="0.5" />
<text x="173.8" y="147.15" font-size="3.4" fill="#222" font-weight="bold" text-anchor="end" font-family='"Liberation Sans", sans-serif' >500</text>
<line x1="176.4" y1="222.7" x2="176.4" y2="221.2" stroke="#333" stroke-width="0.5" />
<text x="176.4" y="227.6" font-size="3.4" fill="#222" font-weight="bold" text-anchor="middle" font-family='"Liberation Sans", sans-serif' >0</text>
<line x1="202.07" y1="222.7" x2="202.07" y2="221.2" stroke="#333" stroke-width="0.5" />
<text x="202.07" y="227.6" font-size="3.4" fill="#222" font-weight="bold" text-anchor="middle" font-family='"Liberation Sans", sans-serif' >5</text>
<line x1="227.75" y1="222.7" x2="227.75" y2="221.2" stroke="#333" stroke-width="0.5" />
<text x="227.75" y="227.6" font-size="3.4" fill="#222" font-weight="bold" text-anchor="middle" font-family='"Liberation Sans", sans-serif' >10</text>
<line x1="253.43" y1="222.7" x2="253.43" y2="221.2" stroke="#333" stroke-width="0.5" />
<text x="253.43" y="227.6" font-size="3.4" fill="#222" font-weight="bold" text-anchor="middle" font-family='"Liberation Sans", sans-serif' >15</text>
<line x1="279.1" y1="222.7" x2="279.1" y2="221.2" stroke="#333" stroke-width="0.5" />
<text x="279.1" y="227.6" font-size="3.4" fill="#222" font-weight="bold" text-anchor="middle" font-family='"Liberation Sans", sans-serif' >20</text>
<text x="231.25" y="231.6" font-size="4.5" fill="#222" font-weight="bold" text-anchor="middle" font-family='"Liberation Sans", sans-serif' textLength="20" lengthAdjust="spacingAndGlyphs" >Time (ps)</text>
<text transform="translate(168.1 180.95) rotate(-90)" font-size="4.9" fill="#222" font-weight="bold" text-anchor="middle" font-family='"Liberation Sans", sans-serif'>MSD (&#197;<tspan font-size="3.2" dy="-1.6">2</tspan><tspan dy="1.6">)</tspan></text>
<polyline points="176.6,222.7 279.1,137.5" fill="none" stroke="#b9a3ea" stroke-width="0.9" stroke-linejoin="round" stroke-linecap="round" stroke-dasharray="1.5 1"/>
<polyline points="176.6,222.7 176.62,222.71 176.51,222.83 176.46,222.91 176.6,222.83 177.09,222.44 178.1,221.6 179.79,220.16 182.07,218.21 184.71,215.94 187.47,213.58 190.11,211.33 192.4,209.4 194.3,207.82 196,206.44 197.58,205.17 199.13,203.93 200.74,202.63 202.5,201.2 204.48,199.59 206.63,197.87 208.84,196.09 211,194.32 213.03,192.64 214.8,191.1 216.31,189.71 217.63,188.41 218.8,187.19 219.87,186.04 220.89,184.94 221.9,183.9 222.85,182.92 223.71,182 224.51,181.15 225.3,180.34 226.12,179.56 227,178.8 227.91,178.09 228.81,177.46 229.73,176.86 230.73,176.25 231.83,175.58 233.1,174.8 234.56,173.94 236.2,173.04 237.94,172.07 239.75,171.04 241.55,169.92 243.3,168.7 245,167.33 246.7,165.83 248.41,164.23 250.11,162.61 251.81,161.01 253.5,159.5 255.19,158.07 256.87,156.69 258.55,155.33 260.23,153.99 261.91,152.65 263.6,151.3 265.35,149.92 267.17,148.52 269,147.12 270.76,145.75 272.38,144.43 273.8,143.2 275.03,142 276.13,140.79 277.09,139.64 277.91,138.61 278.58,137.74 279.1,137.1" fill="none" stroke="#2e8dc0" stroke-width="1.8" stroke-linejoin="round" stroke-linecap="round" />
<rect x="176.4" y="135.8" width="108.1" height="86.9" fill="none" stroke="#2a2a2a" stroke-width="0.9"/>
<circle cx="182.4" cy="142" r="0.9" fill="#2e8dc0"/>
<text x="189.6" y="143.4" font-size="4.2" fill="#2e8dc0" font-weight="bold" text-anchor="start" font-family='"Liberation Sans", sans-serif' textLength="9" lengthAdjust="spacingAndGlyphs" >MSD</text>
<line x1="178.6" y1="147.6" x2="187.9" y2="147.6" stroke="#b9a3ea" stroke-width="0.7" stroke-dasharray="1.5 1"/>
<text x="189.6" y="149.1" font-size="4.2" fill="#b9a3ea" font-weight="bold" text-anchor="start" font-family='"Liberation Sans", sans-serif' textLength="21.5" lengthAdjust="spacingAndGlyphs" >MSD fitting</text>
<rect x="219.55" y="175.88" width="11" height="1.1" fill="#8a8a8a" transform="rotate(-39.73 225.05 176.43)"/>
<text x="298.8" y="130.5" font-size="9" fill="#111" font-weight="bold" text-anchor="start" font-family='"Liberation Sans", sans-serif' >c')</text>
<line x1="301.4" y1="221.2" x2="302.9" y2="221.2" stroke="#333" stroke-width="0.5" />
<text x="298.8" y="222.4" font-size="3.4" fill="#222" font-weight="bold" text-anchor="end" font-family='"Liberation Sans", sans-serif' >0</text>
<line x1="301.4" y1="211.04" x2="302.9" y2="211.04" stroke="#333" stroke-width="0.5" />
<text x="298.8" y="212.24" font-size="3.4" fill="#222" font-weight="bold" text-anchor="end" font-family='"Liberation Sans", sans-serif' >50</text>
<line x1="301.4" y1="200.88" x2="302.9" y2="200.88" stroke="#333" stroke-width="0.5" />
<text x="298.8" y="202.08" font-size="3.4" fill="#222" font-weight="bold" text-anchor="end" font-family='"Liberation Sans", sans-serif' >100</text>
<line x1="301.4" y1="190.72" x2="302.9" y2="190.72" stroke="#333" stroke-width="0.5" />
<text x="298.8" y="191.92" font-size="3.4" fill="#222" font-weight="bold" text-anchor="end" font-family='"Liberation Sans", sans-serif' >150</text>
<line x1="301.4" y1="180.56" x2="302.9" y2="180.56" stroke="#333" stroke-width="0.5" />
<text x="298.8" y="181.76" font-size="3.4" fill="#222" font-weight="bold" text-anchor="end" font-family='"Liberation Sans", sans-serif' >200</text>
<line x1="301.4" y1="170.4" x2="302.9" y2="170.4" stroke="#333" stroke-width="0.5" />
<text x="298.8" y="171.6" font-size="3.4" fill="#222" font-weight="bold" text-anchor="end" font-family='"Liberation Sans", sans-serif' >250</text>
<line x1="301.4" y1="160.24" x2="302.9" y2="160.24" stroke="#333" stroke-width="0.5" />
<text x="298.8" y="161.44" font-size="3.4" fill="#222" font-weight="bold" text-anchor="end" font-family='"Liberation Sans", sans-serif' >300</text>
<line x1="301.4" y1="150.08" x2="302.9" y2="150.08" stroke="#333" stroke-width="0.5" />
<text x="298.8" y="151.28" font-size="3.4" fill="#222" font-weight="bold" text-anchor="end" font-family='"Liberation Sans", sans-serif' >350</text>
<line x1="301.4" y1="139.92" x2="302.9" y2="139.92" stroke="#333" stroke-width="0.5" />
<text x="298.8" y="141.12" font-size="3.4" fill="#222" font-weight="bold" text-anchor="end" font-family='"Liberation Sans", sans-serif' >400</text>
<line x1="301.4" y1="221.2" x2="301.4" y2="219.7" stroke="#333" stroke-width="0.5" />
<text x="301.4" y="226.1" font-size="3.4" fill="#222" font-weight="bold" text-anchor="middle" font-family='"Liberation Sans", sans-serif' >0</text>
<line x1="326.97" y1="221.2" x2="326.97" y2="219.7" stroke="#333" stroke-width="0.5" />
<text x="326.97" y="226.1" font-size="3.4" fill="#222" font-weight="bold" text-anchor="middle" font-family='"Liberation Sans", sans-serif' >5</text>
<line x1="352.55" y1="221.2" x2="352.55" y2="219.7" stroke="#333" stroke-width="0.5" />
<text x="352.55" y="226.1" font-size="3.4" fill="#222" font-weight="bold" text-anchor="middle" font-family='"Liberation Sans", sans-serif' >10</text>
<line x1="378.12" y1="221.2" x2="378.12" y2="219.7" stroke="#333" stroke-width="0.5" />
<text x="378.12" y="226.1" font-size="3.4" fill="#222" font-weight="bold" text-anchor="middle" font-family='"Liberation Sans", sans-serif' >15</text>
<line x1="403.7" y1="221.2" x2="403.7" y2="219.7" stroke="#333" stroke-width="0.5" />
<text x="403.7" y="226.1" font-size="3.4" fill="#222" font-weight="bold" text-anchor="middle" font-family='"Liberation Sans", sans-serif' >20</text>
<text x="356.05" y="230.1" font-size="4.5" fill="#222" font-weight="bold" text-anchor="middle" font-family='"Liberation Sans", sans-serif' textLength="20" lengthAdjust="spacingAndGlyphs" >Time (ps)</text>
<text transform="translate(293.1 180.05) rotate(-90)" font-size="4.9" fill="#222" font-weight="bold" text-anchor="middle" font-family='"Liberation Sans", sans-serif'>MSD (&#197;<tspan font-size="3.2" dy="-1.6">2</tspan><tspan dy="1.6">)</tspan></text>
<polyline points="301.4,221.2 403.8,137.8" fill="none" stroke="#d9a060" stroke-width="0.9" stroke-linejoin="round" stroke-linecap="round" stroke-dasharray="1.5 1"/>
<polyline points="301.4,221.2 303.12,219.66 305.55,217.47 308.4,214.91 311.4,212.24 314.26,209.71 316.7,207.6 318.72,205.93 320.53,204.51 322.21,203.24 323.81,202.02 325.42,200.77 327.1,199.4 328.83,197.89 330.57,196.31 332.31,194.71 334.04,193.1 335.77,191.52 337.5,190 339.22,188.54 340.94,187.11 342.65,185.71 344.36,184.34 346.08,183.01 347.8,181.7 349.53,180.42 351.26,179.18 353,177.97 354.74,176.79 356.47,175.63 358.2,174.5 359.92,173.45 361.64,172.48 363.35,171.54 365.06,170.57 366.78,169.51 368.5,168.3 370.23,166.92 371.96,165.4 373.69,163.79 375.43,162.14 377.17,160.5 378.9,158.9 380.59,157.38 382.21,155.91 383.84,154.44 385.53,152.93 387.33,151.33 389.3,149.6 391.65,147.57 394.37,145.24 397.2,142.82 399.89,140.53 402.18,138.58 403.8,137.2" fill="none" stroke="#5cbf4a" stroke-width="1.8" stroke-linejoin="round" stroke-linecap="round" />
<rect x="301.4" y="135.5" width="107.4" height="85.7" fill="none" stroke="#2a2a2a" stroke-width="0.9"/>
<circle cx="307.4" cy="141.7" r="0.9" fill="#5cbf4a"/>
<text x="314.6" y="143.1" font-size="4.2" fill="#5cbf4a" font-weight="bold" text-anchor="start" font-family='"Liberation Sans", sans-serif' textLength="9" lengthAdjust="spacingAndGlyphs" >MSD</text>
<line x1="303.6" y1="147.3" x2="312.9" y2="147.3" stroke="#d9a060" stroke-width="0.7" stroke-dasharray="1.5 1"/>
<text x="314.6" y="148.8" font-size="4.2" fill="#d9a060" font-weight="bold" text-anchor="start" font-family='"Liberation Sans", sans-serif' textLength="21.5" lengthAdjust="spacingAndGlyphs" >MSD fitting</text>
<rect x="344.23" y="175.29" width="11" height="1.1" fill="#8a8a8a" transform="rotate(-39.16 349.73 175.84)"/>
<text x="428.5" y="131" font-size="9" fill="#111" font-weight="bold" text-anchor="start" font-family='"Liberation Sans", sans-serif' >d')</text>
<line x1="426.4" y1="222.8" x2="427.9" y2="222.8" stroke="#333" stroke-width="0.5" />
<text x="423.8" y="224" font-size="3.4" fill="#222" font-weight="bold" text-anchor="end" font-family='"Liberation Sans", sans-serif' >0</text>
<line x1="426.4" y1="202.2" x2="427.9" y2="202.2" stroke="#333" stroke-width="0.5" />
<text x="423.8" y="203.4" font-size="3.4" fill="#222" font-weight="bold" text-anchor="end" font-family='"Liberation Sans", sans-serif' >100</text>
<line x1="426.4" y1="181.6" x2="427.9" y2="181.6" stroke="#333" stroke-width="0.5" />
<text x="423.8" y="182.8" font-size="3.4" fill="#222" font-weight="bold" text-anchor="end" font-family='"Liberation Sans", sans-serif' >200</text>
<line x1="426.4" y1="161" x2="427.9" y2="161" stroke="#333" stroke-width="0.5" />
<text x="423.8" y="162.2" font-size="3.4" fill="#222" font-weight="bold" text-anchor="end" font-family='"Liberation Sans", sans-serif' >300</text>
<line x1="426.4" y1="140.4" x2="427.9" y2="140.4" stroke="#333" stroke-width="0.5" />
<text x="423.8" y="141.6" font-size="3.4" fill="#222" font-weight="bold" text-anchor="end" font-family='"Liberation Sans", sans-serif' >400</text>
<line x1="426.4" y1="222.8" x2="426.4" y2="221.3" stroke="#333" stroke-width="0.5" />
<text x="426.4" y="227.7" font-size="3.4" fill="#222" font-weight="bold" text-anchor="middle" font-family='"Liberation Sans", sans-serif' >0</text>
<line x1="452.6" y1="222.8" x2="452.6" y2="221.3" stroke="#333" stroke-width="0.5" />
<text x="452.6" y="227.7" font-size="3.4" fill="#222" font-weight="bold" text-anchor="middle" font-family='"Liberation Sans", sans-serif' >5</text>
<line x1="478.8" y1="222.8" x2="478.8" y2="221.3" stroke="#333" stroke-width="0.5" />
<text x="478.8" y="227.7" font-size="3.4" fill="#222" font-weight="bold" text-anchor="middle" font-family='"Liberation Sans", sans-serif' >10</text>
<line x1="505" y1="222.8" x2="505" y2="221.3" stroke="#333" stroke-width="0.5" />
<text x="505" y="227.7" font-size="3.4" fill="#222" font-weight="bold" text-anchor="middle" font-family='"Liberation Sans", sans-serif' >15</text>
<line x1="531.2" y1="222.8" x2="531.2" y2="221.3" stroke="#333" stroke-width="0.5" />
<text x="531.2" y="227.7" font-size="3.4" fill="#222" font-weight="bold" text-anchor="middle" font-family='"Liberation Sans", sans-serif' >20</text>
<text x="482.3" y="231.7" font-size="4.5" fill="#222" font-weight="bold" text-anchor="middle" font-family='"Liberation Sans", sans-serif' textLength="20" lengthAdjust="spacingAndGlyphs" >Time (ps)</text>
<text transform="translate(418.1 180.9) rotate(-90)" font-size="4.9" fill="#222" font-weight="bold" text-anchor="middle" font-family='"Liberation Sans", sans-serif'>MSD (&#197;<tspan font-size="3.2" dy="-1.6">2</tspan><tspan dy="1.6">)</tspan></text>
<polyline points="426.4,222.8 531.4,139" fill="none" stroke="#2aa0a8" stroke-width="0.9" stroke-linejoin="round" stroke-linecap="round" stroke-dasharray="1.5 1"/>
<polyline points="426.4,222.8 428.29,221.24 430.96,219.01 434.09,216.41 437.37,213.71 440.48,211.18 443.1,209.1 445.21,207.54 447.06,206.28 448.73,205.2 450.32,204.16 451.92,203.04 453.6,201.7 455.36,200.09 457.13,198.31 458.9,196.45 460.67,194.59 462.44,192.81 464.2,191.2 465.95,189.77 467.7,188.46 469.45,187.24 471.2,186.07 472.95,184.93 474.7,183.8 476.46,182.7 478.23,181.66 480,180.65 481.77,179.64 483.54,178.6 485.3,177.5 487.05,176.34 488.8,175.16 490.55,173.94 492.3,172.69 494.05,171.41 495.8,170.1 497.56,168.75 499.33,167.34 501.1,165.91 502.87,164.47 504.64,163.02 506.4,161.6 508.11,160.27 509.76,159.04 511.41,157.81 513.11,156.49 514.92,154.98 516.9,153.2 519.25,150.91 521.97,148.13 524.81,145.17 527.49,142.33 529.78,139.91 531.4,138.2" fill="none" stroke="#d9a060" stroke-width="1.8" stroke-linejoin="round" stroke-linecap="round" />
<rect x="426.4" y="135.6" width="110.1" height="87.2" fill="none" stroke="#2a2a2a" stroke-width="0.9"/>
<circle cx="432.4" cy="141.8" r="0.9" fill="#d9a060"/>
<text x="439.6" y="143.2" font-size="4.2" fill="#d9a060" font-weight="bold" text-anchor="start" font-family='"Liberation Sans", sans-serif' textLength="9" lengthAdjust="spacingAndGlyphs" >MSD</text>
<line x1="428.6" y1="147.4" x2="437.9" y2="147.4" stroke="#2aa0a8" stroke-width="0.7" stroke-dasharray="1.5 1"/>
<text x="439.6" y="148.9" font-size="4.2" fill="#2aa0a8" font-weight="bold" text-anchor="start" font-family='"Liberation Sans", sans-serif' textLength="21.5" lengthAdjust="spacingAndGlyphs" >MSD fitting</text>
<rect x="470.44" y="176.71" width="11" height="1.1" fill="#8a8a8a" transform="rotate(-38.59 475.94 177.26)"/>
<text x="83" y="347.5" font-size="9" fill="#111" font-weight="bold" text-anchor="start" font-family='"Liberation Sans", sans-serif' >e')</text>
<line x1="90.3" y1="440.4" x2="91.8" y2="440.4" stroke="#333" stroke-width="0.5" />
<text x="87.7" y="441.6" font-size="3.4" fill="#222" font-weight="bold" text-anchor="end" font-family='"Liberation Sans", sans-serif' >0</text>
<line x1="90.3" y1="427" x2="91.8" y2="427" stroke="#333" stroke-width="0.5" />
<text x="87.7" y="428.2" font-size="3.4" fill="#222" font-weight="bold" text-anchor="end" font-family='"Liberation Sans", sans-serif' >50</text>
<line x1="90.3" y1="413.6" x2="91.8" y2="413.6" stroke="#333" stroke-width="0.5" />
<text x="87.7" y="414.8" font-size="3.4" fill="#222" font-weight="bold" text-anchor="end" font-family='"Liberation Sans", sans-serif' >100</text>
<line x1="90.3" y1="400.2" x2="91.8" y2="400.2" stroke="#333" stroke-width="0.5" />
<text x="87.7" y="401.4" font-size="3.4" fill="#222" font-weight="bold" text-anchor="end" font-family='"Liberation Sans", sans-serif' >150</text>
<line x1="90.3" y1="386.8" x2="91.8" y2="386.8" stroke="#333" stroke-width="0.5" />
<text x="87.7" y="388" font-size="3.4" fill="#222" font-weight="bold" text-anchor="end" font-family='"Liberation Sans", sans-serif' >200</text>
<line x1="90.3" y1="373.4" x2="91.8" y2="373.4" stroke="#333" stroke-width="0.5" />
<text x="87.7" y="374.6" font-size="3.4" fill="#222" font-weight="bold" text-anchor="end" font-family='"Liberation Sans", sans-serif' >250</text>
<line x1="90.3" y1="360" x2="91.8" y2="360" stroke="#333" stroke-width="0.5" />
<text x="87.7" y="361.2" font-size="3.4" fill="#222" font-weight="bold" text-anchor="end" font-family='"Liberation Sans", sans-serif' >300</text>
<line x1="90.3" y1="440.4" x2="90.3" y2="438.9" stroke="#333" stroke-width="0.5" />
<text x="90.3" y="445.3" font-size="3.4" fill="#222" font-weight="bold" text-anchor="middle" font-family='"Liberation Sans", sans-serif' >0</text>
<line x1="116.6" y1="440.4" x2="116.6" y2="438.9" stroke="#333" stroke-width="0.5" />
<text x="116.6" y="445.3" font-size="3.4" fill="#222" font-weight="bold" text-anchor="middle" font-family='"Liberation Sans", sans-serif' >5</text>
<line x1="142.9" y1="440.4" x2="142.9" y2="438.9" stroke="#333" stroke-width="0.5" />
<text x="142.9" y="445.3" font-size="3.4" fill="#222" font-weight="bold" text-anchor="middle" font-family='"Liberation Sans", sans-serif' >10</text>
<line x1="169.2" y1="440.4" x2="169.2" y2="438.9" stroke="#333" stroke-width="0.5" />
<text x="169.2" y="445.3" font-size="3.4" fill="#222" font-weight="bold" text-anchor="middle" font-family='"Liberation Sans", sans-serif' >15</text>
<line x1="195.5" y1="440.4" x2="195.5" y2="438.9" stroke="#333" stroke-width="0.5" />
<text x="195.5" y="445.3" font-size="3.4" fill="#222" font-weight="bold" text-anchor="middle" font-family='"Liberation Sans", sans-serif' >20</text>
<text x="146.4" y="449.3" font-size="4.5" fill="#222" font-weight="bold" text-anchor="middle" font-family='"Liberation Sans", sans-serif' textLength="20" lengthAdjust="spacingAndGlyphs" >Time (ps)</text>
<text transform="translate(82 397.85) rotate(-90)" font-size="4.9" fill="#222" font-weight="bold" text-anchor="middle" font-family='"Liberation Sans", sans-serif'>MSD (&#197;<tspan font-size="3.2" dy="-1.6">2</tspan><tspan dy="1.6">)</tspan></text>
<polyline points="90.3,440.3 195.4,356.5" fill="none" stroke="#f06070" stroke-width="0.9" stroke-linejoin="round" stroke-linecap="round" stroke-dasharray="1.5 1"/>
<polyline points="90.3,440.3 92.25,438.35 95,435.6 98.23,432.37 101.61,428.99 104.81,425.79 107.5,423.1 109.66,420.89 111.55,418.9 113.26,417.08 114.87,415.41 116.49,413.87 118.2,412.4 119.98,411.09 121.77,409.96 123.55,408.95 125.33,407.99 127.12,406.99 128.9,405.9 130.68,404.72 132.46,403.51 134.24,402.28 136.03,401.02 137.81,399.73 139.6,398.4 141.4,397.04 143.2,395.65 145,394.23 146.8,392.78 148.6,391.3 150.4,389.8 152.19,388.23 153.97,386.6 155.76,384.93 157.54,383.28 159.32,381.69 161.1,380.2 162.88,378.8 164.67,377.47 166.45,376.19 168.23,374.97 170.02,373.8 171.8,372.7 173.56,371.75 175.29,370.98 177.01,370.27 178.77,369.5 180.59,368.55 182.5,367.3 184.67,365.57 187.11,363.4 189.62,361.06 191.97,358.8 193.97,356.86 195.4,355.5" fill="none" stroke="#1e9e9e" stroke-width="1.8" stroke-linejoin="round" stroke-linecap="round" />
<rect x="90.3" y="351.9" width="110.6" height="88.5" fill="none" stroke="#2a2a2a" stroke-width="0.9"/>
<circle cx="96.3" cy="358.1" r="0.9" fill="#1e9e9e"/>
<text x="103.5" y="359.5" font-size="4.2" fill="#1e9e9e" font-weight="bold" text-anchor="start" font-family='"Liberation Sans", sans-serif' textLength="9" lengthAdjust="spacingAndGlyphs" >MSD</text>
<line x1="92.5" y1="363.7" x2="101.8" y2="363.7" stroke="#f06070" stroke-width="0.7" stroke-dasharray="1.5 1"/>
<text x="103.5" y="365.2" font-size="4.2" fill="#f06070" font-weight="bold" text-anchor="start" font-family='"Liberation Sans", sans-serif' textLength="21.5" lengthAdjust="spacingAndGlyphs" >MSD fitting</text>
<rect x="134.57" y="394.07" width="11" height="1.1" fill="#8a8a8a" transform="rotate(-38.57 140.07 394.62)"/>
<text x="227" y="347.5" font-size="9" fill="#111" font-weight="bold" text-anchor="start" font-family='"Liberation Sans", sans-serif' >f')</text>
<line x1="219.5" y1="440.4" x2="221" y2="440.4" stroke="#333" stroke-width="0.5" />
<text x="216.9" y="441.6" font-size="3.4" fill="#222" font-weight="bold" text-anchor="end" font-family='"Liberation Sans", sans-serif' >0</text>
<line x1="219.5" y1="426.9" x2="221" y2="426.9" stroke="#333" stroke-width="0.5" />
<text x="216.9" y="428.1" font-size="3.4" fill="#222" font-weight="bold" text-anchor="end" font-family='"Liberation Sans", sans-serif' >50</text>
<line x1="219.5" y1="413.4" x2="221" y2="413.4" stroke="#333" stroke-width="0.5" />
<text x="216.9" y="414.6" font-size="3.4" fill="#222" font-weight="bold" text-anchor="end" font-family='"Liberation Sans", sans-serif' >100</text>
<line x1="219.5" y1="399.9" x2="221" y2="399.9" stroke="#333" stroke-width="0.5" />
<text x="216.9" y="401.1" font-size="3.4" fill="#222" font-weight="bold" text-anchor="end" font-family='"Liberation Sans", sans-serif' >150</text>
<line x1="219.5" y1="386.4" x2="221" y2="386.4" stroke="#333" stroke-width="0.5" />
<text x="216.9" y="387.6" font-size="3.4" fill="#222" font-weight="bold" text-anchor="end" font-family='"Liberation Sans", sans-serif' >200</text>
<line x1="219.5" y1="372.9" x2="221" y2="372.9" stroke="#333" stroke-width="0.5" />
<text x="216.9" y="374.1" font-size="3.4" fill="#222" font-weight="bold" text-anchor="end" font-family='"Liberation Sans", sans-serif' >250</text>
<line x1="219.5" y1="359.4" x2="221" y2="359.4" stroke="#333" stroke-width="0.5" />
<text x="216.9" y="360.6" font-size="3.4" fill="#222" font-weight="bold" text-anchor="end" font-family='"Liberation Sans", sans-serif' >300</text>
<line x1="219.5" y1="440.4" x2="219.5" y2="438.9" stroke="#333" stroke-width="0.5" />
<text x="219.5" y="445.3" font-size="3.4" fill="#222" font-weight="bold" text-anchor="middle" font-family='"Liberation Sans", sans-serif' >0</text>
<line x1="245.43" y1="440.4" x2="245.43" y2="438.9" stroke="#333" stroke-width="0.5" />
<text x="245.43" y="445.3" font-size="3.4" fill="#222" font-weight="bold" text-anchor="middle" font-family='"Liberation Sans", sans-serif' >5</text>
<line x1="271.35" y1="440.4" x2="271.35" y2="438.9" stroke="#333" stroke-width="0.5" />
<text x="271.35" y="445.3" font-size="3.4" fill="#222" font-weight="bold" text-anchor="middle" font-family='"Liberation Sans", sans-serif' >10</text>
<line x1="297.27" y1="440.4" x2="297.27" y2="438.9" stroke="#333" stroke-width="0.5" />
<text x="297.27" y="445.3" font-size="3.4" fill="#222" font-weight="bold" text-anchor="middle" font-family='"Liberation Sans", sans-serif' >15</text>
<line x1="323.2" y1="440.4" x2="323.2" y2="438.9" stroke="#333" stroke-width="0.5" />
<text x="323.2" y="445.3" font-size="3.4" fill="#222" font-weight="bold" text-anchor="middle" font-family='"Liberation Sans", sans-serif' >20</text>
<text x="274.85" y="449.3" font-size="4.5" fill="#222" font-weight="bold" text-anchor="middle" font-family='"Liberation Sans", sans-serif' textLength="20" lengthAdjust="spacingAndGlyphs" >Time (ps)</text>
<text transform="translate(211.2 397.9) rotate(-90)" font-size="4.9" fill="#222" font-weight="bold" text-anchor="middle" font-family='"Liberation Sans", sans-serif'>MSD (&#197;<tspan font-size="3.2" dy="-1.6">2</tspan><tspan dy="1.6">)</tspan></text>
<polyline points="224.7,440.3 322.3,367.3" fill="none" stroke="#2080c0" stroke-width="0.9" stroke-linejoin="round" stroke-linecap="round" stroke-dasharray="2 1 0.6 1"/>
<polyline points="219.5,440.4 220.29,439.67 221.37,438.64 222.66,437.43 224.07,436.15 225.51,434.9 226.9,433.8 228.24,432.84 229.6,431.93 230.99,431.05 232.43,430.2 233.93,429.35 235.5,428.5 237.16,427.66 238.91,426.84 240.72,426.03 242.56,425.21 244.39,424.38 246.2,423.5 247.98,422.56 249.77,421.57 251.55,420.56 253.33,419.55 255.12,418.59 256.9,417.7 258.73,416.9 260.62,416.16 262.51,415.46 264.34,414.78 266.06,414.1 267.6,413.4 268.9,412.73 270,412.12 270.98,411.51 271.93,410.84 272.94,410.06 274.1,409.1 275.41,407.91 276.81,406.54 278.28,405.05 279.76,403.51 281.25,402.01 282.7,400.6 284.12,399.32 285.54,398.11 286.95,396.93 288.36,395.73 289.78,394.47 291.2,393.1 292.63,391.63 294.06,390.11 295.49,388.52 296.93,386.87 298.37,385.16 299.8,383.4 301.23,381.52 302.67,379.5 304.1,377.43 305.53,375.37 306.97,373.41 308.4,371.6 309.86,369.95 311.36,368.4 312.86,366.94 314.33,365.56 315.72,364.25 317,363 318.22,361.78 319.41,360.59 320.54,359.46 321.54,358.46 322.38,357.62 323,357" fill="none" stroke="#f0602a" stroke-width="1.8" stroke-linejoin="round" stroke-linecap="round" />
<rect x="219.5" y="352" width="109" height="88.4" fill="none" stroke="#2a2a2a" stroke-width="0.9"/>
<circle cx="225.5" cy="358.2" r="0.9" fill="#f0602a"/>
<text x="232.7" y="359.6" font-size="4.2" fill="#f0602a" font-weight="bold" text-anchor="start" font-family='"Liberation Sans", sans-serif' textLength="9" lengthAdjust="spacingAndGlyphs" >MSD</text>
<line x1="221.7" y1="363.8" x2="231" y2="363.8" stroke="#2080c0" stroke-width="0.7" stroke-dasharray="2 1 0.6 1"/>
<text x="232.7" y="365.3" font-size="4.2" fill="#2080c0" font-weight="bold" text-anchor="start" font-family='"Liberation Sans", sans-serif' textLength="21.5" lengthAdjust="spacingAndGlyphs" >MSD fitting</text>
<rect x="263.05" y="400.95" width="11" height="1.1" fill="#8a8a8a" transform="rotate(-36.79 268.55 401.5)"/>
<text x="351.5" y="347.5" font-size="9" fill="#111" font-weight="bold" text-anchor="start" font-family='"Liberation Sans", sans-serif' >g')</text>
<line x1="349.4" y1="440.3" x2="350.9" y2="440.3" stroke="#333" stroke-width="0.5" />
<text x="346.8" y="441.5" font-size="3.4" fill="#222" font-weight="bold" text-anchor="end" font-family='"Liberation Sans", sans-serif' >0</text>
<line x1="349.4" y1="420.8" x2="350.9" y2="420.8" stroke="#333" stroke-width="0.5" />
<text x="346.8" y="422" font-size="3.4" fill="#222" font-weight="bold" text-anchor="end" font-family='"Liberation Sans", sans-serif' >50</text>
<line x1="349.4" y1="401.3" x2="350.9" y2="401.3" stroke="#333" stroke-width="0.5" />
<text x="346.8" y="402.5" font-size="3.4" fill="#222" font-weight="bold" text-anchor="end" font-family='"Liberation Sans", sans-serif' >100</text>
<line x1="349.4" y1="381.8" x2="350.9" y2="381.8" stroke="#333" stroke-width="0.5" />
<text x="346.8" y="383" font-size="3.4" fill="#222" font-weight="bold" text-anchor="end" font-family='"Liberation Sans", sans-serif' >150</text>
<line x1="349.4" y1="362.3" x2="350.9" y2="362.3" stroke="#333" stroke-width="0.5" />
<text x="346.8" y="363.5" font-size="3.4" fill="#222" font-weight="bold" text-anchor="end" font-family='"Liberation Sans", sans-serif' >200</text>
<line x1="349.4" y1="440.3" x2="349.4" y2="438.8" stroke="#333" stroke-width="0.5" />
<text x="349.4" y="445.2" font-size="3.4" fill="#222" font-weight="bold" text-anchor="middle" font-family='"Liberation Sans", sans-serif' >0</text>
<line x1="375.38" y1="440.3" x2="375.38" y2="438.8" stroke="#333" stroke-width="0.5" />
<text x="375.38" y="445.2" font-size="3.4" fill="#222" font-weight="bold" text-anchor="middle" font-family='"Liberation Sans", sans-serif' >5</text>
<line x1="401.35" y1="440.3" x2="401.35" y2="438.8" stroke="#333" stroke-width="0.5" />
<text x="401.35" y="445.2" font-size="3.4" fill="#222" font-weight="bold" text-anchor="middle" font-family='"Liberation Sans", sans-serif' >10</text>
<line x1="427.32" y1="440.3" x2="427.32" y2="438.8" stroke="#333" stroke-width="0.5" />
<text x="427.32" y="445.2" font-size="3.4" fill="#222" font-weight="bold" text-anchor="middle" font-family='"Liberation Sans", sans-serif' >15</text>
<line x1="453.3" y1="440.3" x2="453.3" y2="438.8" stroke="#333" stroke-width="0.5" />
<text x="453.3" y="445.2" font-size="3.4" fill="#222" font-weight="bold" text-anchor="middle" font-family='"Liberation Sans", sans-serif' >20</text>
<text x="404.85" y="449.2" font-size="4.5" fill="#222" font-weight="bold" text-anchor="middle" font-family='"Liberation Sans", sans-serif' textLength="20" lengthAdjust="spacingAndGlyphs" >Time (ps)</text>
<text transform="translate(341.1 397.85) rotate(-90)" font-size="4.9" fill="#222" font-weight="bold" text-anchor="middle" font-family='"Liberation Sans", sans-serif'>MSD (&#197;<tspan font-size="3.2" dy="-1.6">2</tspan><tspan dy="1.6">)</tspan></text>
<polyline points="349.4,427.8 456,354.5" fill="none" stroke="#444" stroke-width="0.9" stroke-linejoin="round" stroke-linecap="round" stroke-dasharray="2 1 0.6 1"/>
<polyline points="349.4,440.3 350.23,438.99 351.39,437.16 352.75,435.01 354.2,432.71 355.63,430.48 356.9,428.5 358.03,426.72 359.11,424.99 360.17,423.31 361.21,421.71 362.25,420.2 363.3,418.8 364.37,417.53 365.43,416.39 366.49,415.33 367.56,414.34 368.63,413.37 369.7,412.4 370.73,411.47 371.7,410.6 372.68,409.77 373.72,408.92 374.87,408.01 376.2,407 377.74,405.87 379.46,404.66 381.29,403.38 383.18,402.08 385.07,400.77 386.9,399.5 388.68,398.25 390.46,397 392.24,395.75 394.03,394.5 395.81,393.25 397.6,392 399.4,390.73 401.2,389.42 403,388.12 404.8,386.84 406.6,385.63 408.4,384.5 410.19,383.48 411.97,382.54 413.76,381.67 415.54,380.82 417.32,379.98 419.1,379.1 420.88,378.2 422.67,377.3 424.45,376.39 426.23,375.49 428.02,374.59 429.8,373.7 431.56,372.86 433.29,372.07 435.01,371.29 436.77,370.45 438.59,369.51 440.5,368.4 442.67,366.99 445.11,365.28 447.62,363.47 449.97,361.73 451.97,360.25 453.4,359.2" fill="none" stroke="#a070e0" stroke-width="1.8" stroke-linejoin="round" stroke-linecap="round" />
<rect x="349.4" y="352" width="109.2" height="88.3" fill="none" stroke="#2a2a2a" stroke-width="0.9"/>
<circle cx="355.4" cy="358.2" r="0.9" fill="#a070e0"/>
<text x="362.6" y="359.6" font-size="4.2" fill="#a070e0" font-weight="bold" text-anchor="start" font-family='"Liberation Sans", sans-serif' textLength="9" lengthAdjust="spacingAndGlyphs" >MSD</text>
<line x1="351.6" y1="363.8" x2="360.9" y2="363.8" stroke="#444" stroke-width="0.7" stroke-dasharray="2 1 0.6 1"/>
<text x="362.6" y="365.3" font-size="4.2" fill="#333" font-weight="bold" text-anchor="start" font-family='"Liberation Sans", sans-serif' textLength="21.5" lengthAdjust="spacingAndGlyphs" >MSD fitting</text>
<rect x="393.04" y="387.46" width="11" height="1.1" fill="#8a8a8a" transform="rotate(-34.51 398.54 388.01)"/>
<circle cx="78" cy="455.8" r="2.0" fill="#f2ec10" stroke="#a89a00" stroke-width="0.35"/>
<circle cx="75.8" cy="460.2" r="2.2" fill="#f2ec10" stroke="#a89a00" stroke-width="0.35"/>
<circle cx="76.6" cy="463.8" r="2.0" fill="#f2ec10" stroke="#a89a00" stroke-width="0.35"/>
<circle cx="77.3" cy="455.3" r="0.6" fill="#333"/><circle cx="75.3" cy="460" r="0.6" fill="#333"/>
<rect x="83" y="458.3" width="7.4" height="1.6" fill="#f08020"/><rect x="83" y="460.8" width="7.4" height="1.6" fill="#f08020"/>
<text x="94" y="463.1" font-size="7.9" fill="#f08020" font-weight="bold" text-anchor="start" font-family='"Liberation Sans", sans-serif' textLength="54.5" lengthAdjust="spacingAndGlyphs" >Water molecule</text>
<rect x="246" y="462.6" width="7.4" height="1.6" fill="#1f80d0"/><rect x="246" y="465.1" width="7.4" height="1.6" fill="#1f80d0"/>
<text x="260" y="467" font-size="7.9" fill="#1f80d0" font-weight="bold" text-anchor="start" font-family='"Liberation Sans", sans-serif' textLength="37.4" lengthAdjust="spacingAndGlyphs" >Polyamide</text>
<rect x="353.8" y="461.8" width="8" height="1.6" fill="#20c050"/><rect x="353.8" y="464.3" width="8" height="1.6" fill="#20c050"/>
<text x="364.5" y="466.5" font-size="7.9" fill="#20c050" font-weight="bold" text-anchor="start" font-family='"Liberation Sans", sans-serif' textLength="142" lengthAdjust="spacingAndGlyphs" >2D-MOF nanosheet with different layers</text>
<polyline points="207,453.3 210,460.5 216.2,456 225.3,455.1 228,463.3 236.2,463.3" fill="none" stroke="#a8a8a8" stroke-width="0.8" stroke-linejoin="round" stroke-linecap="round" />
<polyline points="228,463.3 225,468 222.5,472.4" fill="none" stroke="#a8a8a8" stroke-width="0.8" stroke-linejoin="round" stroke-linecap="round" />
<polyline points="225.3,455.1 229,451.5 231,450.5" fill="none" stroke="#a8a8a8" stroke-width="0.8" stroke-linejoin="round" stroke-linecap="round" />
<polyline points="209.5,453.3 208.25,455.47 205.75,455.47 204.5,453.3 205.75,451.13 208.25,451.13 209.5,453.3" fill="none" stroke="#a0a0a0" stroke-width="0.8" stroke-linejoin="round" stroke-linecap="round" />
<polyline points="212.5,460.5 211.25,462.67 208.75,462.67 207.5,460.5 208.75,458.33 211.25,458.33 212.5,460.5" fill="none" stroke="#a0a0a0" stroke-width="0.8" stroke-linejoin="round" stroke-linecap="round" />
<polyline points="227.8,455.1 226.55,457.27 224.05,457.27 222.8,455.1 224.05,452.93 226.55,452.93 227.8,455.1" fill="none" stroke="#a0a0a0" stroke-width="0.8" stroke-linejoin="round" stroke-linecap="round" />
<polyline points="230.5,463.3 229.25,465.47 226.75,465.47 225.5,463.3 226.75,461.13 229.25,461.13 230.5,463.3" fill="none" stroke="#a0a0a0" stroke-width="0.8" stroke-linejoin="round" stroke-linecap="round" />
<polyline points="238.7,463.3 237.45,465.47 234.95,465.47 233.7,463.3 234.95,461.13 237.45,461.13 238.7,463.3" fill="none" stroke="#a0a0a0" stroke-width="0.8" stroke-linejoin="round" stroke-linecap="round" />
<polyline points="225,472.4 223.75,474.57 221.25,474.57 220,472.4 221.25,470.23 223.75,470.23 225,472.4" fill="none" stroke="#a0a0a0" stroke-width="0.8" stroke-linejoin="round" stroke-linecap="round" />
<circle cx="204.5" cy="450.5" r="1.0" fill="#6070c0"/>
<circle cx="213.5" cy="458.5" r="1.0" fill="#e07070"/>
<circle cx="207.5" cy="463.5" r="1.0" fill="#e07070"/>
<circle cx="214.5" cy="462" r="1.0" fill="#e07070"/>
<circle cx="219" cy="456.5" r="1.0" fill="#6070c0"/>
<circle cx="226" cy="451.5" r="1.0" fill="#e07070"/>
<circle cx="229.5" cy="452" r="1.0" fill="#e07070"/>
<circle cx="226.5" cy="458.5" r="1.0" fill="#6070c0"/>
<circle cx="223" cy="461" r="1.0" fill="#e07070"/>
<circle cx="231" cy="469.5" r="1.0" fill="#e07070"/>
<circle cx="237" cy="457.5" r="1.0" fill="#6070c0"/>
<circle cx="233" cy="465" r="1.0" fill="#6070c0"/>
<circle cx="224.5" cy="468.5" r="1.0" fill="#6070c0"/>
<circle cx="218.5" cy="472.5" r="1.0" fill="#6070c0"/>
<circle cx="221" cy="476.5" r="1.0" fill="#a0a0a0"/>
<polygon points="339,452 350,457.5 350,471 339,476.5 328,471 328,457.5" fill="#eef3fa" stroke="#c8ccd6" stroke-width="0.5"/>
<polygon points="330,461.0 340,457.0 347,460.0 337,464.5" fill="#9a9a9a" stroke="#777" stroke-width="0.3"/>
<polygon points="332,463.2 342,459.2 349,462.2 339,466.7" fill="#9a9a9a" stroke="#777" stroke-width="0.3"/>
<polygon points="334,465.4 344,461.4 351,464.4 341,468.9" fill="#9a9a9a" stroke="#777" stroke-width="0.3"/>
<circle cx="345" cy="466" r="1.1" fill="#3040c0"/><circle cx="342" cy="469" r="1" fill="#3040c0"/>
<text x="20.5" y="497.5" font-size="10.5" fill="#111" font-weight="bold" text-anchor="start" font-family='"Liberation Serif", serif' textLength="13.1" lengthAdjust="spacingAndGlyphs" >(b)</text>
<text x="100.5" y="501.8" font-size="11" fill="#111" font-weight="bold" text-anchor="start" font-family='"Liberation Serif", serif' textLength="18.6" lengthAdjust="spacingAndGlyphs" >(a1)</text>
<text x="274" y="501.8" font-size="11" fill="#111" font-weight="bold" text-anchor="start" font-family='"Liberation Serif", serif' textLength="18.6" lengthAdjust="spacingAndGlyphs" >(b1)</text>
<text x="463.5" y="501.8" font-size="11" fill="#111" font-weight="bold" text-anchor="start" font-family='"Liberation Serif", serif' textLength="18.2" lengthAdjust="spacingAndGlyphs" >(c1)</text>
<clipPath id="ca1"><rect x="41.5" y="506.2" width="136.7" height="109.6"/></clipPath>
<g clip-path="url(#ca1)">
<polyline points="41.5,572.29 41.73,569.7 41.95,585.86 42.18,595.34 42.41,598.73 42.63,584.55 42.86,596.79 43.09,601.3 43.31,580.95 43.54,581.27 43.77,575.79 43.99,593.04 44.22,581.46 44.45,581.88 44.67,598.94 44.9,573.76 45.13,576 45.35,550.55 45.58,576.7 45.81,580.56 46.03,563.53 46.26,575.74 46.49,566.81 46.71,581.96 46.94,574.58 47.17,564.52 47.39,568.23 47.62,574.84 47.85,589.26 48.07,570.49 48.3,574.72 48.53,566.68 48.75,572.57 48.98,561.78 49.21,575.38 49.43,572.1 49.66,566.27 49.89,587.34 50.11,578.85 50.34,579.86 50.57,549.61 50.79,574.58 51.02,565.39 51.25,565.63 51.47,576.39 51.7,591.65 51.93,561 52.15,577.5 52.38,563.72 52.61,588.13 52.83,577.49 53.06,556.82 53.29,554.59 53.51,587.62 53.74,587.88 53.97,572.15 54.19,562.68 54.42,569.47 54.65,567.64 54.87,583.22 55.1,564.02 55.33,557.51 55.55,576.25 55.78,588.27 56.01,580.01 56.23,561.5 56.46,591.68 56.69,571.71 56.91,582.54 57.14,572.05 57.37,573.36 57.59,570.14 57.82,552.07 58.05,565.11 58.27,553.99 58.5,571.82 58.73,575.87 58.95,565.41 59.18,604.34 59.41,570.39 59.63,567.92 59.86,584.79 60.09,564.14 60.31,576.51 60.54,599.51 60.77,572.24 60.99,581.48 61.22,575.89 61.45,571.39 61.67,554.34 61.9,568.23 62.13,569.79 62.35,564.7 62.58,591.36 62.81,554.32 63.03,582.39 63.26,563.98 63.49,582.94 63.71,581.09 63.94,574.03 64.17,546.22 64.39,560.72 64.62,576.49 64.85,572.59 65.07,583.08 65.3,569.51 65.53,576.03 65.75,560.31 65.98,585.5 66.21,573.08 66.43,579.22 66.66,577.71 66.89,560.35 67.11,567.43 67.34,561.85 67.57,554.51 67.79,554.98 68.02,585.54 68.25,562.38 68.47,590.24 68.7,569.64 68.93,545.59 69.15,571.19 69.38,573.31 69.61,566.76 69.83,568.6 70.06,568.48 70.29,577.98 70.51,555.67 70.74,558 70.97,571.34 71.19,564.94 71.42,560.77 71.65,556.23 71.87,563.97 72.1,560.3 72.33,571.91 72.55,581.68 72.78,574.71 73.01,556.34 73.23,556.84 73.46,566.92 73.69,575.56 73.91,564.95 74.14,548.5 74.37,552.24 74.59,576.95 74.82,569.18 75.05,586.25 75.27,582.42 75.5,566.36 75.73,568.34 75.95,556.94 76.18,553.26 76.41,558.5 76.63,552.62 76.86,575.25 77.09,582.3 77.31,562.54 77.54,536.13 77.77,564.28 77.99,582.57 78.22,565.66 78.45,551.31 78.67,581.14 78.9,558.85 79.13,576 79.35,553.15 79.58,559.06 79.81,564.9 80.03,544.33 80.26,573.54 80.49,576.89 80.71,546.08 80.94,579.2 81.17,541.91 81.39,569.05 81.62,581.14 81.85,568.59 82.07,566.98 82.3,566.12 82.53,570.89 82.75,555.45 82.98,596.68 83.21,575.28 83.43,571.73 83.66,546.49 83.89,592.71 84.11,572.67 84.34,582.41 84.57,576.61 84.79,560.78 85.02,563.56 85.25,551.08 85.47,575.81 85.7,565.28 85.93,554.31 86.15,557.59 86.38,572.61 86.61,554.86 86.83,579.74 87.06,546.67 87.29,566.66 87.51,569.9 87.74,565.25 87.97,558.24 88.19,547.42 88.42,570.25 88.65,572.99 88.87,561.42 89.1,579.1 89.33,589.1 89.55,558.39 89.78,573.13 90.01,554.87 90.23,580.98 90.46,603.64 90.69,565.1 90.91,566.65 91.14,549.12 91.37,562.15 91.59,564.77 91.82,561.41 92.05,572.98 92.27,567.58 92.5,584.91 92.73,562.23 92.95,578.29 93.18,573.93 93.41,560.04 93.63,557.42 93.86,580.73 94.09,544.22 94.31,575.69 94.54,558.4 94.77,556.99 94.99,565.8 95.22,566.43 95.45,546.73 95.67,557.73 95.9,563.12 96.13,590.64 96.35,577.58 96.58,554.42 96.81,566.17 97.03,580.1 97.26,576.31 97.49,572.23 97.71,560.2 97.94,563.82 98.17,556.42 98.39,578.42 98.62,556.56 98.85,574.6 99.07,572.14 99.3,547.5 99.53,567.62 99.75,570.21 99.98,571.07 100.21,573.18 100.43,549.61 100.66,551.82 100.89,559.82 101.11,566.28 101.34,555.87 101.57,569.46 101.79,563.03 102.02,563.64 102.25,567.44 102.47,548.53 102.7,547.23 102.93,552.47 103.15,591.71 103.38,546.25 103.61,560 103.83,573.98 104.06,568.81 104.29,554.71 104.51,554.27 104.74,558.15 104.97,566.81 105.19,568.08 105.42,558.43 105.65,569.62 105.87,579.4 106.1,576.07 106.33,570.21 106.55,564.48 106.78,541.07 107.01,585.12 107.23,562.73 107.46,569.63 107.69,564.87 107.91,552.1 108.14,553.46 108.37,570.42 108.59,575.27 108.82,585.04 109.05,569.38 109.27,553.39 109.5,571.73 109.73,559.98 109.95,559.93 110.18,563.7 110.41,555.37 110.63,569.89 110.86,578.57 111.09,582.73 111.31,557.27 111.54,572.9 111.77,572.28 111.99,558.4 112.22,578.08 112.45,547.05 112.67,560.44 112.9,574.9 113.13,576.2 113.35,555.4 113.58,582.87 113.81,576.29 114.03,568.44 114.26,566.05 114.49,568.33 114.71,563.82 114.94,572.92 115.17,569.98 115.39,553.17 115.62,560.68 115.85,573.97 116.07,547.72 116.3,592.65 116.53,567.49 116.75,560.41 116.98,556.72 117.21,567.16 117.43,573.18 117.66,561.41 117.89,570.86 118.11,562.76 118.34,603.15 118.57,563.89 118.79,578.1 119.02,557.1 119.25,559.45 119.47,559.68 119.7,573.42 119.93,563.25 120.15,572.66 120.38,565.91 120.61,570.16 120.83,579.08 121.06,544.54 121.29,559.74 121.51,593.45 121.74,557.68 121.97,585.42 122.19,571.33 122.42,575.57 122.65,574.99 122.87,565.59 123.1,572.46 123.33,586.08 123.55,568.58 123.78,564.09 124.01,547.06 124.23,573.54 124.46,582.93 124.69,573.12 124.91,560.59 125.14,579.23 125.37,577.26 125.59,561.79 125.82,568.65 126.05,565.82 126.27,576.14 126.5,578.53 126.73,572.44 126.95,570.38 127.18,572.57 127.41,563.28 127.63,561.88 127.86,561.87 128.09,562.7 128.31,579.25 128.54,582.09 128.77,558.79 128.99,568.36 129.22,567.03 129.45,582.58 129.67,571.08 129.9,576.24 130.13,578.99 130.35,576.15 130.58,586.63 130.81,567.48 131.03,554.38 131.26,577.09 131.49,567.36 131.71,581.75 131.94,560.37 132.17,545.92 132.39,583.47 132.62,571.27 132.85,551.25 133.07,564.05 133.3,567.12 133.53,593.29 133.75,570.34 133.98,557.38 134.21,551.1 134.43,560.74 134.66,575.54 134.89,576.84 135.11,590.57 135.34,581.55 135.57,554.9 135.79,569.9 136.02,584.75 136.25,552.52 136.47,588.79 136.7,553.23 136.93,572.43 137.15,564.4 137.38,560.27 137.61,565.33 137.83,553.09 138.06,568.32 138.29,572.48 138.51,576.54 138.74,586.03 138.97,576.94 139.19,556.6 139.42,558.5 139.65,551.64 139.87,535.44 140.1,559.86 140.33,562.44 140.55,584.46 140.78,571.46 141.01,541.89 141.23,562.09 141.46,570.19 141.69,564.76 141.91,591.5 142.14,578.63 142.37,584.39 142.59,594.44 142.82,559.19 143.05,556.8 143.27,570.65 143.5,564.31 143.73,580.73 143.95,563.02 144.18,559.26 144.41,549.9 144.63,549.59 144.86,562.6 145.09,570.05 145.31,578.53 145.54,575.86 145.77,561.03 145.99,561.66 146.22,568.29 146.45,548.34 146.67,560.65 146.9,568.31 147.13,570.83 147.35,567.57 147.58,580.02 147.81,580.39 148.03,564.3 148.26,575.6 148.49,571.8 148.71,553.71 148.94,570.85 149.17,552.59 149.39,568.61 149.62,550.12 149.85,562.88 150.07,589.83 150.3,553.5 150.53,571.02 150.75,592.33 150.98,567.14 151.21,566.63 151.43,584.16 151.66,575.88 151.89,561.88 152.11,551.39 152.34,554.68 152.57,553.69 152.79,554.92 153.02,598.64 153.25,577.32 153.47,566.24 153.7,601.11 153.93,559.17 154.15,557.7 154.38,577.91 154.61,573.12 154.83,579.9 155.06,568.73 155.29,569 155.51,568.6 155.74,580.9 155.97,563.81 156.19,572.65 156.42,556.99 156.65,564.72 156.87,586.51 157.1,586.01 157.33,567.67 157.55,574.4 157.78,562.82 158.01,558.74 158.23,568.27 158.46,588.95 158.69,583 158.91,561.57 159.14,581.25 159.37,555.07 159.59,569.61 159.82,562.21 160.05,579.23 160.27,569.72 160.5,604.42 160.73,571.04 160.95,561.55 161.18,579.39 161.41,578.73 161.63,569.16 161.86,567.73 162.09,578.31 162.31,560.32 162.54,588.47 162.77,555 162.99,585.53 163.22,578.49 163.45,552.36 163.67,580.57 163.9,588.56 164.13,567.59 164.35,579.66 164.58,582.05 164.81,577.02 165.03,577.53 165.26,580.33 165.49,580.99 165.71,548.97 165.94,576.66 166.17,556.73 166.39,585.55 166.62,561.91 166.85,583.68 167.07,574.07 167.3,560.8 167.53,574.95 167.75,592.34 167.98,575.21 168.21,570.42 168.43,561.56 168.66,580.62 168.89,572.13 169.11,567.75 169.34,588.51 169.57,569.81 169.79,578.55 170.02,563.2 170.25,569.85 170.47,570.53 170.7,597.79 170.93,569.83 171.15,573.01 171.38,579.96 171.61,574.7 171.83,583.84 172.06,566.4 172.29,560.51 172.51,561.27 172.74,574.81 172.97,548.14 173.19,558.15 173.42,580.01 173.65,570.2 173.87,588.27 174.1,569.94 174.33,559.87 174.55,553.13 174.78,573.58 175.01,590.2 175.23,570.57 175.46,552.01 175.69,566.77 175.91,553.05 176.14,558.48 176.37,549.6 176.59,561.25 176.82,576.57 177.05,563.11 177.27,537.75 177.5,574.79" fill="none" stroke="#c4e2f4" stroke-width="0.3" stroke-linejoin="round" stroke-linecap="round" opacity="0.6"/>
<polyline points="41.5,554.71 41.73,589.87 41.95,575.85 42.18,577.71 42.41,568.24 42.63,594.29 42.86,581.28 43.09,584.35 43.31,587.29 43.54,583.55 43.77,578.62 43.99,575 44.22,581.66 44.45,564.73 44.67,575.68 44.9,607.05 45.13,553.09 45.35,571.55 45.58,575.12 45.81,562.17 46.03,561.99 46.26,563.5 46.49,573.89 46.71,560.61 46.94,581.01 47.17,544.31 47.39,576.62 47.62,563.26 47.85,560.02 48.07,557.12 48.3,562.29 48.53,552.99 48.75,602.48 48.98,560.82 49.21,561.09 49.43,564.01 49.66,539.81 49.89,569.84 50.11,558.65 50.34,581.99 50.57,553.65 50.79,576.4 51.02,575.46 51.25,527.31 51.47,547.16 51.7,555.57 51.93,553.1 52.15,572.53 52.38,567.53 52.61,549.24 52.83,580.11 53.06,550.61 53.29,575 53.51,552.02 53.74,566.94 53.97,531.54 54.19,540.4 54.42,559.04 54.65,575.76 54.87,561.99 55.1,552.86 55.33,564.21 55.55,548.34 55.78,539.5 56.01,552.2 56.23,556.72 56.46,541.62 56.69,554.74 56.91,540.51 57.14,554.76 57.37,530.82 57.59,554.02 57.82,563.52 58.05,549.16 58.27,558.04 58.5,561.71 58.73,551.59 58.95,540.7 59.18,576.47 59.41,550.29 59.63,551.52 59.86,551.36 60.09,539.57 60.31,565.47 60.54,541.15 60.77,552.02 60.99,547.75 61.22,551.76 61.45,553.02 61.67,555.35 61.9,543.72 62.13,522.8 62.35,535.65 62.58,538.04 62.81,541.59 63.03,554.28 63.26,540.86 63.49,522.73 63.71,563.96 63.94,537.89 64.17,535.54 64.39,544.48 64.62,538.19 64.85,530.7 65.07,520.5 65.3,531.61 65.53,527.22 65.75,543.43 65.98,537.27 66.21,545.23 66.43,543.69 66.66,552.94 66.89,538.85 67.11,529.34 67.34,549.03 67.57,543.92 67.79,539.33 68.02,546.67 68.25,535.36 68.47,543.67 68.7,561.12 68.93,559.37 69.15,537.78 69.38,538.92 69.61,533.09 69.83,543.51 70.06,544.05 70.29,565.82 70.51,529.38 70.74,557.74 70.97,533.66 71.19,560.37 71.42,554.48 71.65,544.45 71.87,551.53 72.1,554.85 72.33,535.29 72.55,537.96 72.78,541.38 73.01,550.33 73.23,556.26 73.46,551.98 73.69,552.53 73.91,546.42 74.14,536.69 74.37,548.12 74.59,555.71 74.82,553.58 75.05,530.35 75.27,543.99 75.5,543.1 75.73,542.52 75.95,538.68 76.18,544.2 76.41,531.51 76.63,535.93 76.86,580.37 77.09,547.48 77.31,509.84 77.54,561.4 77.77,544.21 77.99,532.58 78.22,545.72 78.45,529.42 78.67,561.1 78.9,560.93 79.13,547.97 79.35,554.66 79.58,558.73 79.81,538.72 80.03,542.35 80.26,545.5 80.49,550.54 80.71,542.4 80.94,547.07 81.17,554.46 81.39,539.36 81.62,541.07 81.85,544.59 82.07,537.14 82.3,559 82.53,547.33 82.75,551.93 82.98,529.39 83.21,539.39 83.43,519.88 83.66,526.48 83.89,550.05 84.11,558.82 84.34,539.67 84.57,548.97 84.79,547.46 85.02,558.41 85.25,538.25 85.47,543.28 85.7,540.65 85.93,541.77 86.15,556.48 86.38,572.68 86.61,548.82 86.83,553.23 87.06,551.94 87.29,533.88 87.51,546.73 87.74,527.21 87.97,543.31 88.19,537.18 88.42,539.36 88.65,535.74 88.87,560.77 89.1,532.29 89.33,544.2 89.55,557.35 89.78,538.06 90.01,541.31 90.23,529.89 90.46,536.63 90.69,541.07 90.91,565.3 91.14,525.18 91.37,527.47 91.59,536.09 91.82,539.9 92.05,530.73 92.27,556.01 92.5,536.99 92.73,545.22 92.95,557.65 93.18,541.04 93.41,541.21 93.63,524.83 93.86,534.05 94.09,564.93 94.31,569.29 94.54,546.45 94.77,548.03 94.99,556.84 95.22,563.17 95.45,547.85 95.67,559.53 95.9,553.87 96.13,535.03 96.35,542.59 96.58,554.64 96.81,559.11 97.03,547.76 97.26,524.46 97.49,551.64 97.71,524.5 97.94,555.03 98.17,548.03 98.39,537.06 98.62,554.86 98.85,544.82 99.07,561.91 99.3,537.46 99.53,531.44 99.75,553.36 99.98,543.23 100.21,550.44 100.43,571.65 100.66,512.2 100.89,537.86 101.11,535.46 101.34,540.78 101.57,543.38 101.79,516.74 102.02,567.63 102.25,549.28 102.47,550.58 102.7,548.01 102.93,537.05 103.15,554.24 103.38,561.58 103.61,559.18 103.83,539.94 104.06,533.95 104.29,535.68 104.51,526.12 104.74,551.78 104.97,533.45 105.19,537.17 105.42,547.5 105.65,554.61 105.87,534.83 106.1,553.75 106.33,549.05 106.55,557.29 106.78,524.3 107.01,546.13 107.23,551.55 107.46,548.5 107.69,548.24 107.91,544.41 108.14,566.19 108.37,559.58 108.59,539.34 108.82,532.35 109.05,557.76 109.27,544.12 109.5,552.48 109.73,573.09 109.95,549.27 110.18,558.66 110.41,534.92 110.63,548.05 110.86,545.97 111.09,563.24 111.31,543.75 111.54,569.12 111.77,542.83 111.99,528.79 112.22,560.2 112.45,535.16 112.67,528.44 112.9,547.93 113.13,531.96 113.35,544.49 113.58,551.48 113.81,569.88 114.03,558.58 114.26,563.53 114.49,516.6 114.71,542.35 114.94,547.61 115.17,561.9 115.39,524.6 115.62,559.6 115.85,527.48 116.07,532.32 116.3,544.61 116.53,553.52 116.75,546.06 116.98,561.57 117.21,537.61 117.43,525.04 117.66,534.66 117.89,532.76 118.11,553.97 118.34,541.76 118.57,557.92 118.79,550.96 119.02,536.65 119.25,515.09 119.47,544.63 119.7,545.06 119.93,568.48 120.15,543.36 120.38,556.54 120.61,562.53 120.83,563.57 121.06,543.77 121.29,550.33 121.51,537.25 121.74,548.34 121.97,545.53 122.19,527.67 122.42,535.71 122.65,536.16 122.87,527.56 123.1,542.83 123.33,557.53 123.55,555.16 123.78,564.49 124.01,541.19 124.23,550.4 124.46,539.27 124.69,535.34 124.91,555.36 125.14,543.24 125.37,530.03 125.59,544.46 125.82,534.14 126.05,547.87 126.27,557.04 126.5,548.29 126.73,568.42 126.95,536.85 127.18,551.77 127.41,529.1 127.63,560.48 127.86,543.94 128.09,541.31 128.31,547.95 128.54,540.82 128.77,554.69 128.99,558.58 129.22,562.66 129.45,552.38 129.67,555.43 129.9,542.59 130.13,549.98 130.35,553.56 130.58,554.45 130.81,568.7 131.03,549.98 131.26,540.42 131.49,561.78 131.71,548.63 131.94,537.23 132.17,553.98 132.39,543.15 132.62,550.72 132.85,515.43 133.07,528.39 133.3,530.98 133.53,553.85 133.75,537.53 133.98,547.5 134.21,541.05 134.43,552.53 134.66,543.54 134.89,554.89 135.11,541.88 135.34,523.89 135.57,562.31 135.79,561.66 136.02,539.3 136.25,535.74 136.47,550.08 136.7,538.23 136.93,540.24 137.15,538.7 137.38,528.51 137.61,553.46 137.83,537.37 138.06,543 138.29,553.96 138.51,539.3 138.74,561.49 138.97,563.77 139.19,532.23 139.42,559.11 139.65,524.64 139.87,532.67 140.1,551.91 140.33,556.36 140.55,572.96 140.78,546.42 141.01,565.67 141.23,526.13 141.46,566.26 141.69,544.73 141.91,579.18 142.14,549.85 142.37,529.13 142.59,551.02 142.82,555.67 143.05,551.42 143.27,540.88 143.5,534.54 143.73,548.45 143.95,570.86 144.18,541.72 144.41,533.48 144.63,517.06 144.86,543.46 145.09,543.4 145.31,552.24 145.54,536.25 145.77,523.64 145.99,557.9 146.22,544.53 146.45,558.43 146.67,554.07 146.9,547.84 147.13,539.44 147.35,555.91 147.58,549.21 147.81,528.6 148.03,539.29 148.26,536.9 148.49,540.63 148.71,547.9 148.94,540.34 149.17,539.09 149.39,545.55 149.62,532.81 149.85,545.49 150.07,534.37 150.3,545.28 150.53,536.49 150.75,553.91 150.98,552.51 151.21,559.92 151.43,530.62 151.66,539.21 151.89,542.92 152.11,537.87 152.34,555.83 152.57,544.31 152.79,551.84 153.02,568.66 153.25,548.85 153.47,556.37 153.7,527.84 153.93,554.82 154.15,553.24 154.38,533.37 154.61,545.68 154.83,562.1 155.06,542.71 155.29,554.9 155.51,524.36 155.74,558.68 155.97,554.76 156.19,579.57 156.42,553.91 156.65,522.29 156.87,547.09 157.1,557.46 157.33,541.96 157.55,549.16 157.78,546.05 158.01,514.64 158.23,520.53 158.46,525.7 158.69,524.89 158.91,556.98 159.14,569.82 159.37,536.31 159.59,540.64 159.82,545 160.05,547.02 160.27,536.61 160.5,538.52 160.73,542.3 160.95,539.42 161.18,548.05 161.41,550.14 161.63,528.2 161.86,548.6 162.09,520.79 162.31,537.49 162.54,544.74 162.77,531.6 162.99,551.65 163.22,547.87 163.45,549.75 163.67,545.53 163.9,537.02 164.13,519.67 164.35,539.02 164.58,558.74 164.81,555.75 165.03,567.99 165.26,536.48 165.49,534.6 165.71,541.39 165.94,541.03 166.17,538.97 166.39,540.21 166.62,537.5 166.85,542.71 167.07,557.75 167.3,533.82 167.53,528.91 167.75,565.85 167.98,548.39 168.21,559.6 168.43,539.2 168.66,549.08 168.89,527.83 169.11,531.71 169.34,551.29 169.57,551.45 169.79,552.78 170.02,538.38 170.25,557.1 170.47,540.08 170.7,562.86 170.93,532.53 171.15,539.6 171.38,559.92 171.61,555.25 171.83,543.79 172.06,542.04 172.29,581.01 172.51,543 172.74,526.74 172.97,551.07 173.19,562.34 173.42,530.4 173.65,542.54 173.87,543.11 174.1,537.86 174.33,560.78 174.55,553.86 174.78,559.55 175.01,559.63 175.23,549.51 175.46,558.64 175.69,525.55 175.91,539.31 176.14,535.27 176.37,566.12 176.59,548.24 176.82,547.43 177.05,543.54 177.27,540 177.5,555.47" fill="none" stroke="#f8ccd0" stroke-width="0.3" stroke-linejoin="round" stroke-linecap="round" opacity="0.6"/>
</g>
<polyline points="41.5,587.91 44.9,579.42 48.3,573.36 51.7,570.94 55.1,569.72 58.5,568.51 61.9,564.88 65.3,566.09 68.7,568.51 72.1,566.09 75.5,567.3 78.9,569.72 82.3,568.51 85.7,570.94 89.1,569.72 92.5,569.72 95.9,567.91 99.3,567.91 102.7,566.69 106.1,568.51 109.5,567.91 112.9,569.72 116.3,570.94 119.7,570.33 123.1,569.72 126.5,570.94 129.9,571.54 133.3,569.72 136.7,568.51 140.1,566.09 143.5,564.88 146.9,563.66 150.3,564.88 153.7,567.3 157.1,570.94 160.5,572.15 163.9,570.94 167.3,568.51 170.7,569.72 174.1,569.72 177.5,573.36" fill="none" stroke="#3a9ad0" stroke-width="1.2" stroke-linejoin="round" stroke-linecap="round" />
<polyline points="41.5,584.27 44.9,569.72 48.3,560.02 51.7,553.96 55.1,550.32 58.5,546.69 61.9,546.69 65.3,547.9 68.7,549.11 72.1,547.9 75.5,546.69 78.9,547.9 82.3,545.47 85.7,546.69 89.1,546.69 92.5,545.47 95.9,544.26 99.3,544.26 102.7,543.05 106.1,544.26 109.5,545.47 112.9,544.26 116.3,545.47 119.7,546.69 123.1,546.69 126.5,545.47 129.9,546.69 133.3,547.9 136.7,547.9 140.1,546.69 143.5,544.26 146.9,543.05 150.3,543.05 153.7,541.84 157.1,543.05 160.5,544.26 163.9,546.69 167.3,547.9 170.7,544.26 174.1,543.05 177.5,549.11" fill="none" stroke="#ee4458" stroke-width="1.2" stroke-linejoin="round" stroke-linecap="round" />
<rect x="41.5" y="506.2" width="136.7" height="109.6" fill="none" stroke="#777" stroke-width="0.9"/>
<line x1="41.5" y1="615.8" x2="43.7" y2="615.8" stroke="#555" stroke-width="0.6" />
<text x="38.5" y="619.2" font-size="9.4" fill="#222" font-weight="normal" text-anchor="end" font-family='"Liberation Sans", sans-serif' textLength="13.65" lengthAdjust="spacingAndGlyphs" >280</text>
<line x1="41.5" y1="591.55" x2="43.7" y2="591.55" stroke="#555" stroke-width="0.6" />
<text x="38.5" y="594.95" font-size="9.4" fill="#222" font-weight="normal" text-anchor="end" font-family='"Liberation Sans", sans-serif' textLength="13.65" lengthAdjust="spacingAndGlyphs" >300</text>
<line x1="41.5" y1="567.3" x2="43.7" y2="567.3" stroke="#555" stroke-width="0.6" />
<text x="38.5" y="570.7" font-size="9.4" fill="#222" font-weight="normal" text-anchor="end" font-family='"Liberation Sans", sans-serif' textLength="13.65" lengthAdjust="spacingAndGlyphs" >320</text>
<line x1="41.5" y1="543.05" x2="43.7" y2="543.05" stroke="#555" stroke-width="0.6" />
<text x="38.5" y="546.45" font-size="9.4" fill="#222" font-weight="normal" text-anchor="end" font-family='"Liberation Sans", sans-serif' textLength="13.65" lengthAdjust="spacingAndGlyphs" >340</text>
<line x1="41.5" y1="518.8" x2="43.7" y2="518.8" stroke="#555" stroke-width="0.6" />
<text x="38.5" y="522.2" font-size="9.4" fill="#222" font-weight="normal" text-anchor="end" font-family='"Liberation Sans", sans-serif' textLength="13.65" lengthAdjust="spacingAndGlyphs" >360</text>
<line x1="41.5" y1="603.67" x2="42.8" y2="603.67" stroke="#555" stroke-width="0.5" />
<line x1="41.5" y1="579.42" x2="42.8" y2="579.42" stroke="#555" stroke-width="0.5" />
<line x1="41.5" y1="555.17" x2="42.8" y2="555.17" stroke="#555" stroke-width="0.5" />
<line x1="41.5" y1="530.92" x2="42.8" y2="530.92" stroke="#555" stroke-width="0.5" />
<line x1="41.5" y1="506.67" x2="42.8" y2="506.67" stroke="#555" stroke-width="0.5" />
<line x1="41.5" y1="615.8" x2="41.5" y2="613.6" stroke="#555" stroke-width="0.6" />
<text x="41.5" y="625.8" font-size="9.4" fill="#222" font-weight="normal" text-anchor="middle" font-family='"Liberation Sans", sans-serif' textLength="4.55" lengthAdjust="spacingAndGlyphs" >0</text>
<line x1="75.5" y1="615.8" x2="75.5" y2="613.6" stroke="#555" stroke-width="0.6" />
<text x="75.5" y="625.8" font-size="9.4" fill="#222" font-weight="normal" text-anchor="middle" font-family='"Liberation Sans", sans-serif' textLength="18.2" lengthAdjust="spacingAndGlyphs" >1000</text>
<line x1="109.5" y1="615.8" x2="109.5" y2="613.6" stroke="#555" stroke-width="0.6" />
<text x="109.5" y="625.8" font-size="9.4" fill="#222" font-weight="normal" text-anchor="middle" font-family='"Liberation Sans", sans-serif' textLength="18.2" lengthAdjust="spacingAndGlyphs" >2000</text>
<line x1="143.5" y1="615.8" x2="143.5" y2="613.6" stroke="#555" stroke-width="0.6" />
<text x="143.5" y="625.8" font-size="9.4" fill="#222" font-weight="normal" text-anchor="middle" font-family='"Liberation Sans", sans-serif' textLength="18.2" lengthAdjust="spacingAndGlyphs" >3000</text>
<line x1="177.5" y1="615.8" x2="177.5" y2="613.6" stroke="#555" stroke-width="0.6" />
<text x="177.5" y="625.8" font-size="9.4" fill="#222" font-weight="normal" text-anchor="middle" font-family='"Liberation Sans", sans-serif' textLength="18.2" lengthAdjust="spacingAndGlyphs" >4000</text>
<line x1="58.5" y1="615.8" x2="58.5" y2="614.5" stroke="#555" stroke-width="0.5" />
<line x1="92.5" y1="615.8" x2="92.5" y2="614.5" stroke="#555" stroke-width="0.5" />
<line x1="126.5" y1="615.8" x2="126.5" y2="614.5" stroke="#555" stroke-width="0.5" />
<line x1="160.5" y1="615.8" x2="160.5" y2="614.5" stroke="#555" stroke-width="0.5" />
<text x="110" y="640.8" font-size="9.2" fill="#222" font-weight="normal" text-anchor="middle" font-family='"Liberation Sans", sans-serif' textLength="38" lengthAdjust="spacingAndGlyphs" >Time (ns)</text>
<text transform="translate(16.2 566) rotate(-90)" x="0" y="0" font-size="9" fill="#222" font-weight="normal" text-anchor="middle" font-family='"Liberation Sans", sans-serif' textLength="65.7" lengthAdjust="spacingAndGlyphs">Temperature (K)</text>
<line x1="86.4" y1="597.8" x2="104.5" y2="597.8" stroke="#3a9ad0" stroke-width="0.9" />
<line x1="86.4" y1="607.3" x2="104.5" y2="607.3" stroke="#ee4458" stroke-width="0.9" />
<text x="106.4" y="600.6" font-size="7.7" fill="#222" font-weight="normal" text-anchor="start" font-family='"Liberation Sans", sans-serif' textLength="48" lengthAdjust="spacingAndGlyphs" >Water/hexane</text>
<text x="106.4" y="610.1" font-size="7.7" fill="#222" font-weight="normal" text-anchor="start" font-family='"Liberation Sans", sans-serif' textLength="67.2" lengthAdjust="spacingAndGlyphs" >Water/MOF/hexane</text>
<rect x="214.5" y="506" width="58.28" height="109" fill="#fdf7f8"/>
<rect x="272.78" y="506" width="77.22" height="109" fill="#f6fcf8"/>
<rect x="214.5" y="506" width="58.28" height="109" fill="url(#pw)"/>
<rect x="272.78" y="506" width="77.22" height="109" fill="url(#ph)"/>
<line x1="261.94" y1="597.95" x2="299.76" y2="597.95" stroke="#555" stroke-width="0.5" />
<line x1="282.11" y1="535.95" x2="282.11" y2="597.95" stroke="#555" stroke-width="0.5" />
<line x1="290.18" y1="526.65" x2="290.18" y2="597.95" stroke="#555" stroke-width="0.5" />
<line x1="269.5" y1="535.95" x2="283.37" y2="535.95" stroke="#888" stroke-width="0.4" stroke-dasharray="1 1"/>
<line x1="261.94" y1="597.95" x2="261.94" y2="580.9" stroke="#888" stroke-width="0.4" stroke-dasharray="1 1"/>
<line x1="282.11" y1="526.65" x2="282.11" y2="518.12" stroke="#888" stroke-width="0.4" stroke-dasharray="1 1"/>
<polyline points="232.93,568.5 233.48,568.34 234.24,568.11 235.14,567.85 236.11,567.55 237.08,567.25 237.98,566.95 238.83,566.61 239.7,566.22 240.58,565.81 241.43,565.44 242.25,565.16 243.02,565.01 243.72,564.97 244.37,564.98 244.99,565.09 245.59,565.3 246.19,565.65 246.8,566.17 247.42,566.84 248.02,567.61 248.62,568.52 249.23,569.61 249.88,570.88 250.59,572.38 251.37,574.21 252.22,576.39 253.11,578.77 254,581.19 254.85,583.5 255.63,585.55 256.35,587.4 257.03,589.17 257.68,590.83 258.29,592.35 258.87,593.7 259.41,594.85 259.91,595.78 260.35,596.51 260.75,597.08 261.14,597.49 261.53,597.77 261.94,597.95 262.34,598.09 262.73,598.18 263.12,598.14 263.52,597.89 263.96,597.34 264.46,596.4 265.01,595.02 265.62,593.27 266.27,591.22 266.93,588.94 267.59,586.51 268.24,584 268.87,581.34 269.5,578.46 270.13,575.43 270.76,572.32 271.39,569.21 272.02,566.17 272.65,563.18 273.28,560.15 273.91,557.12 274.55,554.12 275.18,551.19 275.81,548.35 276.45,545.52 277.11,542.64 277.78,539.83 278.42,537.18 279.03,534.82 279.59,532.85 280.07,531.3 280.48,530.11 280.85,529.19 281.22,528.49 281.63,527.92 282.11,527.42 282.68,527.06 283.33,526.88 284,526.84 284.68,526.89 285.32,526.98 285.89,527.04 286.39,527.12 286.83,527.28 287.23,527.47 287.62,527.65 288.01,527.78 288.42,527.81 288.81,527.73 289.16,527.55 289.52,527.33 289.91,527.08 290.37,526.84 290.94,526.65 291.65,526.5 292.48,526.36 293.38,526.24 294.3,526.12 295.19,526 295.98,525.88 296.73,525.74 297.48,525.59 298.19,525.44 298.83,525.3 299.37,525.18 299.76,525.1" fill="none" stroke="#f02828" stroke-width="1.5" stroke-linejoin="round" stroke-linecap="round" />
<rect x="214.5" y="506" width="135.5" height="109" fill="none" stroke="#444" stroke-width="0.9"/>
<line x1="214.5" y1="615" x2="216.5" y2="615" stroke="#444" stroke-width="0.6" />
<text x="212" y="618.4" font-size="9.4" fill="#222" font-weight="normal" text-anchor="end" font-family='"Liberation Sans", sans-serif' textLength="7.75" lengthAdjust="spacingAndGlyphs" >&#8722;6</text>
<line x1="214.5" y1="599.5" x2="216.5" y2="599.5" stroke="#444" stroke-width="0.6" />
<text x="212" y="602.9" font-size="9.4" fill="#222" font-weight="normal" text-anchor="end" font-family='"Liberation Sans", sans-serif' textLength="7.75" lengthAdjust="spacingAndGlyphs" >&#8722;4</text>
<line x1="214.5" y1="584" x2="216.5" y2="584" stroke="#444" stroke-width="0.6" />
<text x="212" y="587.4" font-size="9.4" fill="#222" font-weight="normal" text-anchor="end" font-family='"Liberation Sans", sans-serif' textLength="7.75" lengthAdjust="spacingAndGlyphs" >&#8722;2</text>
<line x1="214.5" y1="568.5" x2="216.5" y2="568.5" stroke="#444" stroke-width="0.6" />
<text x="212" y="571.9" font-size="9.4" fill="#222" font-weight="normal" text-anchor="end" font-family='"Liberation Sans", sans-serif' textLength="4.55" lengthAdjust="spacingAndGlyphs" >0</text>
<line x1="214.5" y1="553" x2="216.5" y2="553" stroke="#444" stroke-width="0.6" />
<text x="212" y="556.4" font-size="9.4" fill="#222" font-weight="normal" text-anchor="end" font-family='"Liberation Sans", sans-serif' textLength="4.55" lengthAdjust="spacingAndGlyphs" >2</text>
<line x1="214.5" y1="537.5" x2="216.5" y2="537.5" stroke="#444" stroke-width="0.6" />
<text x="212" y="540.9" font-size="9.4" fill="#222" font-weight="normal" text-anchor="end" font-family='"Liberation Sans", sans-serif' textLength="4.55" lengthAdjust="spacingAndGlyphs" >4</text>
<line x1="214.5" y1="522" x2="216.5" y2="522" stroke="#444" stroke-width="0.6" />
<text x="212" y="525.4" font-size="9.4" fill="#222" font-weight="normal" text-anchor="end" font-family='"Liberation Sans", sans-serif' textLength="4.55" lengthAdjust="spacingAndGlyphs" >6</text>
<line x1="214.5" y1="506.5" x2="216.5" y2="506.5" stroke="#444" stroke-width="0.6" />
<text x="212" y="509.9" font-size="9.4" fill="#222" font-weight="normal" text-anchor="end" font-family='"Liberation Sans", sans-serif' textLength="4.55" lengthAdjust="spacingAndGlyphs" >8</text>
<line x1="217.8" y1="615" x2="217.8" y2="613" stroke="#444" stroke-width="0.6" />
<text x="217.8" y="625.3" font-size="9.4" fill="#222" font-weight="normal" text-anchor="middle" font-family='"Liberation Sans", sans-serif' textLength="9.1" lengthAdjust="spacingAndGlyphs" >15</text>
<line x1="230.41" y1="615" x2="230.41" y2="613" stroke="#444" stroke-width="0.6" />
<text x="230.41" y="625.3" font-size="9.4" fill="#222" font-weight="normal" text-anchor="middle" font-family='"Liberation Sans", sans-serif' textLength="9.1" lengthAdjust="spacingAndGlyphs" >20</text>
<line x1="243.02" y1="615" x2="243.02" y2="613" stroke="#444" stroke-width="0.6" />
<text x="243.02" y="625.3" font-size="9.4" fill="#222" font-weight="normal" text-anchor="middle" font-family='"Liberation Sans", sans-serif' textLength="9.1" lengthAdjust="spacingAndGlyphs" >25</text>
<line x1="255.63" y1="615" x2="255.63" y2="613" stroke="#444" stroke-width="0.6" />
<text x="255.63" y="625.3" font-size="9.4" fill="#222" font-weight="normal" text-anchor="middle" font-family='"Liberation Sans", sans-serif' textLength="9.1" lengthAdjust="spacingAndGlyphs" >30</text>
<line x1="268.24" y1="615" x2="268.24" y2="613" stroke="#444" stroke-width="0.6" />
<text x="268.24" y="625.3" font-size="9.4" fill="#222" font-weight="normal" text-anchor="middle" font-family='"Liberation Sans", sans-serif' textLength="9.1" lengthAdjust="spacingAndGlyphs" >35</text>
<line x1="280.85" y1="615" x2="280.85" y2="613" stroke="#444" stroke-width="0.6" />
<text x="280.85" y="625.3" font-size="9.4" fill="#222" font-weight="normal" text-anchor="middle" font-family='"Liberation Sans", sans-serif' textLength="9.1" lengthAdjust="spacingAndGlyphs" >40</text>
<line x1="293.46" y1="615" x2="293.46" y2="613" stroke="#444" stroke-width="0.6" />
<text x="293.46" y="625.3" font-size="9.4" fill="#222" font-weight="normal" text-anchor="middle" font-family='"Liberation Sans", sans-serif' textLength="9.1" lengthAdjust="spacingAndGlyphs" >45</text>
<line x1="306.07" y1="615" x2="306.07" y2="613" stroke="#444" stroke-width="0.6" />
<text x="306.07" y="625.3" font-size="9.4" fill="#222" font-weight="normal" text-anchor="middle" font-family='"Liberation Sans", sans-serif' textLength="9.1" lengthAdjust="spacingAndGlyphs" >50</text>
<line x1="318.68" y1="615" x2="318.68" y2="613" stroke="#444" stroke-width="0.6" />
<text x="318.68" y="625.3" font-size="9.4" fill="#222" font-weight="normal" text-anchor="middle" font-family='"Liberation Sans", sans-serif' textLength="9.1" lengthAdjust="spacingAndGlyphs" >55</text>
<line x1="331.29" y1="615" x2="331.29" y2="613" stroke="#444" stroke-width="0.6" />
<text x="331.29" y="625.3" font-size="9.4" fill="#222" font-weight="normal" text-anchor="middle" font-family='"Liberation Sans", sans-serif' textLength="9.1" lengthAdjust="spacingAndGlyphs" >60</text>
<line x1="343.9" y1="615" x2="343.9" y2="613" stroke="#444" stroke-width="0.6" />
<text x="343.9" y="625.3" font-size="9.4" fill="#222" font-weight="normal" text-anchor="middle" font-family='"Liberation Sans", sans-serif' textLength="9.1" lengthAdjust="spacingAndGlyphs" >65</text>
<text x="283" y="640.5" font-size="9.2" fill="#222" text-anchor="middle" font-family='"Liberation Sans", sans-serif' textLength="62" lengthAdjust="spacingAndGlyphs"><tspan font-style="italic">x</tspan> coordinate (&#197;)</text>
<text transform="translate(199.3 564.5) rotate(-90)" x="0" y="0" font-size="9.2" fill="#222" font-weight="normal" text-anchor="middle" font-family='"Liberation Sans", sans-serif' textLength="116" lengthAdjust="spacingAndGlyphs">Potential of mean force (kT)</text>
<text x="219.6" y="518.6" font-size="8.8" fill="#111" font-weight="normal" text-anchor="start" font-family='"Liberation Serif", serif' textLength="21.7" lengthAdjust="spacingAndGlyphs" stroke="#111" stroke-width="0.12">Water</text>
<text x="312.5" y="518.6" font-size="9" fill="#111" font-weight="normal" text-anchor="start" font-family='"Liberation Serif", serif' textLength="30.5" lengthAdjust="spacingAndGlyphs" stroke="#111" stroke-width="0.12">Hexane</text>
<text x="250" y="566" font-size="9.2" fill="#111" font-weight="normal" text-anchor="start" font-family='"Liberation Serif", serif' textLength="20.4" lengthAdjust="spacingAndGlyphs" stroke="#111" stroke-width="0.12">MPD</text>
<text x="262" y="589.5" font-size="9" fill="#111" font-weight="normal" text-anchor="start" font-family='"Liberation Serif", serif' stroke="#111" stroke-width="0.12">&#945;</text>
<text x="267.5" y="552" font-size="9" fill="#111" font-weight="normal" text-anchor="start" font-family='"Liberation Serif", serif' stroke="#111" stroke-width="0.12">&#946;</text>
<text x="282" y="528.5" font-size="9" fill="#111" font-weight="normal" text-anchor="start" font-family='"Liberation Serif", serif' stroke="#111" stroke-width="0.12">&#947;</text>
<text x="292.8" y="560.8" font-size="7.9" fill="#222" font-weight="normal" text-anchor="start" font-family='"Liberation Sans", sans-serif' textLength="24.8" lengthAdjust="spacingAndGlyphs" >9.30 kT</text>
<text x="288" y="581.6" font-size="7.9" fill="#222" font-weight="normal" text-anchor="start" font-family='"Liberation Sans", sans-serif' textLength="25.2" lengthAdjust="spacingAndGlyphs" >7.88 kT</text>
<polyline points="267.06,577.45 264.2,579.1 261.34,577.45 261.34,574.15 264.2,572.5 267.06,574.15 267.06,577.45" fill="none" stroke="#18e018" stroke-width="1.5" stroke-linejoin="round" stroke-linecap="round" />
<line x1="260.6" y1="575.3" x2="258.7" y2="574.3" stroke="#c040d0" stroke-width="0.9" />
<line x1="267.8" y1="575.3" x2="269.7" y2="574.3" stroke="#c040d0" stroke-width="0.9" />
<line x1="264.2" y1="572.2" x2="264.2" y2="570.5" stroke="#c040d0" stroke-width="0.9" />
<polyline points="273.36,538.25 270.5,539.9 267.64,538.25 267.64,534.95 270.5,533.3 273.36,534.95 273.36,538.25" fill="none" stroke="#18e018" stroke-width="1.5" stroke-linejoin="round" stroke-linecap="round" />
<line x1="266.9" y1="536.1" x2="265" y2="535.1" stroke="#c040d0" stroke-width="0.9" />
<line x1="274.1" y1="536.1" x2="276" y2="535.1" stroke="#c040d0" stroke-width="0.9" />
<line x1="270.5" y1="533" x2="270.5" y2="531.3" stroke="#c040d0" stroke-width="0.9" />
<polyline points="293.76,517.45 290.9,519.1 288.04,517.45 288.04,514.15 290.9,512.5 293.76,514.15 293.76,517.45" fill="none" stroke="#18e018" stroke-width="1.5" stroke-linejoin="round" stroke-linecap="round" />
<line x1="287.3" y1="515.3" x2="285.4" y2="514.3" stroke="#c040d0" stroke-width="0.9" />
<line x1="294.5" y1="515.3" x2="296.4" y2="514.3" stroke="#c040d0" stroke-width="0.9" />
<line x1="290.9" y1="512.2" x2="290.9" y2="510.5" stroke="#c040d0" stroke-width="0.9" />
<rect x="433.5" y="507" width="58.5" height="106" fill="#f7f6fb"/>
<clipPath id="cmof"><rect x="433.5" y="507" width="58.5" height="106"/></clipPath><g clip-path="url(#cmof)">
<ellipse cx="436.93" cy="522.19" rx="3.4" ry="2.6" fill="#f4dc94" opacity="0.95"/>
<ellipse cx="444.78" cy="524.17" rx="3.4" ry="2.6" fill="#f4dc94" opacity="0.95"/>
<ellipse cx="453.01" cy="522.71" rx="3.4" ry="2.6" fill="#f4dc94" opacity="0.95"/>
<ellipse cx="463.3" cy="521.02" rx="3.4" ry="2.6" fill="#f4dc94" opacity="0.95"/>
<ellipse cx="471.11" cy="523.17" rx="3.4" ry="2.6" fill="#f4dc94" opacity="0.95"/>
<ellipse cx="478.58" cy="522.22" rx="3.4" ry="2.6" fill="#f4dc94" opacity="0.95"/>
<ellipse cx="488.41" cy="522.51" rx="3.4" ry="2.6" fill="#f4dc94" opacity="0.95"/>
<ellipse cx="437.45" cy="545.13" rx="3.4" ry="2.6" fill="#f4dc94" opacity="0.95"/>
<ellipse cx="444.98" cy="544.94" rx="3.4" ry="2.6" fill="#f4dc94" opacity="0.95"/>
<ellipse cx="454.01" cy="548.2" rx="3.4" ry="2.6" fill="#f4dc94" opacity="0.95"/>
<ellipse cx="462.68" cy="547.6" rx="3.4" ry="2.6" fill="#f4dc94" opacity="0.95"/>
<ellipse cx="470.77" cy="547.48" rx="3.4" ry="2.6" fill="#f4dc94" opacity="0.95"/>
<ellipse cx="478.7" cy="545.66" rx="3.4" ry="2.6" fill="#f4dc94" opacity="0.95"/>
<ellipse cx="488.35" cy="547.4" rx="3.4" ry="2.6" fill="#f4dc94" opacity="0.95"/>
<ellipse cx="436.84" cy="568.65" rx="3.4" ry="2.6" fill="#f4dc94" opacity="0.95"/>
<ellipse cx="445.03" cy="569.14" rx="3.4" ry="2.6" fill="#f4dc94" opacity="0.95"/>
<ellipse cx="453.56" cy="571.54" rx="3.4" ry="2.6" fill="#f4dc94" opacity="0.95"/>
<ellipse cx="461.9" cy="571.85" rx="3.4" ry="2.6" fill="#f4dc94" opacity="0.95"/>
<ellipse cx="471.76" cy="568.52" rx="3.4" ry="2.6" fill="#f4dc94" opacity="0.95"/>
<ellipse cx="479.26" cy="570.27" rx="3.4" ry="2.6" fill="#f4dc94" opacity="0.95"/>
<ellipse cx="487.05" cy="570" rx="3.4" ry="2.6" fill="#f4dc94" opacity="0.95"/>
<ellipse cx="437.81" cy="592.55" rx="3.4" ry="2.6" fill="#f4dc94" opacity="0.95"/>
<ellipse cx="445.69" cy="592.58" rx="3.4" ry="2.6" fill="#f4dc94" opacity="0.95"/>
<ellipse cx="454.16" cy="595.68" rx="3.4" ry="2.6" fill="#f4dc94" opacity="0.95"/>
<ellipse cx="461.91" cy="592.13" rx="3.4" ry="2.6" fill="#f4dc94" opacity="0.95"/>
<ellipse cx="470.17" cy="594.26" rx="3.4" ry="2.6" fill="#f4dc94" opacity="0.95"/>
<ellipse cx="478.53" cy="592.44" rx="3.4" ry="2.6" fill="#f4dc94" opacity="0.95"/>
<ellipse cx="487.99" cy="595.78" rx="3.4" ry="2.6" fill="#f4dc94" opacity="0.95"/>
<ellipse cx="436.84" cy="617.49" rx="3.4" ry="2.6" fill="#f4dc94" opacity="0.95"/>
<ellipse cx="445.78" cy="616.27" rx="3.4" ry="2.6" fill="#f4dc94" opacity="0.95"/>
<ellipse cx="454.16" cy="616.59" rx="3.4" ry="2.6" fill="#f4dc94" opacity="0.95"/>
<ellipse cx="462.72" cy="619.73" rx="3.4" ry="2.6" fill="#f4dc94" opacity="0.95"/>
<ellipse cx="470.11" cy="618.12" rx="3.4" ry="2.6" fill="#f4dc94" opacity="0.95"/>
<ellipse cx="479.71" cy="616.5" rx="3.4" ry="2.6" fill="#f4dc94" opacity="0.95"/>
<ellipse cx="487.54" cy="619.88" rx="3.4" ry="2.6" fill="#f4dc94" opacity="0.95"/>
<line x1="440" y1="506.2" x2="440" y2="515.8" stroke="#aeb2f2" stroke-width="2.2" />
<line x1="444.16" y1="508.6" x2="435.84" y2="513.4" stroke="#aeb2f2" stroke-width="2.2" />
<line x1="444.16" y1="513.4" x2="435.84" y2="508.6" stroke="#aeb2f2" stroke-width="2.2" />
<circle cx="440" cy="511" r="1.8" fill="#a4a8ee"/>
<line x1="452.4" y1="506.2" x2="452.4" y2="515.8" stroke="#aeb2f2" stroke-width="2.2" />
<line x1="456.56" y1="508.6" x2="448.24" y2="513.4" stroke="#aeb2f2" stroke-width="2.2" />
<line x1="456.56" y1="513.4" x2="448.24" y2="508.6" stroke="#aeb2f2" stroke-width="2.2" />
<circle cx="452.4" cy="511" r="1.8" fill="#a4a8ee"/>
<line x1="464.8" y1="506.2" x2="464.8" y2="515.8" stroke="#aeb2f2" stroke-width="2.2" />
<line x1="468.96" y1="508.6" x2="460.64" y2="513.4" stroke="#aeb2f2" stroke-width="2.2" />
<line x1="468.96" y1="513.4" x2="460.64" y2="508.6" stroke="#aeb2f2" stroke-width="2.2" />
<circle cx="464.8" cy="511" r="1.8" fill="#a4a8ee"/>
<line x1="477.2" y1="506.2" x2="477.2" y2="515.8" stroke="#aeb2f2" stroke-width="2.2" />
<line x1="481.36" y1="508.6" x2="473.04" y2="513.4" stroke="#aeb2f2" stroke-width="2.2" />
<line x1="481.36" y1="513.4" x2="473.04" y2="508.6" stroke="#aeb2f2" stroke-width="2.2" />
<circle cx="477.2" cy="511" r="1.8" fill="#a4a8ee"/>
<line x1="489.6" y1="506.2" x2="489.6" y2="515.8" stroke="#aeb2f2" stroke-width="2.2" />
<line x1="493.76" y1="508.6" x2="485.44" y2="513.4" stroke="#aeb2f2" stroke-width="2.2" />
<line x1="493.76" y1="513.4" x2="485.44" y2="508.6" stroke="#aeb2f2" stroke-width="2.2" />
<circle cx="489.6" cy="511" r="1.8" fill="#a4a8ee"/>
<line x1="446.2" y1="516.8" x2="446.2" y2="526.4" stroke="#aeb2f2" stroke-width="2.2" />
<line x1="450.36" y1="519.2" x2="442.04" y2="524" stroke="#aeb2f2" stroke-width="2.2" />
<line x1="450.36" y1="524" x2="442.04" y2="519.2" stroke="#aeb2f2" stroke-width="2.2" />
<circle cx="446.2" cy="521.6" r="1.8" fill="#a4a8ee"/>
<line x1="458.6" y1="516.8" x2="458.6" y2="526.4" stroke="#aeb2f2" stroke-width="2.2" />
<line x1="462.76" y1="519.2" x2="454.44" y2="524" stroke="#aeb2f2" stroke-width="2.2" />
<line x1="462.76" y1="524" x2="454.44" y2="519.2" stroke="#aeb2f2" stroke-width="2.2" />
<circle cx="458.6" cy="521.6" r="1.8" fill="#a4a8ee"/>
<line x1="471" y1="516.8" x2="471" y2="526.4" stroke="#aeb2f2" stroke-width="2.2" />
<line x1="475.16" y1="519.2" x2="466.84" y2="524" stroke="#aeb2f2" stroke-width="2.2" />
<line x1="475.16" y1="524" x2="466.84" y2="519.2" stroke="#aeb2f2" stroke-width="2.2" />
<circle cx="471" cy="521.6" r="1.8" fill="#a4a8ee"/>
<line x1="483.4" y1="516.8" x2="483.4" y2="526.4" stroke="#aeb2f2" stroke-width="2.2" />
<line x1="487.56" y1="519.2" x2="479.24" y2="524" stroke="#aeb2f2" stroke-width="2.2" />
<line x1="487.56" y1="524" x2="479.24" y2="519.2" stroke="#aeb2f2" stroke-width="2.2" />
<circle cx="483.4" cy="521.6" r="1.8" fill="#a4a8ee"/>
<line x1="440" y1="527.4" x2="440" y2="537" stroke="#aeb2f2" stroke-width="2.2" />
<line x1="444.16" y1="529.8" x2="435.84" y2="534.6" stroke="#aeb2f2" stroke-width="2.2" />
<line x1="444.16" y1="534.6" x2="435.84" y2="529.8" stroke="#aeb2f2" stroke-width="2.2" />
<circle cx="440" cy="532.2" r="1.8" fill="#a4a8ee"/>
<line x1="452.4" y1="527.4" x2="452.4" y2="537" stroke="#aeb2f2" stroke-width="2.2" />
<line x1="456.56" y1="529.8" x2="448.24" y2="534.6" stroke="#aeb2f2" stroke-width="2.2" />
<line x1="456.56" y1="534.6" x2="448.24" y2="529.8" stroke="#aeb2f2" stroke-width="2.2" />
<circle cx="452.4" cy="532.2" r="1.8" fill="#a4a8ee"/>
<line x1="464.8" y1="527.4" x2="464.8" y2="537" stroke="#aeb2f2" stroke-width="2.2" />
<line x1="468.96" y1="529.8" x2="460.64" y2="534.6" stroke="#aeb2f2" stroke-width="2.2" />
<line x1="468.96" y1="534.6" x2="460.64" y2="529.8" stroke="#aeb2f2" stroke-width="2.2" />
<circle cx="464.8" cy="532.2" r="1.8" fill="#a4a8ee"/>
<line x1="477.2" y1="527.4" x2="477.2" y2="537" stroke="#aeb2f2" stroke-width="2.2" />
<line x1="481.36" y1="529.8" x2="473.04" y2="534.6" stroke="#aeb2f2" stroke-width="2.2" />
<line x1="481.36" y1="534.6" x2="473.04" y2="529.8" stroke="#aeb2f2" stroke-width="2.2" />
<circle cx="477.2" cy="532.2" r="1.8" fill="#a4a8ee"/>
<line x1="489.6" y1="527.4" x2="489.6" y2="537" stroke="#aeb2f2" stroke-width="2.2" />
<line x1="493.76" y1="529.8" x2="485.44" y2="534.6" stroke="#aeb2f2" stroke-width="2.2" />
<line x1="493.76" y1="534.6" x2="485.44" y2="529.8" stroke="#aeb2f2" stroke-width="2.2" />
<circle cx="489.6" cy="532.2" r="1.8" fill="#a4a8ee"/>
<line x1="446.2" y1="538" x2="446.2" y2="547.6" stroke="#aeb2f2" stroke-width="2.2" />
<line x1="450.36" y1="540.4" x2="442.04" y2="545.2" stroke="#aeb2f2" stroke-width="2.2" />
<line x1="450.36" y1="545.2" x2="442.04" y2="540.4" stroke="#aeb2f2" stroke-width="2.2" />
<circle cx="446.2" cy="542.8" r="1.8" fill="#a4a8ee"/>
<line x1="458.6" y1="538" x2="458.6" y2="547.6" stroke="#aeb2f2" stroke-width="2.2" />
<line x1="462.76" y1="540.4" x2="454.44" y2="545.2" stroke="#aeb2f2" stroke-width="2.2" />
<line x1="462.76" y1="545.2" x2="454.44" y2="540.4" stroke="#aeb2f2" stroke-width="2.2" />
<circle cx="458.6" cy="542.8" r="1.8" fill="#a4a8ee"/>
<line x1="471" y1="538" x2="471" y2="547.6" stroke="#aeb2f2" stroke-width="2.2" />
<line x1="475.16" y1="540.4" x2="466.84" y2="545.2" stroke="#aeb2f2" stroke-width="2.2" />
<line x1="475.16" y1="545.2" x2="466.84" y2="540.4" stroke="#aeb2f2" stroke-width="2.2" />
<circle cx="471" cy="542.8" r="1.8" fill="#a4a8ee"/>
<line x1="483.4" y1="538" x2="483.4" y2="547.6" stroke="#aeb2f2" stroke-width="2.2" />
<line x1="487.56" y1="540.4" x2="479.24" y2="545.2" stroke="#aeb2f2" stroke-width="2.2" />
<line x1="487.56" y1="545.2" x2="479.24" y2="540.4" stroke="#aeb2f2" stroke-width="2.2" />
<circle cx="483.4" cy="542.8" r="1.8" fill="#a4a8ee"/>
<line x1="440" y1="548.6" x2="440" y2="558.2" stroke="#aeb2f2" stroke-width="2.2" />
<line x1="444.16" y1="551" x2="435.84" y2="555.8" stroke="#aeb2f2" stroke-width="2.2" />
<line x1="444.16" y1="555.8" x2="435.84" y2="551" stroke="#aeb2f2" stroke-width="2.2" />
<circle cx="440" cy="553.4" r="1.8" fill="#a4a8ee"/>
<line x1="452.4" y1="548.6" x2="452.4" y2="558.2" stroke="#aeb2f2" stroke-width="2.2" />
<line x1="456.56" y1="551" x2="448.24" y2="555.8" stroke="#aeb2f2" stroke-width="2.2" />
<line x1="456.56" y1="555.8" x2="448.24" y2="551" stroke="#aeb2f2" stroke-width="2.2" />
<circle cx="452.4" cy="553.4" r="1.8" fill="#a4a8ee"/>
<line x1="464.8" y1="548.6" x2="464.8" y2="558.2" stroke="#aeb2f2" stroke-width="2.2" />
<line x1="468.96" y1="551" x2="460.64" y2="555.8" stroke="#aeb2f2" stroke-width="2.2" />
<line x1="468.96" y1="555.8" x2="460.64" y2="551" stroke="#aeb2f2" stroke-width="2.2" />
<circle cx="464.8" cy="553.4" r="1.8" fill="#a4a8ee"/>
<line x1="477.2" y1="548.6" x2="477.2" y2="558.2" stroke="#aeb2f2" stroke-width="2.2" />
<line x1="481.36" y1="551" x2="473.04" y2="555.8" stroke="#aeb2f2" stroke-width="2.2" />
<line x1="481.36" y1="555.8" x2="473.04" y2="551" stroke="#aeb2f2" stroke-width="2.2" />
<circle cx="477.2" cy="553.4" r="1.8" fill="#a4a8ee"/>
<line x1="489.6" y1="548.6" x2="489.6" y2="558.2" stroke="#aeb2f2" stroke-width="2.2" />
<line x1="493.76" y1="551" x2="485.44" y2="555.8" stroke="#aeb2f2" stroke-width="2.2" />
<line x1="493.76" y1="555.8" x2="485.44" y2="551" stroke="#aeb2f2" stroke-width="2.2" />
<circle cx="489.6" cy="553.4" r="1.8" fill="#a4a8ee"/>
<line x1="446.2" y1="559.2" x2="446.2" y2="568.8" stroke="#aeb2f2" stroke-width="2.2" />
<line x1="450.36" y1="561.6" x2="442.04" y2="566.4" stroke="#aeb2f2" stroke-width="2.2" />
<line x1="450.36" y1="566.4" x2="442.04" y2="561.6" stroke="#aeb2f2" stroke-width="2.2" />
<circle cx="446.2" cy="564" r="1.8" fill="#a4a8ee"/>
<line x1="458.6" y1="559.2" x2="458.6" y2="568.8" stroke="#aeb2f2" stroke-width="2.2" />
<line x1="462.76" y1="561.6" x2="454.44" y2="566.4" stroke="#aeb2f2" stroke-width="2.2" />
<line x1="462.76" y1="566.4" x2="454.44" y2="561.6" stroke="#aeb2f2" stroke-width="2.2" />
<circle cx="458.6" cy="564" r="1.8" fill="#a4a8ee"/>
<line x1="471" y1="559.2" x2="471" y2="568.8" stroke="#aeb2f2" stroke-width="2.2" />
<line x1="475.16" y1="561.6" x2="466.84" y2="566.4" stroke="#aeb2f2" stroke-width="2.2" />
<line x1="475.16" y1="566.4" x2="466.84" y2="561.6" stroke="#aeb2f2" stroke-width="2.2" />
<circle cx="471" cy="564" r="1.8" fill="#a4a8ee"/>
<line x1="483.4" y1="559.2" x2="483.4" y2="568.8" stroke="#aeb2f2" stroke-width="2.2" />
<line x1="487.56" y1="561.6" x2="479.24" y2="566.4" stroke="#aeb2f2" stroke-width="2.2" />
<line x1="487.56" y1="566.4" x2="479.24" y2="561.6" stroke="#aeb2f2" stroke-width="2.2" />
<circle cx="483.4" cy="564" r="1.8" fill="#a4a8ee"/>
<line x1="440" y1="569.8" x2="440" y2="579.4" stroke="#aeb2f2" stroke-width="2.2" />
<line x1="444.16" y1="572.2" x2="435.84" y2="577" stroke="#aeb2f2" stroke-width="2.2" />
<line x1="444.16" y1="577" x2="435.84" y2="572.2" stroke="#aeb2f2" stroke-width="2.2" />
<circle cx="440" cy="574.6" r="1.8" fill="#a4a8ee"/>
<line x1="452.4" y1="569.8" x2="452.4" y2="579.4" stroke="#aeb2f2" stroke-width="2.2" />
<line x1="456.56" y1="572.2" x2="448.24" y2="577" stroke="#aeb2f2" stroke-width="2.2" />
<line x1="456.56" y1="577" x2="448.24" y2="572.2" stroke="#aeb2f2" stroke-width="2.2" />
<circle cx="452.4" cy="574.6" r="1.8" fill="#a4a8ee"/>
<line x1="464.8" y1="569.8" x2="464.8" y2="579.4" stroke="#aeb2f2" stroke-width="2.2" />
<line x1="468.96" y1="572.2" x2="460.64" y2="577" stroke="#aeb2f2" stroke-width="2.2" />
<line x1="468.96" y1="577" x2="460.64" y2="572.2" stroke="#aeb2f2" stroke-width="2.2" />
<circle cx="464.8" cy="574.6" r="1.8" fill="#a4a8ee"/>
<line x1="477.2" y1="569.8" x2="477.2" y2="579.4" stroke="#aeb2f2" stroke-width="2.2" />
<line x1="481.36" y1="572.2" x2="473.04" y2="577" stroke="#aeb2f2" stroke-width="2.2" />
<line x1="481.36" y1="577" x2="473.04" y2="572.2" stroke="#aeb2f2" stroke-width="2.2" />
<circle cx="477.2" cy="574.6" r="1.8" fill="#a4a8ee"/>
<line x1="489.6" y1="569.8" x2="489.6" y2="579.4" stroke="#aeb2f2" stroke-width="2.2" />
<line x1="493.76" y1="572.2" x2="485.44" y2="577" stroke="#aeb2f2" stroke-width="2.2" />
<line x1="493.76" y1="577" x2="485.44" y2="572.2" stroke="#aeb2f2" stroke-width="2.2" />
<circle cx="489.6" cy="574.6" r="1.8" fill="#a4a8ee"/>
<line x1="446.2" y1="580.4" x2="446.2" y2="590" stroke="#aeb2f2" stroke-width="2.2" />
<line x1="450.36" y1="582.8" x2="442.04" y2="587.6" stroke="#aeb2f2" stroke-width="2.2" />
<line x1="450.36" y1="587.6" x2="442.04" y2="582.8" stroke="#aeb2f2" stroke-width="2.2" />
<circle cx="446.2" cy="585.2" r="1.8" fill="#a4a8ee"/>
<line x1="458.6" y1="580.4" x2="458.6" y2="590" stroke="#aeb2f2" stroke-width="2.2" />
<line x1="462.76" y1="582.8" x2="454.44" y2="587.6" stroke="#aeb2f2" stroke-width="2.2" />
<line x1="462.76" y1="587.6" x2="454.44" y2="582.8" stroke="#aeb2f2" stroke-width="2.2" />
<circle cx="458.6" cy="585.2" r="1.8" fill="#a4a8ee"/>
<line x1="471" y1="580.4" x2="471" y2="590" stroke="#aeb2f2" stroke-width="2.2" />
<line x1="475.16" y1="582.8" x2="466.84" y2="587.6" stroke="#aeb2f2" stroke-width="2.2" />
<line x1="475.16" y1="587.6" x2="466.84" y2="582.8" stroke="#aeb2f2" stroke-width="2.2" />
<circle cx="471" cy="585.2" r="1.8" fill="#a4a8ee"/>
<line x1="483.4" y1="580.4" x2="483.4" y2="590" stroke="#aeb2f2" stroke-width="2.2" />
<line x1="487.56" y1="582.8" x2="479.24" y2="587.6" stroke="#aeb2f2" stroke-width="2.2" />
<line x1="487.56" y1="587.6" x2="479.24" y2="582.8" stroke="#aeb2f2" stroke-width="2.2" />
<circle cx="483.4" cy="585.2" r="1.8" fill="#a4a8ee"/>
<line x1="440" y1="591" x2="440" y2="600.6" stroke="#aeb2f2" stroke-width="2.2" />
<line x1="444.16" y1="593.4" x2="435.84" y2="598.2" stroke="#aeb2f2" stroke-width="2.2" />
<line x1="444.16" y1="598.2" x2="435.84" y2="593.4" stroke="#aeb2f2" stroke-width="2.2" />
<circle cx="440" cy="595.8" r="1.8" fill="#a4a8ee"/>
<line x1="452.4" y1="591" x2="452.4" y2="600.6" stroke="#aeb2f2" stroke-width="2.2" />
<line x1="456.56" y1="593.4" x2="448.24" y2="598.2" stroke="#aeb2f2" stroke-width="2.2" />
<line x1="456.56" y1="598.2" x2="448.24" y2="593.4" stroke="#aeb2f2" stroke-width="2.2" />
<circle cx="452.4" cy="595.8" r="1.8" fill="#a4a8ee"/>
<line x1="464.8" y1="591" x2="464.8" y2="600.6" stroke="#aeb2f2" stroke-width="2.2" />
<line x1="468.96" y1="593.4" x2="460.64" y2="598.2" stroke="#aeb2f2" stroke-width="2.2" />
<line x1="468.96" y1="598.2" x2="460.64" y2="593.4" stroke="#aeb2f2" stroke-width="2.2" />
<circle cx="464.8" cy="595.8" r="1.8" fill="#a4a8ee"/>
<line x1="477.2" y1="591" x2="477.2" y2="600.6" stroke="#aeb2f2" stroke-width="2.2" />
<line x1="481.36" y1="593.4" x2="473.04" y2="598.2" stroke="#aeb2f2" stroke-width="2.2" />
<line x1="481.36" y1="598.2" x2="473.04" y2="593.4" stroke="#aeb2f2" stroke-width="2.2" />
<circle cx="477.2" cy="595.8" r="1.8" fill="#a4a8ee"/>
<line x1="489.6" y1="591" x2="489.6" y2="600.6" stroke="#aeb2f2" stroke-width="2.2" />
<line x1="493.76" y1="593.4" x2="485.44" y2="598.2" stroke="#aeb2f2" stroke-width="2.2" />
<line x1="493.76" y1="598.2" x2="485.44" y2="593.4" stroke="#aeb2f2" stroke-width="2.2" />
<circle cx="489.6" cy="595.8" r="1.8" fill="#a4a8ee"/>
<line x1="446.2" y1="601.6" x2="446.2" y2="611.2" stroke="#aeb2f2" stroke-width="2.2" />
<line x1="450.36" y1="604" x2="442.04" y2="608.8" stroke="#aeb2f2" stroke-width="2.2" />
<line x1="450.36" y1="608.8" x2="442.04" y2="604" stroke="#aeb2f2" stroke-width="2.2" />
<circle cx="446.2" cy="606.4" r="1.8" fill="#a4a8ee"/>
<line x1="458.6" y1="601.6" x2="458.6" y2="611.2" stroke="#aeb2f2" stroke-width="2.2" />
<line x1="462.76" y1="604" x2="454.44" y2="608.8" stroke="#aeb2f2" stroke-width="2.2" />
<line x1="462.76" y1="608.8" x2="454.44" y2="604" stroke="#aeb2f2" stroke-width="2.2" />
<circle cx="458.6" cy="606.4" r="1.8" fill="#a4a8ee"/>
<line x1="471" y1="601.6" x2="471" y2="611.2" stroke="#aeb2f2" stroke-width="2.2" />
<line x1="475.16" y1="604" x2="466.84" y2="608.8" stroke="#aeb2f2" stroke-width="2.2" />
<line x1="475.16" y1="608.8" x2="466.84" y2="604" stroke="#aeb2f2" stroke-width="2.2" />
<circle cx="471" cy="606.4" r="1.8" fill="#a4a8ee"/>
<line x1="483.4" y1="601.6" x2="483.4" y2="611.2" stroke="#aeb2f2" stroke-width="2.2" />
<line x1="487.56" y1="604" x2="479.24" y2="608.8" stroke="#aeb2f2" stroke-width="2.2" />
<line x1="487.56" y1="608.8" x2="479.24" y2="604" stroke="#aeb2f2" stroke-width="2.2" />
<circle cx="483.4" cy="606.4" r="1.8" fill="#a4a8ee"/>
<line x1="440" y1="612.2" x2="440" y2="621.8" stroke="#aeb2f2" stroke-width="2.2" />
<line x1="444.16" y1="614.6" x2="435.84" y2="619.4" stroke="#aeb2f2" stroke-width="2.2" />
<line x1="444.16" y1="619.4" x2="435.84" y2="614.6" stroke="#aeb2f2" stroke-width="2.2" />
<circle cx="440" cy="617" r="1.8" fill="#a4a8ee"/>
<line x1="452.4" y1="612.2" x2="452.4" y2="621.8" stroke="#aeb2f2" stroke-width="2.2" />
<line x1="456.56" y1="614.6" x2="448.24" y2="619.4" stroke="#aeb2f2" stroke-width="2.2" />
<line x1="456.56" y1="619.4" x2="448.24" y2="614.6" stroke="#aeb2f2" stroke-width="2.2" />
<circle cx="452.4" cy="617" r="1.8" fill="#a4a8ee"/>
<line x1="464.8" y1="612.2" x2="464.8" y2="621.8" stroke="#aeb2f2" stroke-width="2.2" />
<line x1="468.96" y1="614.6" x2="460.64" y2="619.4" stroke="#aeb2f2" stroke-width="2.2" />
<line x1="468.96" y1="619.4" x2="460.64" y2="614.6" stroke="#aeb2f2" stroke-width="2.2" />
<circle cx="464.8" cy="617" r="1.8" fill="#a4a8ee"/>
<line x1="477.2" y1="612.2" x2="477.2" y2="621.8" stroke="#aeb2f2" stroke-width="2.2" />
<line x1="481.36" y1="614.6" x2="473.04" y2="619.4" stroke="#aeb2f2" stroke-width="2.2" />
<line x1="481.36" y1="619.4" x2="473.04" y2="614.6" stroke="#aeb2f2" stroke-width="2.2" />
<circle cx="477.2" cy="617" r="1.8" fill="#a4a8ee"/>
<line x1="489.6" y1="612.2" x2="489.6" y2="621.8" stroke="#aeb2f2" stroke-width="2.2" />
<line x1="493.76" y1="614.6" x2="485.44" y2="619.4" stroke="#aeb2f2" stroke-width="2.2" />
<line x1="493.76" y1="619.4" x2="485.44" y2="614.6" stroke="#aeb2f2" stroke-width="2.2" />
<circle cx="489.6" cy="617" r="1.8" fill="#a4a8ee"/>
</g>
<line x1="433.5" y1="507" x2="433.5" y2="613" stroke="#aaa" stroke-width="0.4" />
<line x1="492" y1="507" x2="492" y2="613" stroke="#aaa" stroke-width="0.4" />
<polyline points="414.87,590.6 415.81,590.56 417.19,590.51 418.74,590.44 420.24,590.34 421.45,590.21 422.3,589.98 422.96,589.66 423.52,589.34 424.04,589.13 424.63,589.15 425.24,589.33 425.83,589.6 426.43,590.05 427.08,590.76 427.8,591.81 428.66,593.49 429.64,595.75 430.64,598.15 431.57,600.25 432.34,601.59 432.89,601.93 433.28,601.56 433.59,600.86 433.93,600.22 434.39,599.99 434.99,600.21 435.68,600.63 436.41,601.21 437.13,601.91 437.79,602.7 438.37,603.9 438.91,605.55 439.43,607.14 439.95,608.19 440.52,608.22 441.09,606.51 441.67,603.4 442.27,599.93 442.93,597.19 443.69,596.21 444.59,597.98 445.59,601.77 446.65,606.15 447.7,609.69 448.69,610.93 449.61,608.95 450.51,604.71 451.37,599.6 452.21,595.03 453,592.39 453.76,592.47 454.49,594.34 455.19,596.81 455.83,598.7 456.41,598.83 456.89,596.79 457.28,593.37 457.63,589.18 458,584.83 458.45,580.92 458.97,577.45 459.54,574 460.14,570.6 460.77,567.26 461.4,563.98 462.05,560.5 462.72,556.8 463.4,553.29 464.1,550.39 464.81,548.49 465.51,547.55 466.23,547.31 466.96,547.82 467.69,549.16 468.44,551.4 469.19,555.52 469.94,561.49 470.71,567.82 471.49,573.02 472.3,575.6 473.14,574.86 474.02,571.8 474.91,567.46 475.78,562.9 476.61,559.14 477.37,555.83 478.08,552.28 478.77,549.02 479.48,546.61 480.24,545.59 481.08,546.77 481.98,549.79 482.89,553.43 483.77,556.47 484.55,557.69 485.25,556.55 485.88,553.88 486.46,550.46 486.99,547.11 487.5,544.62 487.95,543.24 488.31,542.44 488.66,541.84 489.05,541.08 489.55,539.78 490.17,537.75 490.89,535.23 491.65,532.52 492.43,529.91 493.18,527.68 493.92,525.77 494.68,523.99 495.42,522.43 496.14,521.21 496.81,520.42 497.41,520.17 497.97,520.39 498.49,520.93 499.01,521.64 499.54,522.36 500.07,523.2 500.59,524.27 501.12,525.4 501.67,526.43 502.26,527.2 502.9,527.66 503.57,527.93 504.27,528.07 504.97,528.13 505.67,528.16 506.4,528.15 507.19,528.05 507.95,527.91 508.61,527.77 509.07,527.68" fill="none" stroke="#f02828" stroke-width="1.4" stroke-linejoin="round" stroke-linecap="round" />
<rect x="393.3" y="506" width="136.2" height="108.8" fill="none" stroke="#555" stroke-width="0.9"/>
<line x1="393.3" y1="614.8" x2="395.3" y2="614.8" stroke="#444" stroke-width="0.6" />
<text x="390.8" y="618.2" font-size="9.4" fill="#222" font-weight="normal" text-anchor="end" font-family='"Liberation Sans", sans-serif' textLength="7.75" lengthAdjust="spacingAndGlyphs" >&#8722;5</text>
<line x1="393.3" y1="590.6" x2="395.3" y2="590.6" stroke="#444" stroke-width="0.6" />
<text x="390.8" y="594" font-size="9.4" fill="#222" font-weight="normal" text-anchor="end" font-family='"Liberation Sans", sans-serif' textLength="4.55" lengthAdjust="spacingAndGlyphs" >0</text>
<line x1="393.3" y1="566.4" x2="395.3" y2="566.4" stroke="#444" stroke-width="0.6" />
<text x="390.8" y="569.8" font-size="9.4" fill="#222" font-weight="normal" text-anchor="end" font-family='"Liberation Sans", sans-serif' textLength="4.55" lengthAdjust="spacingAndGlyphs" >5</text>
<line x1="393.3" y1="542.2" x2="395.3" y2="542.2" stroke="#444" stroke-width="0.6" />
<text x="390.8" y="545.6" font-size="9.4" fill="#222" font-weight="normal" text-anchor="end" font-family='"Liberation Sans", sans-serif' textLength="9.1" lengthAdjust="spacingAndGlyphs" >10</text>
<line x1="393.3" y1="518" x2="395.3" y2="518" stroke="#444" stroke-width="0.6" />
<text x="390.8" y="521.4" font-size="9.4" fill="#222" font-weight="normal" text-anchor="end" font-family='"Liberation Sans", sans-serif' textLength="9.1" lengthAdjust="spacingAndGlyphs" >15</text>
<line x1="393.3" y1="614.8" x2="393.3" y2="612.8" stroke="#444" stroke-width="0.6" />
<text x="393.3" y="625.1" font-size="9.4" fill="#222" font-weight="normal" text-anchor="middle" font-family='"Liberation Sans", sans-serif' textLength="9.1" lengthAdjust="spacingAndGlyphs" >10</text>
<line x1="416" y1="614.8" x2="416" y2="612.8" stroke="#444" stroke-width="0.6" />
<text x="416" y="625.1" font-size="9.4" fill="#222" font-weight="normal" text-anchor="middle" font-family='"Liberation Sans", sans-serif' textLength="9.1" lengthAdjust="spacingAndGlyphs" >20</text>
<line x1="438.7" y1="614.8" x2="438.7" y2="612.8" stroke="#444" stroke-width="0.6" />
<text x="438.7" y="625.1" font-size="9.4" fill="#222" font-weight="normal" text-anchor="middle" font-family='"Liberation Sans", sans-serif' textLength="9.1" lengthAdjust="spacingAndGlyphs" >30</text>
<line x1="461.4" y1="614.8" x2="461.4" y2="612.8" stroke="#444" stroke-width="0.6" />
<text x="461.4" y="625.1" font-size="9.4" fill="#222" font-weight="normal" text-anchor="middle" font-family='"Liberation Sans", sans-serif' textLength="9.1" lengthAdjust="spacingAndGlyphs" >40</text>
<line x1="484.1" y1="614.8" x2="484.1" y2="612.8" stroke="#444" stroke-width="0.6" />
<text x="484.1" y="625.1" font-size="9.4" fill="#222" font-weight="normal" text-anchor="middle" font-family='"Liberation Sans", sans-serif' textLength="9.1" lengthAdjust="spacingAndGlyphs" >50</text>
<line x1="506.8" y1="614.8" x2="506.8" y2="612.8" stroke="#444" stroke-width="0.6" />
<text x="506.8" y="625.1" font-size="9.4" fill="#222" font-weight="normal" text-anchor="middle" font-family='"Liberation Sans", sans-serif' textLength="9.1" lengthAdjust="spacingAndGlyphs" >60</text>
<line x1="529.5" y1="614.8" x2="529.5" y2="612.8" stroke="#444" stroke-width="0.6" />
<text x="529.5" y="625.1" font-size="9.4" fill="#222" font-weight="normal" text-anchor="middle" font-family='"Liberation Sans", sans-serif' textLength="9.1" lengthAdjust="spacingAndGlyphs" >70</text>
<text x="462.7" y="640.5" font-size="9.2" fill="#222" text-anchor="middle" font-family='"Liberation Sans", sans-serif' textLength="64" lengthAdjust="spacingAndGlyphs"><tspan font-style="italic">x</tspan> coordinate (&#197;)</text>
<text transform="translate(375.3 566) rotate(-90)" x="0" y="0" font-size="9.2" fill="#222" font-weight="normal" text-anchor="middle" font-family='"Liberation Sans", sans-serif' textLength="113" lengthAdjust="spacingAndGlyphs">Potential of mean force (kT)</text>
<text x="454" y="516.8" font-size="9.6" fill="#111" font-weight="normal" text-anchor="start" font-family='"Liberation Serif", serif' textLength="20.3" lengthAdjust="spacingAndGlyphs" stroke="#111" stroke-width="0.12">MOF</text>
<line x1="496" y1="521.5" x2="503" y2="521.5" stroke="#777" stroke-width="0.5" />
<line x1="478" y1="540.5" x2="503" y2="540.5" stroke="#777" stroke-width="0.5" />
<line x1="480" y1="545.8" x2="501.3" y2="545.8" stroke="#777" stroke-width="0.5" />
<line x1="464.2" y1="548" x2="495.5" y2="548" stroke="#777" stroke-width="0.5" />
<line x1="471.5" y1="576" x2="501.3" y2="576" stroke="#777" stroke-width="0.5" />
<line x1="459" y1="579" x2="495.5" y2="579" stroke="#777" stroke-width="0.5" />
<line x1="457" y1="600" x2="495.5" y2="600" stroke="#777" stroke-width="0.5" />
<line x1="500" y1="521.5" x2="500" y2="540.5" stroke="#666" stroke-width="0.5" />
<line x1="498.8" y1="521.5" x2="501.2" y2="521.5" stroke="#666" stroke-width="0.5" />
<line x1="498.8" y1="540.5" x2="501.2" y2="540.5" stroke="#666" stroke-width="0.5" />
<line x1="500.5" y1="545.8" x2="500.5" y2="576" stroke="#666" stroke-width="0.5" />
<line x1="499.3" y1="545.8" x2="501.7" y2="545.8" stroke="#666" stroke-width="0.5" />
<line x1="499.3" y1="576" x2="501.7" y2="576" stroke="#666" stroke-width="0.5" />
<line x1="494" y1="548" x2="494" y2="576" stroke="#666" stroke-width="0.5" />
<line x1="492.8" y1="548" x2="495.2" y2="548" stroke="#666" stroke-width="0.5" />
<line x1="492.8" y1="576" x2="495.2" y2="576" stroke="#666" stroke-width="0.5" />
<line x1="494" y1="579" x2="494" y2="600" stroke="#666" stroke-width="0.5" />
<line x1="492.8" y1="579" x2="495.2" y2="579" stroke="#666" stroke-width="0.5" />
<line x1="492.8" y1="600" x2="495.2" y2="600" stroke="#666" stroke-width="0.5" />
<text x="502.8" y="537" font-size="8" fill="#222" font-weight="normal" text-anchor="start" font-family='"Liberation Sans", sans-serif' textLength="26.5" lengthAdjust="spacingAndGlyphs" >3.89 kT</text>
<text x="502.8" y="561.5" font-size="8" fill="#222" font-weight="normal" text-anchor="start" font-family='"Liberation Sans", sans-serif' textLength="26.5" lengthAdjust="spacingAndGlyphs" >6.29 kT</text>
<text x="495.4" y="572.5" font-size="8" fill="#222" font-weight="normal" text-anchor="start" font-family='"Liberation Sans", sans-serif' textLength="26" lengthAdjust="spacingAndGlyphs" >6.17 kT</text>
<text x="493.5" y="593" font-size="8" fill="#222" font-weight="normal" text-anchor="start" font-family='"Liberation Sans", sans-serif' textLength="26" lengthAdjust="spacingAndGlyphs" >4.39 kT</text>
</svg>
</body></html>
